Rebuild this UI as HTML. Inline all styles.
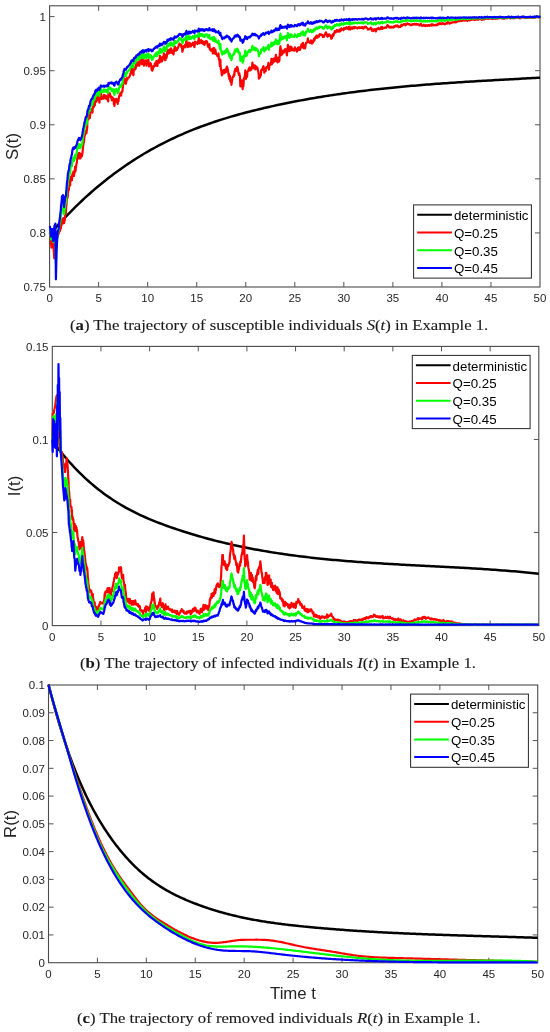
<!DOCTYPE html>
<html><head><meta charset="utf-8"><title>Figure</title>
<style>
html,body{margin:0;padding:0;background:#fff;}
body{width:550px;height:1032px;overflow:hidden;position:relative;}
svg{position:absolute;left:0;top:0;}
.cap{position:absolute;left:0;transform:scaleX(1.078);transform-origin:0 0;-webkit-text-stroke:0.12px #1a1a1a;white-space:nowrap;font-family:"Liberation Serif", "Times New Roman", serif;color:#1a1a1a;font-size:15.5px;line-height:1;}
</style></head><body>
<svg width="550" height="1032" viewBox="0 0 550 1032" font-family='"Liberation Sans", Arial, sans-serif' font-size="11.5" fill="#262626">
<path d="M98.64 287 v-5 M98.64 5.8 v5 M147.68 287 v-5 M147.68 5.8 v5 M196.72 287 v-5 M196.72 5.8 v5 M245.76 287 v-5 M245.76 5.8 v5 M294.8 287 v-5 M294.8 5.8 v5 M343.84 287 v-5 M343.84 5.8 v5 M392.88 287 v-5 M392.88 5.8 v5 M441.92 287 v-5 M441.92 5.8 v5 M490.96 287 v-5 M490.96 5.8 v5 M49.6 232.92 h5 M540 232.92 h-5 M49.6 178.85 h5 M540 178.85 h-5 M49.6 124.77 h5 M540 124.77 h-5 M49.6 70.69 h5 M540 70.69 h-5 M49.6 16.62 h5 M540 16.62 h-5" stroke="#555" stroke-width="1" fill="none"/>
<rect x="49.6" y="5.8" width="490.4" height="281.2" fill="none" stroke="#4a4a4a" stroke-width="1.1"/>
<path d="M49.6 234.4 L52.06 231.58 L54.53 228.8 L56.99 226.06 L59.46 223.37 L61.92 220.72 L64.39 218.11 L66.85 215.55 L69.31 213.02 L71.78 210.53 L74.24 208.09 L76.71 205.68 L79.17 203.32 L81.64 200.99 L84.1 198.7 L86.56 196.45 L89.03 194.23 L91.49 192.06 L93.96 189.92 L96.42 187.82 L98.89 185.75 L101.35 183.72 L103.82 181.72 L106.28 179.76 L108.74 177.83 L111.21 175.94 L113.67 174.08 L116.14 172.26 L118.6 170.47 L121.07 168.7 L123.53 166.98 L125.99 165.28 L128.46 163.61 L130.92 161.98 L133.39 160.37 L135.85 158.8 L138.32 157.25 L140.78 155.74 L143.24 154.25 L145.71 152.79 L148.17 151.36 L150.64 149.96 L153.1 148.58 L155.57 147.23 L158.03 145.91 L160.49 144.61 L162.96 143.34 L165.42 142.09 L167.89 140.87 L170.35 139.67 L172.82 138.5 L175.28 137.35 L177.74 136.22 L180.21 135.11 L182.67 134.03 L185.14 132.97 L187.6 131.93 L190.07 130.91 L192.53 129.91 L194.99 128.93 L197.46 127.97 L199.92 127.04 L202.39 126.12 L204.85 125.21 L207.32 124.33 L209.78 123.46 L212.25 122.62 L214.71 121.78 L217.17 120.97 L219.64 120.17 L222.1 119.39 L224.57 118.62 L227.03 117.87 L229.5 117.13 L231.96 116.4 L234.42 115.69 L236.89 115 L239.35 114.31 L241.82 113.64 L244.28 112.98 L246.75 112.33 L249.21 111.69 L251.67 111.07 L254.14 110.45 L256.6 109.84 L259.07 109.25 L261.53 108.66 L264 108.08 L266.46 107.51 L268.92 106.95 L271.39 106.39 L273.85 105.85 L276.32 105.31 L278.78 104.78 L281.25 104.26 L283.71 103.74 L286.17 103.24 L288.64 102.74 L291.1 102.25 L293.57 101.77 L296.03 101.29 L298.5 100.82 L300.96 100.36 L303.43 99.91 L305.89 99.46 L308.35 99.02 L310.82 98.59 L313.28 98.16 L315.75 97.74 L318.21 97.33 L320.68 96.92 L323.14 96.53 L325.6 96.13 L328.07 95.75 L330.53 95.37 L333 94.99 L335.46 94.62 L337.93 94.26 L340.39 93.91 L342.85 93.56 L345.32 93.21 L347.78 92.88 L350.25 92.54 L352.71 92.22 L355.18 91.9 L357.64 91.58 L360.1 91.27 L362.57 90.96 L365.03 90.66 L367.5 90.37 L369.96 90.08 L372.43 89.8 L374.89 89.52 L377.35 89.24 L379.82 88.97 L382.28 88.7 L384.75 88.44 L387.21 88.19 L389.68 87.93 L392.14 87.69 L394.61 87.44 L397.07 87.2 L399.53 86.97 L402 86.73 L404.46 86.51 L406.93 86.28 L409.39 86.06 L411.86 85.85 L414.32 85.63 L416.78 85.42 L419.25 85.22 L421.71 85.02 L424.18 84.82 L426.64 84.62 L429.11 84.43 L431.57 84.24 L434.03 84.05 L436.5 83.87 L438.96 83.69 L441.43 83.51 L443.89 83.33 L446.36 83.16 L448.82 82.99 L451.28 82.82 L453.75 82.65 L456.21 82.49 L458.68 82.33 L461.14 82.17 L463.61 82.01 L466.07 81.85 L468.53 81.7 L471 81.55 L473.46 81.4 L475.93 81.25 L478.39 81.1 L480.86 80.95 L483.32 80.81 L485.78 80.67 L488.25 80.52 L490.71 80.38 L493.18 80.24 L495.64 80.1 L498.11 79.96 L500.57 79.83 L503.04 79.69 L505.5 79.55 L507.96 79.42 L510.43 79.28 L512.89 79.15 L515.36 79.01 L517.82 78.88 L520.29 78.75 L522.75 78.61 L525.21 78.48 L527.68 78.34 L530.14 78.21 L532.61 78.07 L535.07 77.94 L537.54 77.8 L540 77.67" fill="none" stroke="#000" stroke-width="2.5" stroke-linejoin="round" stroke-linecap="butt" />
<path d="M49.9 232 L50.4 236.88 L50.9 241.75 L51 242.72 L51.4 246.62 L51.5 247.6 L51.9 245.57 L52.1 244.56 L52.4 243.04 L52.9 240.51 L53 240 L53.2 242.85 L53.4 245.69 L53.9 252.81 L54.3 258.5 L54.4 257.38 L54.9 251.75 L55.4 246.12 L55.5 245 L55.9 243.13 L56.4 240.8 L56.6 239.87 L56.9 238.47 L57 238 L57.4 236.8 L57.6 236.2 L57.9 235.3 L58.4 233.97 L58.6 233.1 L58.9 233.36 L59 231.27 L59.4 229.99 L59.8 231.23 L59.9 231.16 L60.4 228.61 L60.9 228.18 L61 219.65 L61.4 225.53 L61.9 221.43 L62 218.6 L62.4 221.52 L62.5 223.49 L62.9 220.8 L63 218.48 L63.4 219.97 L63.9 219.69 L64 223.24 L64.3 222.33 L64.4 220.36 L64.9 219.87 L65 216.72 L65.4 212.32 L65.5 214.79 L65.9 212.06 L66 209.47 L66.4 203.98 L66.5 204.98 L66.9 195.88 L67.4 198.08 L67.8 196.37 L67.9 190.79 L68 192.75 L68.4 188.92 L68.9 189.94 L69.4 181.55 L69.9 179.9 L70 183.65 L70.2 185.31 L70.4 177.22 L70.9 177.29 L71.4 178.1 L71.5 176.22 L71.9 180.4 L72.4 174.15 L72.9 175.4 L73.4 171.7 L73.9 175.94 L74.4 173.07 L74.9 170.7 L75 166.79 L75.4 171.29 L75.9 167.8 L76.4 164.4 L76.9 161.95 L77 159.63 L77.4 156.31 L77.9 154.55 L78.4 153.67 L78.9 158.36 L79 152.9 L79.4 153 L79.7 153.52 L79.9 155.68 L80.4 158.44 L80.9 155.81 L81.1 153.98 L81.4 155.53 L81.9 156.3 L82.4 153.13 L82.9 148.58 L83.1 145.58 L83.4 144.61 L83.8 140.99 L83.9 142.72 L84.4 136.67 L84.9 135.17 L85.4 132.16 L85.8 131.46 L85.9 130.59 L86.4 133.38 L86.9 129.7 L87.2 127.75 L87.4 118.46 L87.9 118.6 L88.4 117 L88.5 119.46 L88.9 112.28 L89.4 117.52 L89.9 117.84 L90.4 111.17 L90.6 109.82 L90.9 109.06 L91.4 109.6 L91.9 110.11 L92.4 112.59 L92.9 106.73 L93.4 106.22 L93.9 103.46 L94 106.72 L94.4 104.72 L94.9 105.1 L95.3 98.87 L95.4 99.19 L95.9 97.08 L96.4 101.61 L96.9 100.39 L97.3 97.31 L97.4 96.16 L97.9 97.92 L98.4 95.42 L98.7 94.05 L98.9 97.05 L99.4 102.63 L99.9 97.54 L100.4 95.13 L100.7 92.84 L100.9 91.95 L101.4 96.58 L101.9 99.04 L102.1 97.76 L102.4 98.36 L102.9 98.33 L103.4 98.66 L103.9 94.96 L104.1 96.51 L104.4 98.16 L104.8 96.31 L104.9 96.52 L105.4 95.5 L105.9 96.2 L106.4 99.14 L106.9 96.76 L107.4 96.48 L107.5 98.79 L107.9 98.88 L108.2 101.38 L108.4 92.52 L108.9 96.19 L109.4 93.32 L109.9 93.26 L110.2 94.67 L110.4 96.26 L110.9 97.5 L111.4 96.4 L111.9 100.32 L112.4 97.55 L112.9 97.76 L113.4 100.81 L113.6 98.52 L113.9 104.4 L114.3 103.43 L114.4 105.96 L114.9 101.41 L115.4 99.24 L115.9 99.99 L116.3 101.65 L116.4 98.91 L116.9 100.53 L117.4 100.11 L117.7 104 L117.9 99.33 L118.4 101.55 L118.9 97.64 L119.4 95.26 L119.9 94.71 L120.4 92.93 L120.9 93.47 L121.1 95.55 L121.4 92.91 L121.9 91.29 L122.4 91.59 L122.9 86.68 L123.1 84.78 L123.4 83.06 L123.9 78.88 L124.4 83.07 L124.5 78.23 L124.9 82.3 L125.4 81.52 L125.9 83.74 L126.4 81.14 L126.9 78.17 L127.4 79.82 L127.9 77.73 L128.4 77.49 L128.9 77.49 L129.4 76.58 L129.9 75.7 L130.4 73.38 L130.9 73.78 L131.4 68.66 L131.9 71.49 L132.4 69.32 L132.9 73.86 L133.4 75.11 L133.9 67.13 L134.4 69.38 L134.5 69.47 L134.9 66.76 L135.4 69.31 L135.9 67.19 L136.4 62.91 L136.9 64.84 L137.4 65.25 L137.9 65.54 L138.4 61.9 L138.9 64.87 L139.4 65.6 L139.9 60.76 L140.4 60.05 L140.9 60.79 L141.4 59.37 L141.8 64.27 L141.9 62.13 L142.4 58.47 L142.9 57.88 L143.4 59.46 L143.9 65.65 L144.4 61.43 L144.9 60.88 L145.4 61.63 L145.9 60.47 L146.4 65.76 L146.9 60.44 L147.3 61.94 L147.4 61.15 L147.9 62.84 L148.4 59.55 L148.9 66.36 L149.4 64.38 L149.9 64.77 L150.4 63.11 L150.9 63.72 L151.4 67.66 L151.8 70.31 L151.9 70.17 L152.4 70.52 L152.9 68.88 L153.4 66.17 L153.9 66.79 L154.4 65.84 L154.9 63.32 L155.4 64.05 L155.5 65.71 L155.9 63.45 L156.4 61.1 L156.9 62.81 L157.4 66 L157.9 61.59 L158.4 60.34 L158.9 59.65 L159.4 62.56 L159.9 55.74 L160.4 58.87 L160.9 61.62 L161.4 57.33 L161.9 61.46 L162.4 60.16 L162.9 56.91 L163.4 57.56 L163.9 53.3 L164.4 54.19 L164.9 60.04 L165.4 55.01 L165.5 60.11 L165.9 56.77 L166.4 58.07 L166.9 55.98 L167.4 49.82 L167.9 51.65 L168.4 53.71 L168.9 51.06 L169.4 49.62 L169.9 52.8 L170.4 51.27 L170.9 48.32 L171.4 49.43 L171.9 52.85 L172.4 50.79 L172.9 52.92 L173.4 54.54 L173.9 51.68 L174.4 48.22 L174.9 46.64 L175.4 48.52 L175.9 50.65 L176.4 49.83 L176.9 49.9 L177.4 47.77 L177.9 48.33 L178.2 46.94 L178.4 46.8 L178.9 44.82 L179.4 43.62 L179.9 45.2 L180.4 44.42 L180.9 44.37 L181.4 47.25 L181.9 46.59 L182.4 51.77 L182.9 49.61 L183.4 46.05 L183.9 47.41 L184.4 46.96 L184.9 44.88 L185.4 47.32 L185.9 44.64 L186.4 39.76 L186.9 44.92 L187.4 43.92 L187.9 47.14 L188.4 44.33 L188.9 42.5 L189.4 46.48 L189.9 43.14 L190.4 44.19 L190.9 46.48 L191.4 44.84 L191.9 43.92 L192.4 43.85 L192.7 44.99 L192.9 42.61 L193.4 44.08 L193.9 44.36 L194.4 47.16 L194.9 43.61 L195 41.64 L195.4 43.56 L195.9 42.2 L196.4 42.76 L196.9 42.56 L197.4 43.98 L197.9 41.46 L198.4 41.46 L198.8 37.65 L198.9 39.1 L199.4 43.39 L199.9 41.41 L200.4 40.89 L200.9 40.04 L201.4 42.71 L201.9 43.01 L202.4 41.05 L202.6 43.43 L202.9 43.39 L203.4 44.03 L203.9 41.92 L204.4 44.92 L204.9 43.63 L205.4 42.33 L205.9 41.22 L206.4 41.21 L206.9 42.79 L207.1 41.53 L207.4 44.03 L207.7 44.59 L207.9 46.3 L208.4 47.16 L208.9 46.8 L209.4 44.09 L209.6 47.53 L209.9 49.68 L210.4 49.54 L210.9 50.63 L211.4 49.25 L211.9 49.35 L212.4 48.55 L212.8 53.38 L212.9 52.17 L213.4 50.33 L213.9 47.96 L214.1 49.7 L214.4 53.49 L214.9 52.49 L215.4 49.66 L215.9 53.18 L216 54.24 L216.4 54.32 L216.9 54.58 L217.4 56.04 L217.9 55.71 L218.4 56.71 L218.5 53.35 L218.9 59.46 L219.4 59.97 L219.9 66.05 L220.4 59.49 L220.5 64.01 L220.9 69.31 L221.4 70.9 L221.7 74.59 L221.9 75.34 L222.4 74.44 L222.9 70.89 L223.4 70.23 L223.9 72.32 L224.4 73.02 L224.9 69.79 L225.4 69.49 L225.5 69.65 L225.9 72.1 L226.4 68.09 L226.9 66.55 L227.4 69.97 L227.5 67.95 L227.9 70.05 L228.4 73.73 L228.7 76.36 L228.9 73.75 L229.4 79.17 L229.9 75.78 L230.4 81.73 L230.9 79.61 L231.3 80.64 L231.4 84.78 L231.9 81.55 L232.4 78.19 L232.9 76.62 L233.4 76.94 L233.8 74.75 L233.9 74.37 L234.4 75.59 L234.5 71.77 L234.9 70.19 L235.4 68.54 L235.9 71.2 L236.4 70.6 L236.9 70.16 L237 66.94 L237.4 67.18 L237.6 70.01 L237.9 68.66 L238.4 72.71 L238.9 74.91 L239.4 73.34 L239.5 74.2 L239.9 76.09 L240.2 82.02 L240.4 86.39 L240.9 83.15 L241.4 84.07 L241.9 80.34 L242.4 86.92 L242.7 89.05 L242.9 85.45 L243.4 86.22 L243.9 78.56 L244.4 77.43 L244.9 75.81 L245.3 70.41 L245.4 75.08 L245.9 78.93 L246.4 75.57 L246.5 74.3 L246.9 77.13 L247.2 75.71 L247.4 71.96 L247.9 71.33 L248.4 70.21 L248.9 68.4 L249.4 68.84 L249.7 67.29 L249.9 70.5 L250.4 70.33 L250.9 68.45 L251 68.88 L251.4 69.47 L251.9 68 L252.4 62.7 L252.9 66.08 L253.4 65.04 L253.9 68.38 L254.4 65.52 L254.8 65.63 L254.9 65.4 L255.4 69.45 L255.9 67.59 L256.4 66.55 L256.9 68.25 L257.4 67.54 L257.9 70.32 L258.4 71.98 L258.6 73.34 L258.9 78.64 L259.4 76 L259.9 77.53 L260.4 75.17 L260.9 75.4 L261.2 70.42 L261.4 69.74 L261.9 69.63 L262.4 69.83 L262.5 68.61 L262.9 67.39 L263.4 66.26 L263.9 69.42 L264.4 72.77 L264.9 71.17 L265.4 70.48 L265.8 70.99 L265.9 67.56 L266.4 67.38 L266.9 66.92 L267.4 67.63 L267.9 66.53 L268.4 62.78 L268.7 67.16 L268.9 69.73 L269.4 65.14 L269.9 64.92 L270.4 64.07 L270.9 64.62 L271.4 58.79 L271.9 64.14 L272.4 60.2 L272.9 62.79 L273.1 60.6 L273.4 58.88 L273.9 58.97 L274.4 61.54 L274.5 58 L274.9 58.13 L275.4 57.91 L275.9 54.83 L276.4 61.28 L276.9 61.45 L277.4 60.03 L277.5 62.51 L277.9 57.52 L278.4 57.67 L278.9 61.64 L279.4 60.53 L279.9 51.95 L280.4 46.41 L280.9 49.78 L281.4 55.14 L281.8 52.89 L281.9 52.82 L282.4 53.99 L282.9 50.61 L283.4 51.5 L283.9 52.48 L284 52.16 L284.4 51.78 L284.9 49.45 L285.4 50.89 L285.9 49.25 L286.4 52.1 L286.9 55.3 L287.4 49.51 L287.9 44.82 L288.4 46.72 L288.9 48.7 L289.1 50.57 L289.4 51.21 L289.9 47.79 L290.4 46.75 L290.9 50.43 L291.4 46.96 L291.9 50.15 L292.4 48.56 L292.9 50 L293.4 50.32 L293.9 50.55 L294.4 50.71 L294.9 47.24 L295.4 48.81 L295.9 48.81 L296.4 49.46 L296.9 51.56 L297.4 49.31 L297.9 47.83 L298.4 47.43 L298.5 48.13 L298.9 50.09 L299.4 47.28 L299.9 49.94 L300.4 48.76 L300.9 47.13 L301.4 44.33 L301.9 46.08 L302.4 47.08 L302.9 42.74 L303.4 46.32 L303.6 48.1 L303.9 46.23 L304.4 45.66 L304.9 48.44 L305.4 47.04 L305.9 42.91 L306.4 42.89 L306.9 42.43 L307.4 42.07 L307.9 38.32 L308 42.04 L308.4 40.97 L308.9 41.82 L309.4 41.56 L309.9 42.96 L310.4 41.55 L310.9 40.31 L311.4 41.9 L311.9 43.62 L312.4 41.49 L312.9 42.72 L313.4 41 L313.9 38.93 L314.4 40.66 L314.9 37.6 L315.3 38.74 L315.4 37.27 L315.9 37.86 L316.4 35.81 L316.9 35.57 L317.4 37.71 L317.9 37.15 L318.2 36.74 L318.4 36.01 L318.9 36.69 L319.4 34.58 L319.9 34.17 L320.4 35.05 L320.9 34.4 L321.1 34.35 L321.4 35.03 L321.9 35.11 L322.4 34.98 L322.9 37.03 L323.4 36.85 L323.9 36.99 L324.4 35.57 L324.9 34.57 L325.4 33.18 L325.5 33.99 L325.9 32.27 L326.4 33.36 L326.9 35.12 L327.4 36.7 L327.9 36.52 L328.4 34.51 L328.9 35.47 L329.4 34.39 L329.9 35.94 L330.4 35.42 L330.9 36.43 L331.3 38.74 L331.4 37.43 L331.9 38.17 L332.4 35.68 L332.7 34.28 L332.9 35.53 L333.4 35.89 L333.9 33.35 L334.4 32.93 L334.9 31.06 L335.4 31.4 L335.6 32.44 L335.9 31.81 L336.4 31.05 L336.9 29.96 L337.4 31.1 L337.9 31.68 L338.4 31.55 L338.9 31.1 L339.4 29.56 L339.9 31.51 L340 30.6 L340.4 30.13 L340.9 30.57 L341.4 28.27 L341.9 29.14 L342.4 29.22 L342.9 29.52 L343.4 30.22 L343.9 29.64 L344.1 27.74 L344.4 28.27 L344.9 28.79 L345.4 28.87 L345.9 27.82 L346.4 27.19 L346.9 28.58 L347.4 28.81 L347.9 28.58 L348.4 27.26 L348.9 29.32 L349.4 26.59 L349.9 27.54 L350.4 29.51 L350.9 28.49 L351.4 28.42 L351.9 27.38 L352.4 28.79 L352.9 27.36 L353.2 27.97 L353.4 28.08 L353.9 27.28 L354.4 28.34 L354.9 27.08 L355.4 27.19 L355.9 27.65 L356.4 27.51 L356.9 28.05 L357.4 28.5 L357.9 27.8 L358.4 27.41 L358.9 27.3 L359.4 27.35 L359.9 28.13 L360.4 27.67 L360.9 27.93 L361.4 27.66 L361.9 27.06 L362.3 28 L362.4 27.05 L362.9 27.5 L363.4 28.67 L363.9 27.33 L364.4 27.66 L364.9 26.76 L365.4 27.26 L365.9 26.77 L366.4 27.5 L366.9 27.68 L367.4 28.28 L367.9 29.59 L368.4 29.14 L368.9 29.37 L369.4 29 L369.9 28.83 L370.4 28.42 L370.9 27.64 L371.4 28.91 L371.9 30.58 L372.4 30.29 L372.9 29.49 L373.4 31.06 L373.9 29.97 L374.4 29.56 L374.9 29.04 L375 29.07 L375.4 29.54 L375.9 31.37 L376.4 30.04 L376.9 28.9 L377.4 28.79 L377.9 28.95 L378.4 27.77 L378.9 28.7 L379.4 29.3 L379.9 29.08 L380.4 29.11 L380.9 27.67 L381.4 26.86 L381.9 28.59 L382.3 28.89 L382.4 27.2 L382.9 27.83 L383.4 27.85 L383.9 28.16 L384.4 27.99 L384.9 27.42 L385.4 27.66 L385.9 27.67 L386.4 27.49 L386.9 26.22 L387.4 25.07 L387.9 26.11 L388.4 25.84 L388.9 26.92 L389.4 27.49 L389.5 27.38 L389.9 26.9 L390.4 26.99 L390.9 27.65 L391.4 26.63 L391.9 27.3 L392.4 27.32 L392.9 27.01 L393.4 27.59 L393.9 26.42 L394.4 27.01 L394.9 26.04 L395.4 25.81 L395.9 25.53 L396.4 26.27 L396.8 25.67 L396.9 26.05 L397.4 25.42 L397.9 26.42 L398.4 27.08 L398.9 26.32 L399.4 26.81 L399.9 26.3 L400.4 26.96 L400.9 25.98 L401.4 24.75 L401.9 25.93 L402.4 25.38 L402.9 24.69 L403.4 24.63 L403.9 24.07 L404.4 24.58 L404.9 24.22 L405.4 25.31 L405.9 25.18 L406.4 23.96 L406.9 23.63 L407.4 23.92 L407.7 23.35 L407.9 24.03 L408.4 24.27 L408.9 24 L409.4 24.03 L409.9 24.52 L410.4 25.1 L410.9 25.3 L411.4 24.69 L411.9 24.88 L412.4 24.2 L412.9 24.53 L413.4 23.99 L413.9 24.62 L414.4 23.89 L414.9 23.8 L415.4 24.22 L415.9 24.6 L416.4 23.79 L416.8 23.97 L416.9 24.35 L417.4 24.58 L417.9 24.2 L418.4 24.58 L418.9 24.57 L419.4 25.44 L419.9 25.35 L420.4 24.44 L420.9 23.77 L421.4 24.78 L421.9 25.69 L422.4 25.5 L422.9 25.87 L423.4 25.32 L423.9 24.74 L424.4 25.74 L424.9 25.75 L425.4 26.13 L425.9 25.16 L426.4 25.65 L426.9 25.31 L427.4 25.94 L427.9 25.34 L428.4 25.11 L428.9 25.01 L429.4 25.91 L429.9 25.49 L430.4 24.92 L430.9 24.57 L431.4 24.42 L431.9 25.6 L432.4 24.26 L432.9 24.31 L433.4 25.02 L433.9 25.45 L434.4 24.88 L434.9 25.13 L435 25.19 L435.4 25.25 L435.9 24.74 L436.4 25.28 L436.9 24.7 L437.4 25.07 L437.9 23.92 L438.4 24.44 L438.9 23.55 L439.4 23.13 L439.9 23.81 L440.4 23.38 L440.5 23.8 L440.9 23.27 L441.4 24.21 L441.9 23.81 L442.4 23.19 L442.9 23.53 L443.4 23.9 L443.9 23.32 L444.4 23.65 L444.9 24.35 L445.4 24.06 L445.9 23.6 L446.4 23.21 L446.9 23.54 L447.4 22.78 L447.9 21.94 L448.4 22.6 L448.9 22.62 L449.4 23.71 L449.9 23.39 L450.4 22.84 L450.9 22.59 L451.4 22.99 L451.9 22.49 L452.4 22.32 L452.9 22.34 L453.4 22.3 L453.9 22.17 L454.4 22.02 L454.9 22.32 L455.4 22.44 L455.9 21.08 L456.4 22.17 L456.9 21.45 L457.2 21.61 L457.4 20.91 L457.9 21.06 L458.4 21.03 L458.9 20.94 L459.4 21.16 L459.9 21.11 L460.4 20.43 L460.9 20.53 L461.4 20.85 L461.9 20.89 L462.4 20.48 L462.9 20.34 L463.4 20.31 L463.9 19.9 L464.4 19.67 L464.9 20.66 L465.4 20.17 L465.9 20.18 L466.4 19.82 L466.9 20.46 L467.4 20.79 L467.9 20.1 L468.4 20.13 L468.9 19.62 L469.4 20.4 L469.9 20.27 L470.4 19.53 L470.9 20.06 L471.4 19.85 L471.8 19.78 L471.9 19.74 L472.4 19.32 L472.9 19.22 L473.4 19.62 L473.9 19.47 L474.4 19.06 L474.9 20.06 L475.4 19.49 L475.9 19.17 L476.4 19 L476.9 19.46 L477.4 19.69 L477.9 19.47 L478.4 19.62 L478.9 18.74 L479.4 18.9 L479.9 18.89 L480.4 19.05 L480.9 19.26 L481.4 18.35 L481.9 20.03 L482.4 18.99 L482.9 19.12 L483.4 19.33 L483.9 19.39 L484.4 19.15 L484.9 17.86 L485.4 18.15 L485.9 18.93 L486.4 18.5 L486.9 18.3 L487.4 17.73 L487.9 18.91 L488.4 18.97 L488.9 18.44 L489.4 18.55 L489.9 18.58 L490.4 18.18 L490.9 18.37 L491.4 18.61 L491.9 18.77 L492.4 19.08 L492.7 18.69 L492.9 18.38 L493.4 18.61 L493.9 18.27 L494.4 17.92 L494.9 18.71 L495.4 18.36 L495.9 18.43 L496.4 18.64 L496.9 18.02 L497.4 18.49 L497.9 18.55 L498.4 18.35 L498.9 18.46 L499.4 18.04 L499.9 17.35 L500.4 17.87 L500.9 17.77 L501.4 18.41 L501.9 18.36 L502.4 18.03 L502.9 18.14 L503.4 18.66 L503.9 18.72 L504.4 18.43 L504.9 18.36 L505.4 18.06 L505.9 18.01 L506.4 18.26 L506.9 18.05 L507.4 18.14 L507.9 17.61 L508.4 17.23 L508.9 17.09 L509.4 17.52 L509.9 18.31 L510.4 18.48 L510.9 17.69 L511.4 17.22 L511.9 17.97 L512.4 18.06 L512.9 17.37 L513.4 18.08 L513.6 17.96 L513.9 18.35 L514.4 18.09 L514.9 18.21 L515.4 18.02 L515.9 17.47 L516.4 17.57 L516.9 17.42 L517.4 17.95 L517.9 17.4 L518.4 17.02 L518.9 17.74 L519.4 18.13 L519.9 18.35 L520.4 18.28 L520.9 17.25 L521.4 17.25 L521.9 17.29 L522.4 17.5 L522.9 16.74 L523.4 17.32 L523.9 17.6 L524.4 17.21 L524.9 17.49 L525.4 17.97 L525.9 17.68 L526.4 17.96 L526.9 18.03 L527.4 17.81 L527.9 17.72 L528.4 17.4 L528.9 17.91 L529.4 17.4 L529.9 17.16 L530.4 17.61 L530.9 17.19 L531.4 17.5 L531.9 17.82 L532.4 17.54 L532.9 17.46 L533.4 17.73 L533.9 17.75 L534.4 16.87 L534.9 16.68 L535.4 17.63 L535.9 17.54 L536.4 16.57 L536.9 16.55 L537.4 17.06 L537.9 16.82 L538.4 17.29 L538.9 17.28 L539.4 17.42 L539.9 16.83 L540 17.33" fill="none" stroke="#f00" stroke-width="2.2" stroke-linejoin="round" stroke-linecap="butt" />
<path d="M49.9 228.47 L50.4 233.39 L50.9 238.31 L51 239.29 L51.4 239.37 L51.5 239.39 L51.9 236.92 L52.1 235.69 L52.4 236.9 L52.9 238.92 L53 239.33 L53.2 241.79 L53.4 241.59 L53.9 241.09 L54.3 240.69 L54.4 239.49 L54.9 236.39 L55.4 233.29 L55.5 239.15 L55.9 263.75 L56.4 250.82 L56.6 245.64 L56.9 241.96 L57 240.74 L57.4 236.12 L57.6 233.81 L57.9 232.91 L58.4 231.52 L58.6 230.74 L58.9 229.58 L59 227.7 L59.4 225.04 L59.8 224.11 L59.9 223.67 L60.4 219.92 L60.9 217.64 L61 211.37 L61.4 213.29 L61.9 207.83 L62 205.36 L62.4 207.3 L62.5 208.63 L62.9 206.59 L63 204.94 L63.4 208.38 L63.9 211.22 L64 214.27 L64.3 212.38 L64.4 210.69 L64.9 208.66 L65 206.16 L65.4 202.93 L65.5 204.57 L65.9 202.93 L66 201.22 L66.4 195.83 L66.5 196.12 L66.9 188.11 L67.4 187.42 L67.8 184.49 L67.9 180.56 L68 181.82 L68.4 178.59 L68.9 178.56 L69.4 172.06 L69.9 170.19 L70 172.61 L70.2 173.37 L70.4 167.36 L70.9 166.31 L71.4 165.75 L71.5 164.24 L71.9 166.06 L72.4 160.44 L72.9 159.98 L73.4 157.67 L73.9 160.82 L74.4 159.09 L74.9 157.7 L75 155.06 L75.4 158.23 L75.9 155.93 L76.4 153.69 L76.9 152.11 L77 150.53 L77.4 147.89 L77.9 146.22 L78.4 145.16 L78.9 147.93 L79 144.08 L79.4 144.4 L79.7 144.94 L79.9 146.35 L80.4 148.05 L80.9 146.05 L81.1 144.72 L81.4 145.36 L81.9 145.19 L82.4 142.32 L82.9 138.48 L83.1 136.14 L83.4 135.21 L83.8 132.36 L83.9 133.43 L84.4 128.71 L84.9 127.11 L85.4 124.47 L85.8 123.54 L85.9 122.91 L86.4 124.68 L86.9 122 L87.2 120.57 L87.4 113.99 L87.9 113.58 L88.4 111.98 L88.5 113.56 L88.9 108.19 L89.4 111.24 L89.9 110.92 L90.4 105.79 L90.6 104.64 L90.9 103.83 L91.4 103.7 L91.9 103.55 L92.4 105.1 L92.9 100.91 L93.4 100.4 L93.9 98.34 L94 100.54 L94.4 98.86 L94.9 98.74 L95.3 94.15 L95.4 94.37 L95.9 92.88 L96.4 95.95 L96.9 95.07 L97.3 92.92 L97.4 92.1 L97.9 93.13 L98.4 91.24 L98.7 90.19 L98.9 92.18 L99.4 95.84 L99.9 92.16 L100.4 90.33 L100.7 88.65 L100.9 87.9 L101.4 90.76 L101.9 92.12 L102.1 91.11 L102.4 91.54 L102.9 91.56 L103.4 91.82 L103.9 89.31 L104.1 90.39 L104.4 91.65 L104.8 90.54 L104.9 90.65 L105.4 89.81 L105.9 90.14 L106.4 92.02 L106.9 90.23 L107.4 89.9 L107.5 91.46 L107.9 91.34 L108.2 92.93 L108.4 86.83 L108.9 89.33 L109.4 87.32 L109.9 87.26 L110.2 88.21 L110.4 89.09 L110.9 89.4 L111.4 88.56 L111.9 91.17 L112.4 89.18 L112.9 89.24 L113.4 91.25 L113.6 89.64 L113.9 93.77 L114.3 93.21 L114.4 94.89 L114.9 91.46 L115.4 89.66 L115.9 89.87 L116.3 90.76 L116.4 88.93 L116.9 90.29 L117.4 90.25 L117.7 93.08 L117.9 90.04 L118.4 92 L118.9 88.98 L119.4 87.01 L119.9 86.3 L120.4 84.74 L120.9 85.23 L121.1 86.71 L121.4 84.82 L121.9 83.58 L122.4 83.67 L122.9 80.17 L123.1 78.82 L123.4 77.26 L123.9 73.78 L124.4 76.05 L124.5 72.6 L124.9 75.27 L125.4 74.57 L125.9 75.94 L126.4 73.99 L126.9 71.79 L127.4 72.77 L127.9 71.17 L128.4 70.83 L128.9 70.65 L129.4 69.85 L129.9 69.06 L130.4 67.29 L130.9 67.39 L131.4 63.69 L131.9 65.46 L132.4 63.78 L132.9 66.73 L133.4 67.41 L133.9 61.74 L134.4 63.11 L134.5 63.13 L134.9 61.18 L135.4 62.83 L135.9 61.26 L136.4 58.2 L136.9 59.41 L137.4 59.58 L137.9 59.67 L138.4 57.05 L138.9 58.98 L139.4 59.37 L139.9 55.93 L140.4 55.32 L140.9 55.72 L141.4 54.63 L141.8 57.9 L141.9 56.42 L142.4 53.81 L142.9 53.32 L143.4 54.32 L143.9 58.49 L144.4 55.5 L144.9 55.04 L145.4 55.46 L145.9 54.58 L146.4 58.13 L146.9 54.39 L147.3 55.35 L147.4 54.77 L147.9 55.78 L148.4 53.36 L148.9 57.89 L149.4 56.37 L149.9 56.48 L150.4 55.18 L150.9 55.44 L151.4 58 L151.8 59.69 L151.9 59.58 L152.4 59.73 L152.9 58.51 L153.4 56.56 L153.9 56.91 L154.4 56.17 L154.9 54.35 L155.4 54.76 L155.5 55.89 L155.9 54.29 L156.4 52.62 L156.9 53.75 L157.4 55.89 L157.9 52.81 L158.4 51.9 L158.9 51.37 L159.4 53.32 L159.9 48.58 L160.4 50.68 L160.9 52.52 L161.4 49.52 L161.9 52.31 L162.4 51.37 L162.9 49.08 L163.4 49.48 L163.9 46.5 L164.4 47.06 L164.9 51.03 L165.4 47.52 L165.5 51.01 L165.9 48.67 L166.4 49.5 L166.9 48.01 L167.4 43.72 L167.9 44.91 L168.4 46.27 L168.9 44.39 L169.4 43.34 L169.9 45.47 L170.4 44.36 L170.9 42.27 L171.4 42.97 L171.9 45.27 L172.4 43.79 L172.9 45.19 L173.4 46.25 L173.9 44.22 L174.4 41.79 L174.9 40.64 L175.4 41.87 L175.9 43.28 L176.4 42.65 L176.9 42.64 L177.4 41.12 L177.9 41.44 L178.2 40.45 L178.4 40.34 L178.9 38.92 L179.4 38.05 L179.9 39.08 L180.4 38.49 L180.9 38.41 L181.4 40.34 L181.9 39.83 L182.4 43.34 L182.9 41.8 L183.4 39.3 L183.9 40.19 L184.4 39.83 L184.9 38.34 L185.4 39.97 L185.9 38.07 L186.4 34.67 L186.9 38.17 L187.4 37.42 L187.9 39.59 L188.4 37.61 L188.9 36.29 L189.4 38.98 L189.9 36.63 L190.4 37.3 L190.9 38.82 L191.4 37.64 L191.9 36.96 L192.4 36.86 L192.7 37.61 L192.9 35.98 L193.4 36.99 L193.9 37.18 L194.4 39.1 L194.9 36.65 L195 35.3 L195.4 36.62 L195.9 35.69 L196.4 36.08 L196.9 35.95 L197.4 36.93 L197.9 35.21 L198.4 35.21 L198.8 32.59 L198.9 33.57 L199.4 36.44 L199.9 34.99 L200.4 34.55 L200.9 33.88 L201.4 35.64 L201.9 35.75 L202.4 34.31 L202.6 35.92 L202.9 35.88 L203.4 36.32 L203.9 34.86 L204.4 36.91 L204.9 36.02 L205.4 35.11 L205.9 34.34 L206.4 34.33 L206.9 35.41 L207.1 34.54 L207.4 36.03 L207.7 36.19 L207.9 37.26 L208.4 37.57 L208.9 37.05 L209.4 34.91 L209.6 37.17 L209.9 38.6 L210.4 38.42 L210.9 39.1 L211.4 38.08 L211.9 38.07 L212.4 37.45 L212.8 40.71 L212.9 39.89 L213.4 38.71 L213.9 37.16 L214.1 38.38 L214.4 41.05 L214.9 40.46 L215.4 38.61 L215.9 41.13 L216 41.88 L216.4 41.84 L216.9 41.88 L217.4 42.76 L217.9 42.4 L218.4 42.96 L218.5 40.62 L218.9 44.65 L219.4 44.79 L219.9 48.75 L220.4 44.02 L220.5 47.09 L220.9 50.4 L221.4 51.07 L221.7 53.35 L221.9 54.22 L222.4 54.49 L222.9 52.06 L223.4 51.63 L223.9 53.09 L224.4 53.59 L224.9 51.39 L225.4 50.88 L225.5 50.93 L225.9 52.56 L226.4 49.74 L226.9 48.62 L227.4 50.92 L227.5 49.51 L227.9 50.63 L228.4 52.75 L228.7 54.3 L228.9 52.51 L229.4 56.25 L229.9 53.93 L230.4 58.03 L230.9 56.58 L231.3 57.29 L231.4 60.15 L231.9 58 L232.4 55.77 L232.9 54.75 L233.4 55.05 L233.8 53.6 L233.9 53.31 L234.4 54.06 L234.5 51.41 L234.9 50.47 L235.4 49.52 L235.9 51.54 L236.4 51.3 L236.9 51.19 L237 49.01 L237.4 48.67 L237.6 50.36 L237.9 49.37 L238.4 52.05 L238.9 53.45 L239.4 52.26 L239.5 52.83 L239.9 53.94 L240.2 57.87 L240.4 60.87 L240.9 58.64 L241.4 59.26 L241.9 56.68 L242.4 61.2 L242.7 62.66 L242.9 60.24 L243.4 60.94 L243.9 55.83 L244.4 55.22 L244.9 54.27 L245.3 50.68 L245.4 53.85 L245.9 56.24 L246.4 53.68 L246.5 52.76 L246.9 55.34 L247.2 54.84 L247.4 52.33 L247.9 52.07 L248.4 51.48 L248.9 50.4 L249.4 50.88 L249.7 49.92 L249.9 52.01 L250.4 51.6 L250.9 50.02 L251 50.26 L251.4 50.63 L251.9 49.58 L252.4 45.89 L252.9 48.17 L253.4 47.42 L253.9 49.67 L254.4 47.66 L254.8 47.7 L254.9 47.56 L255.4 50.4 L255.9 49.19 L256.4 48.53 L256.9 49.77 L257.4 49.34 L257.9 51.08 L258.4 52.05 L258.6 52.91 L258.9 56.16 L259.4 53.67 L259.9 54.06 L260.4 52.67 L260.9 53.06 L261.2 49.77 L261.4 49.4 L261.9 49.54 L262.4 49.91 L262.5 49.11 L262.9 48.06 L263.4 47.16 L263.9 49.21 L264.4 51.4 L264.9 50.17 L265.4 49.58 L265.8 49.84 L265.9 47.5 L266.4 47.5 L266.9 47.29 L267.4 47.9 L267.9 47.26 L268.4 44.8 L268.7 47.88 L268.9 49.68 L269.4 46.59 L269.9 46.5 L270.4 45.99 L270.9 46.43 L271.4 42.49 L271.9 46.23 L272.4 43.59 L272.9 45.44 L273.1 43.96 L273.4 42.71 L273.9 42.67 L274.4 44.33 L274.5 41.88 L274.9 41.88 L275.4 41.62 L275.9 39.38 L276.4 43.71 L276.9 43.71 L277.4 42.62 L277.5 44.3 L277.9 40.92 L278.4 41.09 L278.9 43.88 L279.4 43.18 L279.9 37.34 L280.4 33.59 L280.9 35.96 L281.4 39.71 L281.8 38.21 L281.9 38.19 L282.4 39.11 L282.9 36.9 L283.4 37.63 L283.9 38.42 L284 38.22 L284.4 37.96 L284.9 36.35 L285.4 37.34 L285.9 36.21 L286.4 38.17 L286.9 40.37 L287.4 36.38 L287.9 33.15 L288.4 34.45 L288.9 35.81 L289.1 37.1 L289.4 37.52 L289.9 35.15 L290.4 34.4 L290.9 36.9 L291.4 34.49 L291.9 36.66 L292.4 35.53 L292.9 36.5 L293.4 36.69 L293.9 36.82 L294.4 36.9 L294.9 34.49 L295.4 35.52 L295.9 35.46 L296.4 35.85 L296.9 37.2 L297.4 35.57 L297.9 34.47 L298.4 34.1 L298.5 34.56 L298.9 35.95 L299.4 34.07 L299.9 35.96 L300.4 35.19 L300.9 34.13 L301.4 32.25 L301.9 33.51 L302.4 34.25 L302.9 31.32 L303.4 33.83 L303.6 35.07 L303.9 33.82 L304.4 33.47 L304.9 35.43 L305.4 34.51 L305.9 31.72 L306.4 31.75 L306.9 31.48 L307.4 31.28 L307.9 28.74 L308 31.31 L308.4 30.56 L308.9 31.12 L309.4 30.93 L309.9 31.87 L310.4 30.88 L310.9 30.02 L311.4 31.08 L311.9 32.24 L312.4 30.75 L312.9 31.71 L313.4 30.64 L313.9 29.34 L314.4 30.65 L314.9 28.66 L315.3 29.54 L315.4 28.53 L315.9 28.93 L316.4 27.52 L316.9 27.36 L317.4 28.83 L317.9 28.44 L318.2 28.16 L318.4 27.67 L318.9 28.17 L319.4 26.76 L319.9 26.51 L320.4 27.15 L320.9 26.74 L321.1 26.72 L321.4 27.19 L321.9 27.25 L322.4 27.17 L322.9 28.58 L323.4 28.47 L323.9 28.57 L324.4 27.6 L324.9 26.92 L325.4 25.96 L325.5 26.52 L325.9 25.34 L326.4 26.09 L326.9 27.3 L327.4 28.35 L327.9 28.19 L328.4 26.77 L328.9 27.39 L329.4 26.61 L329.9 27.64 L330.4 27.24 L330.9 27.89 L331.3 29.45 L331.4 28.57 L331.9 29.17 L332.4 27.55 L332.7 26.65 L332.9 27.54 L333.4 27.87 L333.9 26.21 L334.4 26.01 L334.9 24.8 L335.4 25.12 L335.6 25.87 L335.9 25.45 L336.4 24.94 L336.9 24.21 L337.4 25 L337.9 25.42 L338.4 25.35 L338.9 25.06 L339.4 24.02 L339.9 25.37 L340 24.75 L340.4 24.45 L340.9 24.78 L341.4 23.23 L341.9 23.86 L342.4 23.94 L342.9 24.17 L343.4 24.68 L343.9 24.31 L344.1 23.02 L344.4 23.39 L344.9 23.74 L345.4 23.79 L345.9 23.06 L346.4 22.63 L346.9 23.58 L347.4 23.74 L347.9 23.58 L348.4 22.67 L348.9 24.09 L349.4 22.2 L349.9 22.85 L350.4 24.21 L350.9 23.5 L351.4 23.45 L351.9 22.74 L352.4 23.7 L352.9 22.71 L353.2 23.14 L353.4 23.21 L353.9 22.65 L354.4 23.38 L354.9 22.51 L355.4 22.58 L355.9 22.89 L356.4 22.79 L356.9 23.16 L357.4 23.47 L357.9 22.98 L358.4 22.71 L358.9 22.63 L359.4 22.66 L359.9 23.2 L360.4 22.87 L360.9 23.05 L361.4 22.86 L361.9 22.45 L362.3 23.09 L362.4 22.43 L362.9 22.72 L363.4 23.49 L363.9 22.55 L364.4 22.75 L364.9 22.11 L365.4 22.43 L365.9 22.07 L366.4 22.53 L366.9 22.61 L367.4 22.99 L367.9 23.85 L368.4 23.5 L368.9 23.61 L369.4 23.32 L369.9 23.16 L370.4 22.84 L370.9 22.26 L371.4 23.09 L371.9 24.21 L372.4 23.96 L372.9 23.38 L373.4 24.42 L373.9 23.63 L374.4 23.31 L374.9 22.91 L375 22.92 L375.4 23.28 L375.9 24.57 L376.4 23.68 L376.9 22.92 L377.4 22.88 L377.9 23.02 L378.4 22.24 L378.9 22.91 L379.4 23.35 L379.9 23.24 L380.4 23.29 L380.9 22.32 L381.4 21.8 L381.9 23.02 L382.3 23.25 L382.4 22.09 L382.9 22.53 L383.4 22.56 L383.9 22.78 L384.4 22.67 L384.9 22.28 L385.4 22.46 L385.9 22.47 L386.4 22.36 L386.9 21.5 L387.4 20.71 L387.9 21.43 L388.4 21.26 L388.9 22.01 L389.4 22.41 L389.5 22.33 L389.9 22.01 L390.4 22.08 L390.9 22.55 L391.4 21.86 L391.9 22.32 L392.4 22.35 L392.9 22.15 L393.4 22.55 L393.9 21.76 L394.4 22.18 L394.9 21.52 L395.4 21.37 L395.9 21.18 L396.4 21.7 L396.8 21.3 L396.9 21.57 L397.4 21.14 L397.9 21.84 L398.4 22.32 L398.9 21.81 L399.4 22.16 L399.9 21.83 L400.4 22.29 L400.9 21.63 L401.4 20.8 L401.9 21.63 L402.4 21.27 L402.9 20.81 L403.4 20.78 L403.9 20.41 L404.4 20.77 L404.9 20.55 L405.4 21.31 L405.9 21.23 L406.4 20.41 L406.9 20.2 L407.4 20.41 L407.7 20.03 L407.9 20.5 L408.4 20.66 L408.9 20.48 L409.4 20.5 L409.9 20.83 L410.4 21.23 L410.9 21.37 L411.4 20.95 L411.9 21.08 L412.4 20.62 L412.9 20.84 L413.4 20.47 L413.9 20.9 L414.4 20.4 L414.9 20.34 L415.4 20.63 L415.9 20.89 L416.4 20.33 L416.8 20.46 L416.9 20.71 L417.4 20.85 L417.9 20.57 L418.4 20.81 L418.9 20.79 L419.4 21.36 L419.9 21.28 L420.4 20.63 L420.9 20.15 L421.4 20.83 L421.9 21.44 L422.4 21.29 L422.9 21.52 L423.4 21.12 L423.9 20.7 L424.4 21.37 L424.9 21.36 L425.4 21.6 L425.9 20.92 L426.4 21.27 L426.9 21.05 L427.4 21.5 L427.9 21.1 L428.4 20.96 L428.9 20.91 L429.4 21.54 L429.9 21.27 L430.4 20.89 L430.9 20.66 L431.4 20.57 L431.9 21.4 L432.4 20.5 L432.9 20.54 L433.4 21.05 L433.9 21.36 L434.4 20.99 L434.9 21.17 L435 21.22 L435.4 21.27 L435.9 20.94 L436.4 21.33 L436.9 20.95 L437.4 21.23 L437.9 20.46 L438.4 20.83 L438.9 20.24 L439.4 19.97 L439.9 20.45 L440.4 20.18 L440.5 20.47 L440.9 20.11 L441.4 20.76 L441.9 20.48 L442.4 20.06 L442.9 20.3 L443.4 20.56 L443.9 20.16 L444.4 20.39 L444.9 20.87 L445.4 20.67 L445.9 20.36 L446.4 20.1 L446.9 20.32 L447.4 19.81 L447.9 19.23 L448.4 19.69 L448.9 19.7 L449.4 20.46 L449.9 20.24 L450.4 19.86 L450.9 19.69 L451.4 20.01 L451.9 19.7 L452.4 19.62 L452.9 19.67 L453.4 19.68 L453.9 19.64 L454.4 19.57 L454.9 19.81 L455.4 19.94 L455.9 19.04 L456.4 19.83 L456.9 19.37 L457.2 19.5 L457.4 19.02 L457.9 19.14 L458.4 19.12 L458.9 19.07 L459.4 19.23 L459.9 19.2 L460.4 18.75 L460.9 18.82 L461.4 19.05 L461.9 19.09 L462.4 18.81 L462.9 18.73 L463.4 18.72 L463.9 18.44 L464.4 18.3 L464.9 18.98 L465.4 18.65 L465.9 18.67 L466.4 18.43 L466.9 18.88 L467.4 19.11 L467.9 18.65 L468.4 18.68 L468.9 18.34 L469.4 18.88 L469.9 18.8 L470.4 18.3 L470.9 18.67 L471.4 18.54 L471.8 18.49 L471.9 18.47 L472.4 18.18 L472.9 18.12 L473.4 18.4 L473.9 18.3 L474.4 18.02 L474.9 18.71 L475.4 18.32 L475.9 18.1 L476.4 17.99 L476.9 18.31 L477.4 18.48 L477.9 18.32 L478.4 18.43 L478.9 17.84 L479.4 17.94 L479.9 17.94 L480.4 18.06 L480.9 18.21 L481.4 17.58 L481.9 18.74 L482.4 18.03 L482.9 18.13 L483.4 18.27 L483.9 18.31 L484.4 18.16 L484.9 17.27 L485.4 17.48 L485.9 18.01 L486.4 17.72 L486.9 17.59 L487.4 17.2 L487.9 18.01 L488.4 18.06 L488.9 17.7 L489.4 17.78 L489.9 17.8 L490.4 17.53 L490.9 17.66 L491.4 17.83 L491.9 17.95 L492.4 18.16 L492.7 17.9 L492.9 17.69 L493.4 17.84 L493.9 17.61 L494.4 17.37 L494.9 17.92 L495.4 17.68 L495.9 17.73 L496.4 17.88 L496.9 17.46 L497.4 17.78 L497.9 17.82 L498.4 17.68 L498.9 17.76 L499.4 17.48 L499.9 17.01 L500.4 17.36 L500.9 17.3 L501.4 17.74 L501.9 17.71 L502.4 17.48 L502.9 17.56 L503.4 17.92 L503.9 17.96 L504.4 17.77 L504.9 17.72 L505.4 17.51 L505.9 17.48 L506.4 17.65 L506.9 17.51 L507.4 17.57 L507.9 17.21 L508.4 16.95 L508.9 16.86 L509.4 17.15 L509.9 17.7 L510.4 17.82 L510.9 17.28 L511.4 16.96 L511.9 17.47 L512.4 17.54 L512.9 17.07 L513.4 17.56 L513.6 17.47 L513.9 17.74 L514.4 17.56 L514.9 17.64 L515.4 17.51 L515.9 17.14 L516.4 17.21 L516.9 17.1 L517.4 17.47 L517.9 17.09 L518.4 16.83 L518.9 17.33 L519.4 17.59 L519.9 17.75 L520.4 17.7 L520.9 16.99 L521.4 16.99 L521.9 17.02 L522.4 17.16 L522.9 16.64 L523.4 17.04 L523.9 17.23 L524.4 16.96 L524.9 17.16 L525.4 17.49 L525.9 17.29 L526.4 17.49 L526.9 17.53 L527.4 17.38 L527.9 17.32 L528.4 17.1 L528.9 17.45 L529.4 17.1 L529.9 16.93 L530.4 17.25 L530.9 16.96 L531.4 17.17 L531.9 17.39 L532.4 17.2 L532.9 17.14 L533.4 17.33 L533.9 17.34 L534.4 16.74 L534.9 16.61 L535.4 17.26 L535.9 17.21 L536.4 16.53 L536.9 16.52 L537.4 16.87 L537.9 16.71 L538.4 17.03 L538.9 17.02 L539.4 17.13 L539.9 16.71 L540 17.06" fill="none" stroke="#0f0" stroke-width="2.2" stroke-linejoin="round" stroke-linecap="butt" />
<path d="M49.9 225.8 L50.4 230.75 L50.9 235.71 L51 236.7 L51.4 233.9 L51.5 233.2 L51.9 230.4 L52.1 229 L52.4 232.27 L52.9 237.73 L53 238.82 L53.2 241 L53.4 238.5 L53.9 232.25 L54.3 227.25 L54.4 226 L54.9 224.8 L55.4 223.6 L55.5 234.74 L55.9 279.3 L56.4 258.37 L56.6 250 L56.9 244.6 L57 242.8 L57.4 235.6 L57.6 232 L57.9 231.1 L58.4 229.65 L58.6 228.97 L58.9 226.58 L59 225.1 L59.4 221.41 L59.8 218.51 L59.9 217.75 L60.4 213.25 L60.9 209.42 L61 206.02 L61.4 203.99 L61.9 197.87 L62 196.02 L62.4 196.67 L62.5 197.22 L62.9 195.95 L63 195.12 L63.4 199.76 L63.9 204.89 L64 207.04 L64.3 204.48 L64.4 203.21 L64.9 199.77 L65 198.13 L65.4 196.13 L65.5 196.75 L65.9 195.82 L66 194.99 L66.4 189.95 L66.5 189.44 L66.9 183.09 L67.4 179.4 L67.8 175.36 L67.9 173.36 L68 173.7 L68.4 171.17 L68.9 169.83 L69.4 165.54 L69.9 163.36 L70 164.2 L70.2 163.94 L70.4 160.54 L70.9 158.37 L71.4 156.44 L71.5 155.41 L71.9 154.76 L72.4 150.35 L72.9 148.29 L73.4 147.43 L73.9 149.04 L74.4 148.44 L74.9 147.99 L75 146.82 L75.4 147.99 L75.9 146.61 L76.4 145.25 L76.9 144.19 L77 143.4 L77.4 141.67 L77.9 140.25 L78.4 139.11 L78.9 139.71 L79 137.82 L79.4 138.23 L79.7 138.67 L79.9 139.29 L80.4 140.02 L80.9 139.06 L81.1 138.43 L81.4 137.91 L81.9 136.47 L82.4 133.79 L82.9 130.69 L83.1 129.08 L83.4 128.03 L83.8 125.91 L83.9 126.17 L84.4 122.89 L84.9 121.04 L85.4 118.71 L85.8 117.39 L85.9 116.98 L86.4 117.21 L86.9 115.42 L87.2 114.42 L87.4 111.08 L87.9 110.04 L88.4 108.47 L88.5 109.02 L88.9 105.85 L89.4 106.34 L89.9 105.29 L90.4 102.05 L90.6 101.17 L90.9 100.28 L91.4 99.35 L91.9 98.42 L92.4 98.69 L92.9 96.36 L93.4 95.69 L93.9 94.33 L94 95.24 L94.4 94 L94.9 93.35 L95.3 90.78 L95.4 90.85 L95.9 90.02 L96.4 91.27 L96.9 90.71 L97.3 89.61 L97.4 89.19 L97.9 89.4 L98.4 88.28 L98.7 87.65 L98.9 88.45 L99.4 89.86 L99.9 87.93 L100.4 86.84 L100.7 85.92 L100.9 85.44 L101.4 86.36 L101.9 86.61 L102.1 86 L102.4 86.26 L102.9 86.37 L103.4 86.59 L103.9 85.55 L104.1 86.08 L104.4 86.79 L104.8 86.47 L104.9 86.47 L105.4 85.86 L105.9 85.79 L106.4 86.42 L106.9 85.38 L107.4 85.01 L107.5 85.67 L107.9 85.36 L108.2 85.89 L108.4 83.05 L108.9 84.01 L109.4 82.92 L109.9 82.72 L110.2 83.05 L110.4 83.22 L110.9 82.8 L111.4 82.44 L111.9 83.65 L112.4 82.78 L112.9 82.83 L113.4 83.77 L113.6 83.05 L113.9 85.04 L114.3 84.95 L114.4 85.64 L114.9 83.69 L115.4 82.48 L115.9 82.19 L116.3 82.29 L116.4 81.52 L116.9 82.48 L117.4 82.8 L117.7 84.28 L117.9 83.09 L118.4 84.46 L118.9 82.57 L119.4 81.15 L119.9 80.3 L120.4 79.07 L120.9 79.12 L121.1 79.72 L121.4 78.56 L121.9 77.51 L122.4 77.06 L122.9 74.97 L123.1 74.16 L123.4 72.94 L123.9 70.49 L124.4 70.66 L124.5 68.92 L124.9 69.91 L125.4 69.32 L125.9 69.67 L126.4 68.51 L126.9 67.23 L127.4 67.4 L127.9 66.4 L128.4 65.92 L128.9 65.51 L129.4 64.82 L129.9 64.14 L130.4 63 L130.9 62.72 L131.4 60.71 L131.9 61.19 L132.4 60.1 L132.9 61.11 L133.4 61.09 L133.9 58.19 L134.4 58.49 L134.5 58.43 L134.9 57.36 L135.4 57.86 L135.9 56.91 L136.4 55.28 L136.9 55.6 L137.4 55.44 L137.9 55.24 L138.4 53.81 L138.9 54.45 L139.4 54.39 L139.9 52.58 L140.4 52.07 L140.9 52.01 L141.4 51.28 L141.8 52.58 L141.9 51.88 L142.4 50.57 L142.9 50.23 L143.4 50.57 L143.9 52.34 L144.4 50.87 L144.9 50.54 L145.4 50.61 L145.9 50.09 L146.4 51.59 L146.9 49.76 L147.3 50.11 L147.4 49.83 L147.9 50.2 L148.4 49.02 L148.9 50.99 L149.4 50.21 L149.9 50.18 L150.4 49.5 L150.9 49.54 L151.4 50.61 L151.8 51.31 L151.9 51.22 L152.4 51.07 L152.9 50.3 L153.4 49.19 L153.9 49.13 L154.4 48.57 L154.9 47.52 L155.4 47.49 L155.5 47.96 L155.9 47.15 L156.4 46.28 L156.9 46.69 L157.4 47.55 L157.9 46.04 L158.4 45.52 L158.9 45.17 L159.4 45.95 L159.9 43.69 L160.4 44.53 L160.9 45.26 L161.4 43.79 L161.9 44.95 L162.4 44.41 L162.9 43.27 L163.4 43.34 L163.9 41.88 L164.4 42.02 L164.9 43.73 L165.4 42.01 L165.5 43.61 L165.9 42.43 L166.4 42.71 L166.9 41.89 L167.4 39.72 L167.9 40.17 L168.4 40.71 L168.9 39.67 L169.4 39.03 L169.9 39.97 L170.4 39.3 L170.9 38.12 L171.4 38.37 L171.9 39.44 L172.4 38.57 L172.9 39.21 L173.4 39.68 L173.9 38.5 L174.4 37.08 L174.9 36.35 L175.4 36.93 L175.9 37.62 L176.4 37.18 L176.9 37.09 L177.4 36.12 L177.9 36.23 L178.2 35.59 L178.4 35.5 L178.9 34.59 L179.4 34 L179.9 34.55 L180.4 34.12 L180.9 34 L181.4 35.1 L181.9 34.73 L182.4 36.82 L182.9 35.82 L183.4 34.21 L183.9 34.7 L184.4 34.42 L184.9 33.43 L185.4 34.39 L185.9 33.14 L186.4 30.91 L186.9 33.07 L187.4 32.53 L187.9 33.87 L188.4 32.53 L188.9 31.62 L189.4 33.32 L189.9 31.72 L190.4 32.1 L190.9 33.06 L191.4 32.22 L191.9 31.71 L192.4 31.59 L192.7 32.07 L192.9 30.96 L193.4 31.65 L193.9 31.78 L194.4 33.11 L194.9 31.42 L195 30.48 L195.4 31.41 L195.9 30.77 L196.4 31.05 L196.9 30.97 L197.4 31.69 L197.9 30.46 L198.4 30.48 L198.8 28.58 L198.9 29.28 L199.4 31.27 L199.9 30.12 L200.4 29.72 L200.9 29.15 L201.4 30.31 L201.9 30.29 L202.4 29.18 L202.6 30.26 L202.9 30.24 L203.4 30.54 L203.9 29.51 L204.4 30.96 L204.9 30.33 L205.4 29.68 L205.9 29.12 L206.4 29.11 L206.9 29.89 L207.1 29.26 L207.4 30.06 L207.7 29.89 L207.9 30.47 L208.4 30.32 L208.9 29.67 L209.4 28.13 L209.6 29.37 L209.9 30.16 L210.4 29.99 L210.9 30.31 L211.4 29.69 L211.9 29.63 L212.4 29.26 L212.8 30.95 L212.9 30.53 L213.4 30 L213.9 29.26 L214.1 29.95 L214.4 31.44 L214.9 31.24 L215.4 30.36 L215.9 31.83 L216 32.26 L216.4 32.14 L216.9 32.05 L217.4 32.39 L217.9 32.12 L218.4 32.3 L218.5 31.15 L218.9 33.04 L219.4 33.11 L219.9 34.94 L220.4 32.82 L220.5 34.22 L220.9 35.76 L221.4 36.11 L221.7 37.18 L221.9 37.99 L222.4 39.14 L222.9 37.96 L223.4 37.68 L223.9 38.26 L224.4 38.4 L224.9 37.32 L225.4 36.75 L225.5 36.71 L225.9 37.44 L226.4 36.15 L226.9 35.63 L227.4 36.66 L227.5 36.01 L227.9 36.3 L228.4 36.98 L228.7 37.52 L228.9 36.82 L229.4 38.78 L229.9 37.99 L230.4 40.12 L230.9 39.73 L231.3 40.27 L231.4 41.53 L231.9 40.36 L232.4 39.15 L232.9 38.5 L233.4 38.44 L233.8 37.63 L233.9 37.44 L234.4 37.46 L234.5 36.19 L234.9 35.8 L235.4 35.41 L235.9 36.37 L236.4 36.31 L236.9 36.31 L237 35.33 L237.4 34.71 L237.6 35.25 L237.9 34.86 L238.4 36.19 L238.9 36.93 L239.4 36.5 L239.5 36.78 L239.9 37.29 L240.2 39.08 L240.4 40.57 L240.9 39.86 L241.4 40.45 L241.9 39.58 L242.4 41.94 L242.7 42.79 L242.9 41.61 L243.4 41.71 L243.9 39.18 L244.4 38.68 L244.9 38.04 L245.3 36.23 L245.4 37.66 L245.9 38.72 L246.4 37.52 L246.5 37.09 L246.9 38.87 L247.2 39.1 L247.4 37.94 L247.9 37.77 L248.4 37.45 L248.9 36.91 L249.4 37.07 L249.7 36.61 L249.9 37.4 L250.4 36.81 L250.9 35.69 L251 35.71 L251.4 35.82 L251.9 35.26 L252.4 33.5 L252.9 34.46 L253.4 34.04 L253.9 34.98 L254.4 33.99 L254.8 33.94 L254.9 33.91 L255.4 35.41 L255.9 35.06 L256.4 34.96 L256.9 35.72 L257.4 35.73 L257.9 36.54 L258.4 37.01 L258.6 37.41 L258.9 38.51 L259.4 36.77 L259.9 36.32 L260.4 35.75 L260.9 35.99 L261.2 34.54 L261.4 34.39 L261.9 34.51 L262.4 34.72 L262.5 34.37 L262.9 33.64 L263.4 33.1 L263.9 33.9 L264.4 34.76 L264.9 34.07 L265.4 33.67 L265.8 33.69 L265.9 32.63 L266.4 32.68 L266.9 32.64 L267.4 32.96 L267.9 32.72 L268.4 31.65 L268.7 33.08 L268.9 33.9 L269.4 32.49 L269.9 32.44 L270.4 32.2 L270.9 32.4 L271.4 30.6 L271.9 32.3 L272.4 31.09 L272.9 31.92 L273.1 31.25 L273.4 30.6 L273.9 30.45 L274.4 31.07 L274.5 29.93 L274.9 29.81 L275.4 29.55 L275.9 28.38 L276.4 30.2 L276.9 30.06 L277.4 29.41 L277.5 30.15 L277.9 28.6 L278.4 28.66 L278.9 29.91 L279.4 29.58 L279.9 26.89 L280.4 25.1 L280.9 26.18 L281.4 27.97 L281.8 27.23 L281.9 27.23 L282.4 27.77 L282.9 26.71 L283.4 27.17 L283.9 27.67 L284 27.59 L284.4 27.43 L284.9 26.54 L285.4 27.06 L285.9 26.42 L286.4 27.48 L286.9 28.69 L287.4 26.46 L287.9 24.62 L288.4 25.33 L288.9 26.08 L289.1 26.82 L289.4 27.04 L289.9 25.64 L290.4 25.19 L290.9 26.59 L291.4 25.17 L291.9 26.38 L292.4 25.71 L292.9 26.23 L293.4 26.31 L293.9 26.35 L294.4 26.36 L294.9 24.95 L295.4 25.47 L295.9 25.38 L296.4 25.55 L296.9 26.21 L297.4 25.19 L297.9 24.47 L298.4 24.17 L298.5 24.41 L298.9 25.22 L299.4 24.18 L299.9 25.31 L300.4 24.91 L300.9 24.32 L301.4 23.23 L301.9 24.03 L302.4 24.54 L302.9 22.74 L303.4 24.39 L303.6 25.22 L303.9 24.44 L304.4 24.27 L304.9 25.64 L305.4 25.1 L305.9 23.26 L306.4 23.34 L306.9 23.2 L307.4 23.12 L307.9 21.36 L308 23.22 L308.4 22.66 L308.9 23.06 L309.4 22.9 L309.9 23.57 L310.4 22.83 L310.9 22.19 L311.4 22.94 L311.9 23.76 L312.4 22.65 L312.9 23.5 L313.4 22.88 L313.9 22.08 L314.4 23.18 L314.9 21.89 L315.3 22.65 L315.4 21.91 L315.9 22.22 L316.4 21.2 L316.9 21.09 L317.4 22.17 L317.9 21.89 L318.2 21.7 L318.4 21.36 L318.9 21.77 L319.4 20.78 L319.9 20.65 L320.4 21.16 L320.9 20.91 L321.1 20.91 L321.4 21.26 L321.9 21.31 L322.4 21.26 L322.9 22.3 L323.4 22.22 L323.9 22.3 L324.4 21.61 L324.9 21.12 L325.4 20.44 L325.5 20.85 L325.9 19.99 L326.4 20.55 L326.9 21.43 L327.4 22.15 L327.9 21.99 L328.4 20.91 L328.9 21.32 L329.4 20.7 L329.9 21.4 L330.4 21.07 L330.9 21.5 L331.3 22.6 L331.4 21.98 L331.9 22.54 L332.4 21.48 L332.7 20.89 L332.9 21.58 L333.4 21.93 L333.9 20.83 L334.4 20.79 L334.9 20.02 L335.4 20.35 L335.6 20.94 L335.9 20.65 L336.4 20.31 L336.9 19.8 L337.4 20.4 L337.9 20.73 L338.4 20.71 L338.9 20.52 L339.4 19.79 L339.9 20.8 L340 20.35 L340.4 20.17 L340.9 20.44 L341.4 19.35 L341.9 19.84 L342.4 19.94 L342.9 20.15 L343.4 20.56 L343.9 20.33 L344.1 19.4 L344.4 19.67 L344.9 19.93 L345.4 19.96 L345.9 19.44 L346.4 19.12 L346.9 19.81 L347.4 19.92 L347.9 19.81 L348.4 19.15 L348.9 20.18 L349.4 18.81 L349.9 19.28 L350.4 20.26 L350.9 19.75 L351.4 19.71 L351.9 19.2 L352.4 19.9 L352.9 19.18 L353.2 19.49 L353.4 19.54 L353.9 19.13 L354.4 19.66 L354.9 19.02 L355.4 19.07 L355.9 19.29 L356.4 19.22 L356.9 19.48 L357.4 19.7 L357.9 19.35 L358.4 19.15 L358.9 19.09 L359.4 19.11 L359.9 19.49 L360.4 19.25 L360.9 19.38 L361.4 19.24 L361.9 18.94 L362.3 19.4 L362.4 18.91 L362.9 19.1 L363.4 19.64 L363.9 18.92 L364.4 19.04 L364.9 18.55 L365.4 18.75 L365.9 18.47 L366.4 18.75 L366.9 18.77 L367.4 18.99 L367.9 19.57 L368.4 19.27 L368.9 19.3 L369.4 19.04 L369.9 18.88 L370.4 18.6 L370.9 18.13 L371.4 18.69 L371.9 19.45 L372.4 19.23 L372.9 18.76 L373.4 19.47 L373.9 18.85 L374.4 18.57 L374.9 18.23 L375 18.24 L375.4 18.52 L375.9 19.5 L376.4 18.89 L376.9 18.38 L377.4 18.39 L377.9 18.53 L378.4 18 L378.9 18.53 L379.4 18.89 L379.9 18.84 L380.4 18.92 L380.9 18.26 L381.4 17.92 L381.9 18.85 L382.3 19.04 L382.4 18.2 L382.9 18.54 L383.4 18.56 L383.9 18.74 L384.4 18.66 L384.9 18.4 L385.4 18.54 L385.9 18.56 L386.4 18.49 L386.9 17.87 L387.4 17.31 L387.9 17.85 L388.4 17.73 L388.9 18.29 L389.4 18.59 L389.5 18.54 L389.9 18.32 L390.4 18.38 L390.9 18.73 L391.4 18.24 L391.9 18.59 L392.4 18.63 L392.9 18.49 L393.4 18.8 L393.9 18.23 L394.4 18.55 L394.9 18.08 L395.4 17.99 L395.9 17.87 L396.4 18.26 L396.8 17.97 L396.9 18.17 L397.4 17.88 L397.9 18.41 L398.4 18.78 L398.9 18.43 L399.4 18.7 L399.9 18.48 L400.4 18.84 L400.9 18.38 L401.4 17.79 L401.9 18.41 L402.4 18.17 L402.9 17.86 L403.4 17.85 L403.9 17.6 L404.4 17.89 L404.9 17.74 L405.4 18.32 L405.9 18.28 L406.4 17.7 L406.9 17.56 L407.4 17.74 L407.7 17.47 L407.9 17.82 L408.4 17.93 L408.9 17.8 L409.4 17.81 L409.9 18.06 L410.4 18.35 L410.9 18.45 L411.4 18.14 L411.9 18.24 L412.4 17.9 L412.9 18.07 L413.4 17.8 L413.9 18.11 L414.4 17.74 L414.9 17.7 L415.4 17.91 L415.9 18.1 L416.4 17.7 L416.8 17.78 L416.9 17.97 L417.4 18.04 L417.9 17.81 L418.4 17.97 L418.9 17.93 L419.4 18.32 L419.9 18.23 L420.4 17.74 L420.9 17.37 L421.4 17.83 L421.9 18.25 L422.4 18.12 L422.9 18.27 L423.4 17.95 L423.9 17.62 L424.4 18.09 L424.9 18.05 L425.4 18.2 L425.9 17.68 L426.4 17.95 L426.9 17.82 L427.4 18.16 L427.9 17.89 L428.4 17.81 L428.9 17.79 L429.4 18.27 L429.9 18.09 L430.4 17.83 L430.9 17.69 L431.4 17.64 L431.9 18.26 L432.4 17.62 L432.9 17.68 L433.4 18.06 L433.9 18.31 L434.4 18.06 L434.9 18.21 L435 18.25 L435.4 18.3 L435.9 18.09 L436.4 18.39 L436.9 18.14 L437.4 18.37 L437.9 17.83 L438.4 18.12 L438.9 17.72 L439.4 17.54 L439.9 17.92 L440.4 17.74 L440.5 17.96 L440.9 17.7 L441.4 18.18 L441.9 17.98 L442.4 17.68 L442.9 17.86 L443.4 18.05 L443.9 17.76 L444.4 17.93 L444.9 18.29 L445.4 18.15 L445.9 17.93 L446.4 17.74 L446.9 17.91 L447.4 17.54 L447.9 17.12 L448.4 17.46 L448.9 17.48 L449.4 18.03 L449.9 17.87 L450.4 17.6 L450.9 17.48 L451.4 17.76 L451.9 17.59 L452.4 17.58 L452.9 17.66 L453.4 17.71 L453.9 17.73 L454.4 17.73 L454.9 17.95 L455.4 18.09 L455.9 17.48 L456.4 18.1 L456.9 17.82 L457.2 17.94 L457.4 17.6 L457.9 17.69 L458.4 17.69 L458.9 17.67 L459.4 17.8 L459.9 17.79 L460.4 17.47 L460.9 17.53 L461.4 17.71 L461.9 17.75 L462.4 17.56 L462.9 17.51 L463.4 17.51 L463.9 17.32 L464.4 17.23 L464.9 17.74 L465.4 17.51 L465.9 17.53 L466.4 17.37 L466.9 17.71 L467.4 17.89 L467.9 17.56 L468.4 17.6 L468.9 17.36 L469.4 17.76 L469.9 17.72 L470.4 17.36 L470.9 17.65 L471.4 17.56 L471.8 17.54 L471.9 17.52 L472.4 17.32 L472.9 17.28 L473.4 17.49 L473.9 17.42 L474.4 17.22 L474.9 17.73 L475.4 17.45 L475.9 17.29 L476.4 17.22 L476.9 17.46 L477.4 17.58 L477.9 17.48 L478.4 17.56 L478.9 17.13 L479.4 17.21 L479.9 17.22 L480.4 17.3 L480.9 17.42 L481.4 16.97 L481.9 17.82 L482.4 17.31 L482.9 17.38 L483.4 17.49 L483.9 17.53 L484.4 17.42 L484.9 16.78 L485.4 16.93 L485.9 17.33 L486.4 17.12 L486.9 17.03 L487.4 16.75 L487.9 17.35 L488.4 17.39 L488.9 17.13 L489.4 17.19 L489.9 17.21 L490.4 17.02 L490.9 17.12 L491.4 17.25 L491.9 17.34 L492.4 17.5 L492.7 17.31 L492.9 17.16 L493.4 17.28 L493.9 17.11 L494.4 16.94 L494.9 17.34 L495.4 17.17 L495.9 17.21 L496.4 17.32 L496.9 17.01 L497.4 17.25 L497.9 17.28 L498.4 17.18 L498.9 17.25 L499.4 17.04 L499.9 16.7 L500.4 16.96 L500.9 16.92 L501.4 17.24 L501.9 17.22 L502.4 17.06 L502.9 17.12 L503.4 17.38 L503.9 17.42 L504.4 17.28 L504.9 17.24 L505.4 17.1 L505.9 17.08 L506.4 17.2 L506.9 17.1 L507.4 17.15 L507.9 16.89 L508.4 16.71 L508.9 16.64 L509.4 16.86 L509.9 17.26 L510.4 17.35 L510.9 16.95 L511.4 16.73 L511.9 17.1 L512.4 17.15 L512.9 16.81 L513.4 17.17 L513.6 17.11 L513.9 17.31 L514.4 17.18 L514.9 17.24 L515.4 17.15 L515.9 16.87 L516.4 16.92 L516.9 16.85 L517.4 17.11 L517.9 16.84 L518.4 16.65 L518.9 17.02 L519.4 17.21 L519.9 17.33 L520.4 17.29 L520.9 16.78 L521.4 16.78 L521.9 16.8 L522.4 16.91 L522.9 16.53 L523.4 16.82 L523.9 16.96 L524.4 16.76 L524.9 16.91 L525.4 17.15 L525.9 17 L526.4 17.15 L526.9 17.18 L527.4 17.07 L527.9 17.03 L528.4 16.87 L528.9 17.13 L529.4 16.87 L529.9 16.75 L530.4 16.98 L530.9 16.77 L531.4 16.93 L531.9 17.09 L532.4 16.95 L532.9 16.91 L533.4 17.05 L533.9 17.06 L534.4 16.62 L534.9 16.53 L535.4 17 L535.9 16.96 L536.4 16.47 L536.9 16.47 L537.4 16.72 L537.9 16.6 L538.4 16.84 L538.9 16.84 L539.4 16.91 L539.9 16.61 L540 16.87" fill="none" stroke="#00f" stroke-width="2.2" stroke-linejoin="round" stroke-linecap="butt" />
<text x="49.6" y="302.2" text-anchor="middle">0</text>
<text x="98.64" y="302.2" text-anchor="middle">5</text>
<text x="147.68" y="302.2" text-anchor="middle">10</text>
<text x="196.72" y="302.2" text-anchor="middle">15</text>
<text x="245.76" y="302.2" text-anchor="middle">20</text>
<text x="294.8" y="302.2" text-anchor="middle">25</text>
<text x="343.84" y="302.2" text-anchor="middle">30</text>
<text x="392.88" y="302.2" text-anchor="middle">35</text>
<text x="441.92" y="302.2" text-anchor="middle">40</text>
<text x="490.96" y="302.2" text-anchor="middle">45</text>
<text x="540" y="302.2" text-anchor="middle">50</text>
<text x="45.8" y="291.2" text-anchor="end">0.75</text>
<text x="45.8" y="237.12" text-anchor="end">0.8</text>
<text x="45.8" y="183.05" text-anchor="end">0.85</text>
<text x="45.8" y="128.97" text-anchor="end">0.9</text>
<text x="45.8" y="74.89" text-anchor="end">0.95</text>
<text x="45.8" y="20.82" text-anchor="end">1</text>
<text transform="translate(17.6 146.4) rotate(-90)" text-anchor="middle" font-size="16.8">S(t)</text>
<rect x="413.6" y="204.9" width="117.8" height="73.2" fill="#fff" stroke="#262626" stroke-width="1"/>
<path d="M417.2 214.8 h34.7" stroke="#000" stroke-width="2"/>
<text x="453.9" y="220.1" font-size="13.3" fill="#000">deterministic</text>
<path d="M417.2 232.5 h34.7" stroke="#f00" stroke-width="2"/>
<text x="453.9" y="237.8" font-size="13.3" fill="#000">Q=0.25</text>
<path d="M417.2 250.2 h34.7" stroke="#0f0" stroke-width="2"/>
<text x="453.9" y="255.5" font-size="13.3" fill="#000">Q=0.35</text>
<path d="M417.2 267.9 h34.7" stroke="#00f" stroke-width="2"/>
<text x="453.9" y="273.2" font-size="13.3" fill="#000">Q=0.45</text>
<path d="M100.95 625.6 v-5 M100.95 346.4 v5 M149.6 625.6 v-5 M149.6 346.4 v5 M198.25 625.6 v-5 M198.25 346.4 v5 M246.9 625.6 v-5 M246.9 346.4 v5 M295.55 625.6 v-5 M295.55 346.4 v5 M344.2 625.6 v-5 M344.2 346.4 v5 M392.85 625.6 v-5 M392.85 346.4 v5 M441.5 625.6 v-5 M441.5 346.4 v5 M490.15 625.6 v-5 M490.15 346.4 v5 M52.3 532.53 h5 M538.8 532.53 h-5 M52.3 439.47 h5 M538.8 439.47 h-5" stroke="#555" stroke-width="1" fill="none"/>
<rect x="52.3" y="346.4" width="486.5" height="279.2" fill="none" stroke="#4a4a4a" stroke-width="1.1"/>
<path d="M97.42 962.7 v-5 M97.42 685 v5 M146.34 962.7 v-5 M146.34 685 v5 M195.26 962.7 v-5 M195.26 685 v5 M244.18 962.7 v-5 M244.18 685 v5 M293.1 962.7 v-5 M293.1 685 v5 M342.02 962.7 v-5 M342.02 685 v5 M390.94 962.7 v-5 M390.94 685 v5 M439.86 962.7 v-5 M439.86 685 v5 M488.78 962.7 v-5 M488.78 685 v5 M48.5 934.93 h5 M537.7 934.93 h-5 M48.5 907.16 h5 M537.7 907.16 h-5 M48.5 879.39 h5 M537.7 879.39 h-5 M48.5 851.62 h5 M537.7 851.62 h-5 M48.5 823.85 h5 M537.7 823.85 h-5 M48.5 796.08 h5 M537.7 796.08 h-5 M48.5 768.31 h5 M537.7 768.31 h-5 M48.5 740.54 h5 M537.7 740.54 h-5 M48.5 712.77 h5 M537.7 712.77 h-5" stroke="#555" stroke-width="1" fill="none"/>
<rect x="48.5" y="685" width="489.2" height="277.7" fill="none" stroke="#4a4a4a" stroke-width="1.1"/>
<path d="M52.3 440.88 L54.74 444.15 L57.19 447.33 L59.63 450.43 L62.08 453.44 L64.52 456.37 L66.97 459.22 L69.41 461.99 L71.86 464.68 L74.3 467.3 L76.75 469.85 L79.19 472.32 L81.64 474.72 L84.08 477.05 L86.53 479.32 L88.97 481.51 L91.42 483.64 L93.86 485.71 L96.31 487.72 L98.75 489.67 L101.19 491.56 L103.64 493.39 L106.08 495.16 L108.53 496.89 L110.97 498.55 L113.42 500.17 L115.86 501.74 L118.31 503.26 L120.75 504.74 L123.2 506.17 L125.64 507.55 L128.09 508.9 L130.53 510.2 L132.98 511.46 L135.42 512.69 L137.87 513.89 L140.31 515.04 L142.75 516.17 L145.2 517.26 L147.64 518.33 L150.09 519.37 L152.53 520.38 L154.98 521.36 L157.42 522.33 L159.87 523.27 L162.31 524.19 L164.76 525.09 L167.2 525.97 L169.65 526.84 L172.09 527.7 L174.54 528.54 L176.98 529.36 L179.43 530.18 L181.87 530.98 L184.32 531.76 L186.76 532.54 L189.2 533.3 L191.65 534.05 L194.09 534.78 L196.54 535.5 L198.98 536.21 L201.43 536.91 L203.87 537.6 L206.32 538.27 L208.76 538.93 L211.21 539.58 L213.65 540.22 L216.1 540.84 L218.54 541.46 L220.99 542.06 L223.43 542.65 L225.88 543.24 L228.32 543.81 L230.76 544.37 L233.21 544.91 L235.65 545.45 L238.1 545.98 L240.54 546.5 L242.99 547.01 L245.43 547.5 L247.88 547.99 L250.32 548.47 L252.77 548.94 L255.21 549.4 L257.66 549.85 L260.1 550.29 L262.55 550.72 L264.99 551.14 L267.44 551.56 L269.88 551.96 L272.33 552.36 L274.77 552.75 L277.21 553.13 L279.66 553.5 L282.1 553.86 L284.55 554.22 L286.99 554.57 L289.44 554.91 L291.88 555.24 L294.33 555.57 L296.77 555.88 L299.22 556.2 L301.66 556.5 L304.11 556.8 L306.55 557.09 L309 557.37 L311.44 557.65 L313.89 557.92 L316.33 558.19 L318.77 558.45 L321.22 558.7 L323.66 558.95 L326.11 559.19 L328.55 559.43 L331 559.66 L333.44 559.89 L335.89 560.11 L338.33 560.32 L340.78 560.53 L343.22 560.74 L345.67 560.94 L348.11 561.14 L350.56 561.33 L353 561.52 L355.45 561.71 L357.89 561.89 L360.34 562.07 L362.78 562.24 L365.22 562.41 L367.67 562.58 L370.11 562.74 L372.56 562.9 L375 563.06 L377.45 563.21 L379.89 563.36 L382.34 563.51 L384.78 563.66 L387.23 563.8 L389.67 563.95 L392.12 564.09 L394.56 564.22 L397.01 564.36 L399.45 564.49 L401.9 564.63 L404.34 564.76 L406.78 564.89 L409.23 565.02 L411.67 565.15 L414.12 565.27 L416.56 565.4 L419.01 565.53 L421.45 565.65 L423.9 565.78 L426.34 565.9 L428.79 566.03 L431.23 566.15 L433.68 566.28 L436.12 566.4 L438.57 566.53 L441.01 566.65 L443.46 566.78 L445.9 566.91 L448.35 567.04 L450.79 567.17 L453.23 567.3 L455.68 567.43 L458.12 567.57 L460.57 567.7 L463.01 567.84 L465.46 567.98 L467.9 568.12 L470.35 568.26 L472.79 568.41 L475.24 568.56 L477.68 568.71 L480.13 568.86 L482.57 569.02 L485.02 569.17 L487.46 569.34 L489.91 569.5 L492.35 569.67 L494.79 569.84 L497.24 570.02 L499.68 570.2 L502.13 570.38 L504.57 570.57 L507.02 570.76 L509.46 570.96 L511.91 571.16 L514.35 571.36 L516.8 571.57 L519.24 571.78 L521.69 572 L524.13 572.23 L526.58 572.45 L529.02 572.69 L531.47 572.93 L533.91 573.17 L536.36 573.43 L538.8 573.68" fill="none" stroke="#000" stroke-width="2.5" stroke-linejoin="round" stroke-linecap="butt" />
<path d="M52.3 439.5 L52.5 426.55 L52.7 413.6 L53.1 413.4 L53.2 413.35 L53.5 413.2 L53.7 413.1 L53.9 412.1 L54.3 410.1 L54.7 408.1 L54.8 407.6 L55.1 406.1 L55.2 405.6 L55.3 405.1 L55.5 403.55 L55.9 400.46 L56.3 397.37 L56.4 396.6 L56.6 396.16 L56.7 395.94 L56.9 395.5 L57.1 398.21 L57.2 399.57 L57.5 403.64 L57.6 405 L57.8 411.25 L57.9 414.37 L58.1 420.63 L58.3 426.87 L58.4 430 L58.5 431.5 L58.7 434.5 L58.8 436 L59.1 440.5 L59.4 445 L59.5 446.5 L59.6 448 L59.7 448.33 L59.9 449 L60 449.33 L60.3 450.33 L60.7 451.73 L60.8 452.38 L61.1 452.13 L61.5 452.97 L61.8 453.31 L61.9 452.05 L62.3 455.61 L62.4 457.39 L62.7 456.56 L62.9 461.77 L63.1 462.41 L63.5 463.99 L63.9 465.48 L64.3 468.67 L64.5 464.92 L64.7 469.27 L65.1 471.99 L65.5 464.07 L65.6 466.98 L65.9 464.26 L66.3 463.55 L66.7 458.46 L67.1 462.31 L67.3 464.89 L67.5 464.09 L67.8 469.36 L67.9 470.24 L68.3 478.88 L68.4 478.76 L68.7 487.53 L68.9 490.86 L69.1 491.24 L69.5 497.02 L69.9 503.04 L70 505.63 L70.2 499.65 L70.3 504.16 L70.7 506.21 L71.1 507.14 L71.5 507.06 L71.6 512.12 L71.9 510.28 L72.1 515.22 L72.3 519.3 L72.7 517.1 L73.1 520.08 L73.4 519.21 L73.5 522.57 L73.9 527.28 L74.3 530.4 L74.7 523.76 L74.9 525.46 L75.1 528.51 L75.3 531.07 L75.5 529.07 L75.9 526.18 L76.3 527.95 L76.5 527.64 L76.7 528.73 L77.1 530.61 L77.2 533.6 L77.5 536.22 L77.9 538.54 L78.3 541.23 L78.7 541.95 L79.1 546.35 L79.5 549.38 L79.9 546.17 L80.3 542.04 L80.4 547.25 L80.7 545.87 L81.1 548.26 L81.5 543.5 L81.9 540.66 L82.3 537.18 L82.7 541.8 L82.9 545.18 L83.1 540.47 L83.5 543.43 L83.9 549.87 L84.2 550.18 L84.3 551.55 L84.7 554.19 L85.1 558.05 L85.5 562.93 L85.9 563.7 L86.1 566.62 L86.3 565.52 L86.7 569.66 L87.1 567.5 L87.5 571 L87.9 579.04 L88 577.76 L88.3 582.19 L88.7 585.56 L89.1 590.36 L89.3 591.11 L89.5 591.92 L89.9 590.53 L90.3 589.79 L90.7 590.39 L91.1 591.86 L91.2 590.8 L91.5 592.58 L91.8 594.55 L91.9 595.84 L92.3 595.97 L92.7 593.77 L93.1 598.09 L93.5 600.44 L93.9 603.36 L94.3 603.94 L94.4 602.1 L94.7 602.49 L95.1 607.78 L95.5 607.8 L95.6 609.37 L95.9 610.29 L96.3 606.78 L96.7 608.03 L97.1 608.67 L97.5 609.23 L97.9 609.63 L98.2 609.51 L98.3 609.09 L98.7 605.67 L99.1 605.72 L99.5 603.89 L99.9 603.87 L100.3 601.92 L100.7 602.42 L101.1 603.48 L101.5 603.11 L101.9 603.35 L102.3 603.33 L102.7 602.75 L103.1 603.41 L103.3 603.14 L103.5 603.39 L103.9 600.91 L104.3 599.8 L104.7 593.91 L105.1 595.75 L105.2 592.41 L105.5 591.56 L105.9 592.16 L106.3 591.1 L106.7 592.38 L107.1 590.36 L107.5 588.49 L107.9 588.22 L108.3 592.52 L108.4 590.58 L108.7 588.01 L109.1 590.59 L109.5 588.17 L109.9 595.5 L110.3 590.19 L110.7 594.01 L110.9 595.09 L111.1 589.94 L111.5 591.06 L111.9 591.32 L112.3 588.71 L112.7 586.23 L113.1 585.75 L113.5 582.42 L113.9 580.65 L114.3 577.78 L114.7 577.36 L115.1 573.87 L115.5 576.7 L115.9 574.16 L116 572.35 L116.3 574.94 L116.7 578.08 L117.1 576.84 L117.5 573.08 L117.9 574.72 L118.3 572.26 L118.5 572.39 L118.7 572.77 L119.1 567.31 L119.2 571.7 L119.5 569.69 L119.9 569.77 L120.3 567.85 L120.7 567.14 L121.1 568.02 L121.5 573.77 L121.9 578.06 L122.3 576.52 L122.4 578.74 L122.7 577.36 L123.1 574.86 L123.5 580.18 L123.6 581.97 L123.9 581.88 L124.3 585.21 L124.7 588.11 L124.9 586.17 L125 584.74 L125.1 587.78 L125.5 591 L125.9 593.51 L126.3 599.02 L126.5 602.27 L126.7 598.48 L127.1 600.01 L127.5 600.86 L127.9 600.65 L128.3 601.34 L128.7 598.75 L129.1 600.5 L129.4 603.38 L129.5 601.7 L129.9 599.12 L130.3 601.3 L130.7 603.29 L131.1 602.45 L131.5 601.05 L131.9 604.78 L132.3 601.2 L132.7 603.41 L133.1 603.07 L133.5 601.14 L133.7 604.75 L133.9 604.08 L134.3 601.56 L134.7 604.01 L135.1 602.9 L135.2 600.31 L135.5 601.84 L135.9 603.77 L136.3 604.83 L136.7 604.38 L137.1 604.19 L137.5 604.9 L137.9 604.07 L138.1 606.1 L138.3 605.28 L138.7 606.04 L139.1 607.17 L139.5 605.84 L139.9 606.74 L140.3 610.37 L140.7 610.21 L141 609.92 L141.1 610.58 L141.5 610.3 L141.9 611.49 L142.3 611.18 L142.5 612.23 L142.7 610.84 L143.1 613.82 L143.2 612.72 L143.5 610.82 L143.9 611.04 L144.3 610.28 L144.7 610.06 L145.1 607.84 L145.5 608.61 L145.9 612.41 L146.1 606.46 L146.3 607.77 L146.7 607.65 L147.1 608.69 L147.5 606.89 L147.9 607.81 L148.3 610.28 L148.7 609.29 L149 610.72 L149.1 608.03 L149.5 607.83 L149.9 610.91 L150.3 605.85 L150.5 604.33 L150.7 604.19 L151.1 602.03 L151.5 601.4 L151.9 598.11 L152.3 593.63 L152.6 593.56 L152.7 599.64 L153.1 599.49 L153.5 592.23 L153.9 597.74 L154.3 598.84 L154.7 603.09 L154.8 602.65 L155.1 606.51 L155.5 606.25 L155.9 606.74 L156.3 606.4 L156.7 606.66 L157 607.67 L157.1 608.9 L157.5 607.57 L157.9 605.56 L158.3 607.07 L158.7 605.29 L159.1 604.03 L159.2 602.61 L159.5 602.23 L159.9 601.5 L160.3 598.51 L160.7 604.5 L161.1 605.34 L161.5 604.71 L161.9 606.87 L162.3 606.79 L162.7 607.08 L162.8 603.19 L163.1 605.63 L163.5 607.29 L163.9 609.2 L164.3 609.99 L164.7 609.69 L165.1 606.28 L165.5 604.36 L165.9 607.75 L166.3 607.83 L166.7 609.17 L167.1 608.14 L167.5 608.5 L167.9 606.52 L168.3 608.69 L168.6 608.09 L168.7 608.98 L169.1 609.47 L169.5 609.02 L169.9 609.61 L170.3 609.49 L170.7 610.53 L171.1 610.58 L171.5 609.55 L171.9 609.47 L172.3 612.2 L172.7 610.86 L173.1 611.93 L173.5 611.65 L173.9 610.74 L174.3 610.53 L174.5 611.45 L174.7 611.86 L175.1 612.48 L175.5 610.89 L175.9 611.41 L176.3 612.17 L176.7 614.09 L177.1 610.92 L177.5 613.06 L177.9 612.76 L178.3 613.73 L178.7 613.28 L178.8 613.94 L179.1 614.78 L179.5 613.46 L179.9 612.89 L180.3 612.33 L180.7 610.66 L181.1 611.29 L181.5 610.21 L181.7 609.15 L181.9 610 L182.3 610.2 L182.7 611.52 L183.1 611.13 L183.5 610.75 L183.9 612.94 L184.3 613.08 L184.7 613.58 L185.1 613.22 L185.5 612.67 L185.9 612.49 L186.1 612.67 L186.3 613.78 L186.7 613.17 L187.1 611.51 L187.5 612.47 L187.9 611.32 L188.3 612.53 L188.7 611.42 L189.1 611.08 L189.5 612.28 L189.9 612.28 L190.3 610.7 L190.5 612.7 L190.7 614.37 L191.1 610.86 L191.5 613.27 L191.9 610.98 L192.3 610.48 L192.7 610.5 L193.1 608.89 L193.4 611.46 L193.5 611.05 L193.9 609.31 L194.3 609.27 L194.7 607.59 L194.8 608.61 L195.1 610.54 L195.5 608.07 L195.9 609.28 L196.3 610.39 L196.7 611.8 L197.1 612.59 L197.5 611.03 L197.9 610.65 L198.3 612.01 L198.7 611.67 L199.1 611.87 L199.2 613.28 L199.5 613.88 L199.9 612.26 L200 611.43 L200.3 611.79 L200.7 608.88 L201.1 609.99 L201.5 608.71 L201.9 612.13 L202.3 610.58 L202.7 609.26 L203.1 608.25 L203.5 604.74 L203.8 607.97 L203.9 609.84 L204.3 606.95 L204.7 608.09 L205.1 608.24 L205.5 605.03 L205.9 607.64 L206.3 608.62 L206.4 607.23 L206.7 606.95 L207.1 608.48 L207.5 606.17 L207.9 608.24 L208.3 610.23 L208.7 606.03 L209.1 606.96 L209.5 603.83 L209.9 599.07 L210.3 600.11 L210.7 597.42 L211.1 598.1 L211.5 593.84 L211.9 597.54 L212.3 593.95 L212.7 595.19 L213.1 592.91 L213.4 592.75 L213.5 595.99 L213.9 594 L214.3 591.84 L214.7 589.11 L215.1 593.43 L215.3 593.2 L215.5 590.37 L215.9 590.13 L216.3 586.48 L216.7 584.96 L217.1 584.25 L217.5 585.87 L217.8 585.51 L217.9 583.31 L218.3 586.12 L218.7 586.78 L219.1 585.58 L219.5 587.23 L219.9 584.66 L220.3 584.52 L220.4 585.78 L220.7 580.41 L221.1 576.03 L221.5 565.85 L221.9 564.87 L222.3 555.02 L222.7 556.93 L222.9 555.05 L223.1 559.54 L223.5 563.11 L223.9 564.44 L224.3 565.25 L224.7 561.24 L224.8 562.2 L225.1 563.6 L225.5 563.5 L225.9 568.61 L226.3 568.19 L226.7 568.26 L227.1 570.01 L227.4 567.63 L227.5 566.68 L227.9 564.82 L228.3 566.01 L228.7 564.44 L229.1 563.19 L229.5 562.58 L229.9 555.66 L230.3 552.76 L230.7 550.84 L231.1 544.28 L231.5 541.86 L231.8 542.77 L231.9 544.4 L232.3 547.34 L232.7 547.93 L233.1 549.74 L233.5 555.19 L233.7 553.94 L233.9 555.51 L234.3 558.95 L234.4 555.98 L234.7 555.61 L235.1 557.76 L235.5 560.38 L235.6 560.71 L235.9 561.91 L236.3 565.18 L236.7 563.14 L237.1 566.39 L237.5 571.31 L237.9 571.93 L238.2 572.55 L238.3 571.85 L238.7 569.54 L239.1 568.34 L239.5 563.9 L239.9 563.4 L240.1 565.62 L240.3 561.65 L240.7 562.76 L241.1 559.74 L241.5 554.97 L241.9 554.83 L242 553.15 L242.3 554.2 L242.7 547.36 L243.1 548.74 L243.5 544.7 L243.9 535.52 L244.3 548.16 L244.7 558.51 L245.1 561.57 L245.2 566.46 L245.5 560.48 L245.8 563.41 L245.9 559.74 L246.3 563.11 L246.7 558.31 L247.1 555 L247.5 560.47 L247.7 565.53 L247.9 561.89 L248.3 567.19 L248.7 569.25 L249.1 571.28 L249.5 576.33 L249.6 579.74 L249.9 573.96 L250.3 576.75 L250.7 576.83 L250.9 572.96 L251.1 578.85 L251.5 580.76 L251.9 574.78 L252.2 579.49 L252.3 577.1 L252.7 577.49 L253.1 582.36 L253.5 581.68 L253.9 582.89 L254.3 586.89 L254.7 588.33 L255.1 585.89 L255.5 579.13 L255.9 576.14 L256.3 580.2 L256.7 575.26 L257.1 575.37 L257.3 572.24 L257.5 573.01 L257.9 569.49 L258.3 574.01 L258.7 567.98 L259.1 567.59 L259.5 566.23 L259.9 567.87 L260.3 561.31 L260.5 562.61 L260.7 564.15 L261.1 568.83 L261.5 572.08 L261.9 573.13 L262.3 577.32 L262.7 579.26 L263 583.18 L263.1 581.99 L263.5 579.57 L263.9 579.65 L264.3 579.7 L264.7 583.06 L265 577.13 L265.1 577.59 L265.5 579.24 L265.9 572.8 L266.3 572.87 L266.7 574.73 L267.1 578.08 L267.5 584.98 L267.9 582.5 L268.1 584.02 L268.3 581.24 L268.7 575.98 L269.1 575.45 L269.4 582.77 L269.5 582.44 L269.9 579.34 L270.3 584.21 L270.7 579.55 L270.8 584.49 L271.1 586.96 L271.5 583.51 L271.9 582.93 L272.3 587.95 L272.7 585.56 L273 589.96 L273.1 586.24 L273.5 590.12 L273.7 589.41 L273.9 588.22 L274.3 587.19 L274.7 589.68 L275.1 585.71 L275.2 588.47 L275.5 588.75 L275.9 591.16 L276.3 587.4 L276.7 593.16 L277.1 589.87 L277.5 587.4 L277.9 592.44 L278.1 594.05 L278.3 590.82 L278.7 589.54 L279.1 592.08 L279.5 591.84 L279.9 593.43 L280.3 598.65 L280.7 597.9 L281 597.79 L281.1 598.19 L281.5 598.05 L281.9 600.32 L282.3 601.31 L282.7 599.64 L283.1 600.72 L283.5 605.55 L283.9 603.44 L284.3 602.51 L284.6 606.38 L284.7 603.77 L285.1 601.75 L285.5 604.46 L285.9 602.75 L286.3 603.31 L286.7 604.94 L286.8 604.59 L287.1 603.78 L287.5 604.22 L287.9 604.51 L288.3 607.37 L288.7 605.02 L289.1 604.65 L289.5 608.3 L289.9 605.12 L290.3 607.41 L290.7 607.52 L291.1 605.24 L291.5 602.76 L291.9 605 L292.3 605.68 L292.6 606.21 L292.7 604.98 L293.1 606.56 L293.5 607.22 L293.9 603.71 L294.1 606.81 L294.3 605.56 L294.7 604.29 L295.1 604.48 L295.5 607.87 L295.9 606.76 L296.3 601.84 L296.7 603.37 L297.1 602.93 L297.5 602.38 L297.9 601.29 L298.3 599.02 L298.5 602.46 L298.7 600.33 L299.1 601.41 L299.5 601.69 L299.9 602.01 L300.3 604.87 L300.7 605.28 L301.1 604.21 L301.5 604.07 L301.9 605.2 L302.3 607.86 L302.7 607.65 L302.8 607.79 L303.1 607.29 L303.5 607.57 L303.9 608.49 L304.3 606.38 L304.7 610.47 L305.1 608.64 L305.5 608.82 L305.7 611.16 L305.9 610.47 L306.3 610.41 L306.7 609.98 L307.1 609.12 L307.2 610.84 L307.5 612.18 L307.9 610.11 L308.3 612.07 L308.7 609.67 L309.1 609.54 L309.5 610.8 L309.9 610.42 L310.1 611.09 L310.3 609.87 L310.7 609.77 L311.1 609.29 L311.5 610.3 L311.9 611.03 L312.3 611.26 L312.7 613.28 L313.1 613.2 L313.5 612.48 L313.9 616.34 L314.3 614.85 L314.5 614.4 L314.7 616.19 L315.1 616.61 L315.5 615.13 L315.9 614.74 L316.3 615.12 L316.7 616.79 L317.1 616.25 L317.5 615.93 L317.9 616.5 L318.3 617.53 L318.7 616.19 L319.1 616.68 L319.5 616.29 L319.9 618.48 L320.3 618.8 L320.7 618.32 L321.1 617.59 L321.5 617.91 L321.9 616.34 L322.3 617.43 L322.7 616.7 L323.1 616.56 L323.5 616.89 L323.9 617.17 L324.3 617.77 L324.6 617.97 L324.7 617.71 L325.1 616.76 L325.5 617.42 L325.9 616.92 L326.3 617.51 L326.7 616.13 L327.1 614.45 L327.5 615.5 L327.9 617.4 L328.3 616.48 L328.7 615.68 L329.1 616.17 L329.5 615.86 L329.9 615.63 L330.3 614.69 L330.5 614.91 L330.7 614.98 L331.1 614.16 L331.2 613.6 L331.5 614.88 L331.9 616.16 L332.3 616.53 L332.7 616.88 L333.1 617.33 L333.5 619.03 L333.9 618.35 L334.3 619.02 L334.7 619.96 L334.8 619.24 L335.1 619.29 L335.5 619.78 L335.9 620.28 L336.3 619.88 L336.7 619.94 L337.1 619.95 L337.5 619.55 L337.9 620.53 L338.3 620.3 L338.7 619.83 L339.1 620.45 L339.5 620.14 L339.9 620.47 L340.3 621 L340.6 620.89 L340.7 621.5 L341.1 620.86 L341.5 621.33 L341.9 621.56 L342.3 621.92 L342.7 621.87 L343.1 621.7 L343.5 621.67 L343.9 621.67 L344.3 622.05 L344.7 621.67 L345 621.95 L345.1 621.84 L345.5 621.97 L345.9 621.9 L346.3 622.57 L346.7 622.01 L347.1 622.18 L347.5 622.27 L347.6 622.37 L347.9 622.28 L348.3 622.18 L348.7 622.24 L349.1 621.5 L349.5 621.69 L349.9 621.3 L350.3 621.57 L350.7 621.12 L351.1 621.02 L351.5 621.2 L351.9 621.63 L352.3 621.38 L352.7 621.17 L353.1 621.43 L353.5 620.6 L353.9 619.94 L354.3 620.32 L354.7 620.38 L355.1 620.88 L355.3 621.31 L355.5 620.06 L355.9 621.23 L356.3 621.09 L356.7 620.75 L357.1 620.46 L357.5 621.19 L357.9 620.37 L358.3 619.95 L358.7 620.08 L359.1 619.45 L359.5 620.05 L359.9 619.89 L360.3 620.01 L360.7 620.02 L361.1 619.38 L361.5 620.23 L361.9 619.37 L362.3 619.99 L362.7 619 L362.9 619.64 L363.1 619.19 L363.5 619.35 L363.9 618.96 L364.3 618.05 L364.7 618.25 L365.1 618.75 L365.5 619.03 L365.9 617.92 L366.3 617.23 L366.7 617.63 L367.1 617.95 L367.5 617.68 L367.9 617.41 L368 618.28 L368.3 618.42 L368.7 618.19 L369.1 617.02 L369.5 617.26 L369.9 617.01 L370.3 616.05 L370.7 617.19 L371.1 616.79 L371.5 616.2 L371.9 617.23 L372.3 616.88 L372.7 616.75 L373.1 616.85 L373.5 616.41 L373.9 614.73 L374.3 614.9 L374.4 615.98 L374.7 614.96 L375.1 615.45 L375.5 615.91 L375.9 616.84 L376.3 617 L376.7 616.83 L377.1 616.12 L377.5 616.83 L377.9 616.8 L378.3 616.41 L378.7 617.44 L379.1 617.15 L379.5 616.38 L379.9 617.61 L380.3 616.98 L380.7 617.48 L381.1 616.28 L381.5 617.01 L381.9 616.62 L382.3 616.56 L382.7 616.02 L383.1 618.39 L383.5 617.51 L383.9 617.61 L384.3 618.17 L384.7 617.59 L385.1 617.88 L385.5 616.87 L385.9 617.62 L386.3 617.44 L386.7 617.97 L387.1 617.92 L387.5 617.05 L387.9 616.66 L388.3 617.09 L388.4 618.16 L388.7 618.26 L389.1 618.34 L389.5 617.11 L389.9 616.59 L390.3 617.67 L390.7 618.11 L391.1 618.14 L391.5 618.71 L391.9 618.62 L392.3 618.17 L392.7 618.31 L393.1 618.91 L393.5 619.07 L393.9 619.1 L394.3 620.27 L394.7 619.4 L395.1 619.47 L395.5 619.06 L395.9 619.34 L396 619.78 L396.3 619.94 L396.7 619.71 L397.1 619.95 L397.5 619.91 L397.9 619.16 L398.3 618.5 L398.7 620.7 L399.1 620.59 L399.5 620.27 L399.9 619.6 L400 619.66 L400.3 620.73 L400.7 619.42 L401.1 620.16 L401.5 620.8 L401.9 620.71 L402.3 620.97 L402.7 620.76 L403.1 621.65 L403.5 620.69 L403.6 620.39 L403.9 620.97 L404.3 621.55 L404.7 621.25 L405.1 621.63 L405.5 621.29 L405.9 621.11 L406.3 621.93 L406.7 622.2 L407.1 622.32 L407.5 621.88 L407.9 621.69 L408.3 621.74 L408.7 622.07 L409.1 622.19 L409.5 622.09 L409.9 621.43 L410.3 621.64 L410.7 621.53 L411.1 621.42 L411.5 621.25 L411.9 621.05 L412.3 621.17 L412.7 620.93 L413.1 620.81 L413.5 620.35 L413.9 620.55 L414.3 620.28 L414.7 619.33 L415.1 620.06 L415.5 619.8 L415.9 620.14 L416.3 619.64 L416.4 619.56 L416.7 619.59 L417.1 619.38 L417.5 619.03 L417.9 618.21 L418.3 619.68 L418.7 618.21 L419.1 618.41 L419.5 618.85 L419.9 618.7 L420.3 618.67 L420.7 618.67 L421.1 618.85 L421.5 618.25 L421.9 619.52 L422.3 617.42 L422.7 617.61 L423.1 617.2 L423.5 616.89 L423.9 617.23 L424 618.03 L424.3 616.92 L424.7 616.78 L425.1 617.7 L425.5 617.85 L425.9 618.78 L426.3 618.48 L426.7 618.04 L427.1 617.71 L427.5 618.02 L427.9 617.95 L428.3 617.36 L428.7 618.07 L429.1 618.19 L429.5 618.26 L429.9 618.25 L430.3 619.41 L430.7 619.2 L431.1 619.35 L431.5 618.69 L431.6 618.36 L431.9 618.72 L432.3 619.11 L432.7 618.97 L433.1 619.08 L433.5 619.69 L433.9 619.57 L434.3 619.03 L434.7 619.24 L435.1 619.24 L435.5 619.68 L435.9 619.25 L436.3 619.65 L436.7 620.15 L437.1 620.04 L437.5 619.7 L437.9 619.82 L438.3 620.2 L438.7 620.48 L439.1 620.73 L439.5 620.46 L439.9 620.04 L440.3 621.03 L440.7 620.87 L441.1 620.94 L441.5 620.98 L441.8 620.57 L441.9 620.73 L442.3 620.99 L442.7 621.32 L443.1 621.08 L443.5 619.98 L443.9 620.75 L444.3 621.12 L444.7 621.53 L445.1 621.44 L445.5 622.02 L445.9 621.8 L446.3 621.76 L446.7 621.64 L447.1 620.89 L447.5 621.47 L447.9 621.53 L448.3 621.21 L448.7 621.51 L449.1 621.54 L449.4 621.29 L449.5 621.37 L449.9 621.45 L450.3 621.69 L450.7 621.64 L451.1 621.99 L451.5 621.49 L451.9 621.92 L452.3 621.74 L452.7 622.1 L453.1 622.49 L453.5 622.54 L453.9 622.61 L454.3 622.75 L454.7 623.16 L455.1 622.8 L455.5 623.2 L455.9 622.93 L456.3 623.16 L456.7 623.39 L457.1 623.37 L457.5 623.54 L457.9 623.69 L458.3 623.47 L458.7 623.62 L459.1 623.64 L459.5 623.46 L459.9 623.7 L460.3 623.69 L460.7 624 L461.1 623.81 L461.5 624.12 L461.9 623.94 L462.3 624.23 L462.7 624.15 L463.1 624.16 L463.5 624.23 L463.9 624.28 L464.3 624.37 L464.7 624.45 L465.1 624.29 L465.5 624.21 L465.9 624.1 L466.3 624.32 L466.7 624.49 L467.1 624.52 L467.3 624.52 L467.5 624.48 L467.9 624.45 L468.3 624.48 L468.7 624.55 L469.1 624.39 L469.5 624.56 L469.9 624.43 L470.3 624.51 L470.7 624.5 L471.1 624.52 L471.5 624.48 L471.9 624.47 L472.3 624.54 L472.7 624.5 L473.1 624.75 L473.5 624.6 L473.9 624.56 L474.3 624.56 L474.7 624.53 L475.1 624.43 L475.5 624.57 L475.9 624.65 L476.3 624.53 L476.7 624.63 L477.1 624.56 L477.5 624.64 L477.9 624.69 L478.3 624.71 L478.7 624.72 L479.1 624.64 L479.5 624.75 L479.9 624.68 L480 624.72 L480.3 624.76 L480.7 624.69 L481.1 624.61 L481.5 624.73 L481.9 624.63 L482.3 624.62 L482.7 624.61 L483.1 624.75 L483.5 624.7 L483.9 624.54 L484.3 624.73 L484.7 624.8 L485.1 624.8 L485.5 624.7 L485.9 624.71 L486.3 624.75 L486.7 624.78 L487.1 624.73 L487.5 624.64 L487.9 624.75 L488.3 624.77 L488.7 624.63 L489.1 624.67 L489.5 624.73 L489.9 624.72 L490.3 624.76 L490.7 624.78 L491.1 624.77 L491.5 624.72 L491.9 624.62 L492.3 624.75 L492.7 624.8 L493.1 624.8 L493.5 624.75 L493.9 624.73 L494.3 624.8 L494.7 624.8 L495.1 624.77 L495.5 624.79 L495.9 624.68 L496.3 624.76 L496.7 624.67 L497.1 624.71 L497.5 624.72 L497.9 624.69 L498.3 624.57 L498.7 624.64 L499.1 624.74 L499.5 624.73 L499.9 624.7 L500.3 624.76 L500.7 624.79 L501.1 624.8 L501.5 624.69 L501.9 624.73 L502.3 624.71 L502.7 624.67 L503.1 624.61 L503.5 624.71 L503.9 624.67 L504.3 624.8 L504.7 624.76 L505.1 624.73 L505.5 624.71 L505.9 624.8 L506.3 624.7 L506.7 624.72 L507.1 624.68 L507.5 624.72 L507.9 624.74 L508.3 624.8 L508.7 624.66 L509.1 624.73 L509.5 624.8 L509.9 624.73 L510.3 624.73 L510.7 624.68 L511.1 624.55 L511.5 624.7 L511.9 624.8 L512.3 624.73 L512.7 624.62 L513.1 624.75 L513.5 624.76 L513.9 624.8 L514.3 624.8 L514.7 624.75 L515.1 624.79 L515.5 624.63 L515.9 624.8 L516.3 624.79 L516.7 624.8 L517.1 624.8 L517.5 624.76 L517.9 624.75 L518.3 624.7 L518.7 624.6 L519.1 624.72 L519.5 624.77 L519.9 624.69 L520.3 624.8 L520.7 624.78 L521.1 624.8 L521.5 624.72 L521.9 624.63 L522.3 624.8 L522.7 624.8 L523.1 624.77 L523.5 624.74 L523.9 624.75 L524.3 624.76 L524.7 624.73 L525.1 624.62 L525.5 624.8 L525.9 624.67 L526.3 624.73 L526.7 624.75 L527.1 624.79 L527.5 624.66 L527.9 624.8 L528.3 624.8 L528.7 624.8 L529.1 624.8 L529.5 624.75 L529.9 624.55 L530.3 624.76 L530.7 624.8 L531.1 624.8 L531.5 624.77 L531.9 624.78 L532.3 624.8 L532.7 624.66 L533.1 624.72 L533.5 624.73 L533.9 624.8 L534.3 624.76 L534.7 624.8 L535.1 624.8 L535.5 624.68 L535.9 624.8 L536.3 624.75 L536.7 624.8 L537.1 624.8 L537.5 624.79 L537.9 624.71 L538.3 624.8 L538.7 624.8 L538.8 624.71" fill="none" stroke="#f00" stroke-width="2.2" stroke-linejoin="round" stroke-linecap="butt" />
<path d="M52.3 439.5 L52.5 438.41 L52.7 435.87 L53.1 420.48 L53.2 416.63 L53.5 426.2 L53.7 432.59 L53.9 427.2 L54.3 416.42 L54.7 427 L54.8 429.64 L55.1 423.09 L55.2 420.91 L55.3 423.8 L55.5 429.33 L55.9 414.29 L56.3 422.1 L56.4 419.45 L56.6 414.63 L56.7 420.01 L56.9 430.76 L57.1 412.07 L57.2 402.72 L57.5 418.93 L57.6 410.8 L57.8 396.02 L57.9 403.14 L58.1 417.36 L58.3 405.2 L58.4 399.12 L58.5 392.35 L58.7 406.76 L58.8 413.96 L59.1 404.25 L59.4 430.5 L59.5 425.72 L59.6 420.93 L59.7 415.66 L59.9 433.73 L60 442.76 L60.3 431.58 L60.7 451.33 L60.8 452.58 L61.1 454.65 L61.5 458.34 L61.8 460.88 L61.9 460.63 L62.3 466.49 L62.4 468.67 L62.7 469.99 L62.9 475.48 L63.1 476.86 L63.5 479.87 L63.9 482.81 L64.3 487.1 L64.5 484.97 L64.7 486.79 L65.1 485.65 L65.5 477.86 L65.6 479.83 L65.9 479.58 L66.3 481.58 L66.7 480.08 L67.1 483.36 L67.3 485.53 L67.5 485.39 L67.8 490.37 L67.9 490.94 L68.3 497.28 L68.4 497.05 L68.7 506.41 L68.9 510.64 L69.1 510.8 L69.5 515.14 L69.9 519.67 L70 521.67 L70.2 517.16 L70.3 521.14 L70.7 524.27 L71.1 526.51 L71.5 527.94 L71.6 532.36 L71.9 531.57 L72.1 535.98 L72.3 537.86 L72.7 533.33 L73.1 533.86 L73.4 531.76 L73.5 535.1 L73.9 541.49 L74.3 546.59 L74.7 543.89 L74.9 546.56 L75.1 550.54 L75.3 554.13 L75.5 551.97 L75.9 548.54 L76.3 548.84 L76.5 548.04 L76.7 547.77 L77.1 546.99 L77.2 548.82 L77.5 550.78 L77.9 552.45 L78.3 554.43 L78.7 554.83 L79.1 558.17 L79.5 561.96 L79.9 560.77 L80.3 558.84 L80.4 563.35 L80.7 561.11 L81.1 561.51 L81.5 556.19 L81.9 552.4 L82.3 548.1 L82.7 554.03 L82.9 557.84 L83.1 554.27 L83.5 557.02 L83.9 562.55 L84.2 563.09 L84.3 564.33 L84.7 567.02 L85.1 570.67 L85.5 575.15 L85.9 576.28 L86.1 578.88 L86.3 578.18 L86.7 581.88 L87.1 580.53 L87.5 583.71 L87.9 590.53 L88 589.6 L88.3 592.56 L88.7 594.48 L89.1 597.54 L89.3 597.74 L89.5 598.34 L89.9 597.24 L90.3 596.73 L90.7 597.25 L91.1 598.41 L91.2 597.7 L91.5 599.25 L91.8 600.87 L91.9 601.8 L92.3 602.27 L92.7 601.29 L93.1 604.4 L93.5 606.26 L93.9 608.45 L94.3 609.22 L94.4 608.22 L94.7 608.47 L95.1 611.67 L95.5 611.7 L95.6 612.67 L95.9 613.34 L96.3 611.35 L96.7 612.26 L97.1 612.81 L97.5 613.3 L97.9 613.7 L98.2 613.75 L98.3 613.44 L98.7 611.15 L99.1 610.91 L99.5 609.56 L99.9 609.29 L100.3 607.86 L100.7 607.92 L101.1 608.71 L101.5 608.65 L101.9 608.95 L102.3 609.1 L102.7 608.93 L103.1 609.49 L103.3 609.42 L103.5 609.27 L103.9 607.23 L104.3 606.02 L104.7 601.9 L105.1 602.53 L105.2 600.26 L105.5 599.42 L105.9 599.47 L106.3 598.38 L106.7 598.96 L107.1 597.18 L107.5 595.45 L107.9 594.91 L108.3 597.97 L108.4 596.37 L108.7 594.56 L109.1 596.83 L109.5 595.33 L109.9 600.96 L110.3 597.49 L110.7 600.45 L110.9 601.34 L111.1 597.91 L111.5 598.83 L111.9 599.29 L112.3 597.66 L112.7 596.09 L113.1 596.08 L113.5 593.79 L113.9 592.37 L114.3 590.07 L114.7 589.74 L115.1 586.36 L115.5 588.04 L115.9 585.41 L116 583.82 L116.3 585.75 L116.7 588.07 L117.1 586.89 L117.5 583.69 L117.9 584.81 L118.3 582.65 L118.5 582.65 L118.7 582.86 L119.1 578.28 L119.2 581.74 L119.5 580.6 L119.9 581.28 L120.3 580.37 L120.7 580.42 L121.1 581.74 L121.5 586.22 L121.9 589.54 L122.3 588.2 L122.4 589.95 L122.7 589.17 L123.1 587.61 L123.5 592.3 L123.6 593.85 L123.9 593.98 L124.3 596.91 L124.7 599.42 L124.9 598.26 L125 597.19 L125.1 599.17 L125.5 600.87 L125.9 602.1 L126.3 605.13 L126.5 606.99 L126.7 604.73 L127.1 605.84 L127.5 606.52 L127.9 606.56 L128.3 607.13 L128.7 605.77 L129.1 606.97 L129.4 608.77 L129.5 607.81 L129.9 606.39 L130.3 607.74 L130.7 608.98 L131.1 608.57 L131.5 607.84 L131.9 610.09 L132.3 608.09 L132.7 609.52 L133.1 609.47 L133.5 608.52 L133.7 610.64 L133.9 610.31 L134.3 608.99 L134.7 610.46 L135.1 609.94 L135.2 608.53 L135.5 609.45 L135.9 610.61 L136.3 611.29 L136.7 611.14 L137.1 611.13 L137.5 611.61 L137.9 611.26 L138.1 612.39 L138.3 612.01 L138.7 612.52 L139.1 613.22 L139.5 612.62 L139.9 613.21 L140.3 615.24 L140.7 615.26 L141 615.19 L141.1 615.57 L141.5 615.56 L141.9 616.33 L142.3 616.31 L142.5 616.92 L142.7 616.12 L143.1 617.54 L143.2 616.91 L143.5 615.89 L143.9 616.01 L144.3 615.6 L144.7 615.48 L145.1 614.31 L145.5 614.69 L145.9 616.59 L146.1 613.55 L146.3 614.22 L146.7 614.17 L147.1 614.71 L147.5 613.78 L147.9 614.26 L148.3 615.55 L148.7 615.17 L149 615.98 L149.1 614.54 L149.5 614.09 L149.9 615.38 L150.3 612.37 L150.5 611.39 L150.7 611.25 L151.1 609.95 L151.5 609.45 L151.9 607.54 L152.3 605.01 L152.6 604.86 L152.7 608.21 L153.1 608.09 L153.5 604.4 L153.9 607.39 L154.3 608.07 L154.7 610.43 L154.8 610.22 L155.1 612.43 L155.5 612.48 L155.9 612.62 L156.3 612.31 L156.7 612.3 L157 612.75 L157.1 613.46 L157.5 612.75 L157.9 611.66 L158.3 612.53 L158.7 611.59 L159.1 610.93 L159.2 610.16 L159.5 610.1 L159.9 609.89 L160.3 608.35 L160.7 611.56 L161.1 612.05 L161.5 611.76 L161.9 612.95 L162.3 612.95 L162.7 613.15 L162.8 611.08 L163.1 612.45 L163.5 613.42 L163.9 614.51 L164.3 615 L164.7 614.87 L165.1 613.12 L165.5 612.15 L165.9 613.95 L166.3 614.02 L166.7 614.75 L167.1 614.24 L167.5 614.46 L167.9 613.46 L168.3 614.62 L168.6 614.33 L168.7 614.8 L169.1 615.08 L169.5 614.87 L169.9 615.2 L170.3 615.17 L170.7 615.73 L171.1 615.78 L171.5 615.28 L171.9 615.26 L172.3 616.7 L172.7 616.04 L173.1 616.62 L173.5 616.5 L173.9 616.06 L174.3 615.98 L174.5 616.47 L174.7 616.69 L175.1 617.04 L175.5 616.25 L175.9 616.55 L176.3 616.97 L176.7 617.99 L177.1 616.38 L177.5 617.51 L177.9 617.38 L178.3 617.92 L178.7 617.71 L178.8 618.06 L179.1 618.52 L179.5 617.89 L179.9 617.63 L180.3 617.39 L180.7 616.61 L181.1 616.95 L181.5 616.46 L181.7 615.97 L181.9 616.37 L182.3 616.45 L182.7 617.06 L183.1 616.86 L183.5 616.66 L183.9 617.71 L184.3 617.76 L184.7 617.99 L185.1 617.8 L185.5 617.51 L185.9 617.4 L186.1 617.47 L186.3 618.03 L186.7 617.73 L187.1 616.9 L187.5 617.39 L187.9 616.82 L188.3 617.43 L188.7 616.88 L189.1 616.72 L189.5 617.33 L189.9 617.33 L190.3 616.55 L190.5 617.54 L190.7 618.38 L191.1 616.67 L191.5 617.87 L191.9 616.76 L192.3 616.55 L192.7 616.57 L193.1 615.82 L193.4 617.05 L193.5 616.87 L193.9 616.08 L194.3 616.11 L194.7 615.36 L194.8 615.85 L195.1 616.75 L195.5 615.62 L195.9 616.19 L196.3 616.72 L196.7 617.39 L197.1 617.78 L197.5 617.06 L197.9 616.89 L198.3 617.54 L198.7 617.39 L199.1 617.5 L199.2 618.17 L199.5 618.48 L199.9 617.76 L200 617.39 L200.3 617.53 L200.7 616.16 L201.1 616.64 L201.5 616.03 L201.9 617.57 L202.3 616.83 L202.7 616.2 L203.1 615.71 L203.5 614.08 L203.8 615.53 L203.9 616.37 L204.3 615.02 L204.7 615.5 L205.1 615.54 L205.5 614.03 L205.9 615.19 L206.3 615.6 L206.4 614.96 L206.7 614.7 L207.1 615.26 L207.5 613.96 L207.9 614.8 L208.3 615.62 L208.7 613.48 L209.1 613.93 L209.5 612.36 L209.9 610.02 L210.3 610.48 L210.7 609.15 L211.1 609.41 L211.5 607.35 L211.9 608.97 L212.3 607.16 L212.7 607.64 L213.1 606.51 L213.4 606.41 L213.5 608.03 L213.9 607.03 L214.3 605.92 L214.7 604.49 L215.1 606.76 L215.3 606.64 L215.5 605.16 L215.9 605.11 L216.3 603.14 L216.7 602.34 L217.1 602.01 L217.5 603.1 L217.8 602.98 L217.9 601.45 L218.3 602.53 L218.7 602.3 L219.1 600.84 L219.5 601.31 L219.9 598.84 L220.3 598.05 L220.4 598.8 L220.7 595.84 L221.1 594.04 L221.5 587.61 L221.9 588.52 L222.3 582.35 L222.7 582.79 L222.9 580.74 L223.1 584.24 L223.5 586.9 L223.9 587.77 L224.3 588.22 L224.7 584.82 L224.8 585.54 L225.1 586.68 L225.5 586.62 L225.9 590.72 L226.3 590.4 L226.7 590.48 L227.1 591.4 L227.4 589.14 L227.5 588.5 L227.9 587.51 L228.3 588.97 L228.7 588.22 L229.1 587.73 L229.5 587.74 L229.9 582.71 L230.3 580.84 L230.7 579.75 L231.1 574.95 L231.5 573.46 L231.8 574.53 L231.9 575.79 L232.3 577.98 L232.7 578.29 L233.1 579.58 L233.5 583.78 L233.7 582.7 L233.9 584.2 L234.3 587.46 L234.4 585.21 L234.7 584.83 L235.1 586.45 L235.5 588.45 L235.6 588.68 L235.9 589.14 L236.3 591.11 L236.7 588.82 L237.1 590.75 L237.5 594.03 L237.9 593.87 L238.2 593.95 L238.3 593.45 L238.7 591.98 L239.1 591.43 L239.5 588.29 L239.9 588.31 L240.1 590.3 L240.3 587.02 L240.7 587.71 L241.1 585.12 L241.5 581.13 L241.9 580.84 L242 579.45 L242.3 580.73 L242.7 575.84 L243.1 577.53 L243.5 574.88 L243.9 568.12 L244.3 576.95 L244.7 583.93 L245.1 585.1 L245.2 588.68 L245.5 585.3 L245.8 589.04 L245.9 585.93 L246.3 587.93 L246.7 583.4 L247.1 580.06 L247.5 583.75 L247.7 587.45 L247.9 584.25 L248.3 587.91 L248.7 588.98 L249.1 590.03 L249.5 593.49 L249.6 596.08 L249.9 591.93 L250.3 594.81 L250.7 595.52 L250.9 592.75 L251.1 597.57 L251.5 599.34 L251.9 594.79 L252.2 598.7 L252.3 596.72 L252.7 596.74 L253.1 600.14 L253.5 599.38 L253.9 600.04 L254.3 602.59 L254.7 603.35 L255.1 601.86 L255.5 597.25 L255.9 595.14 L256.3 598.32 L256.7 594.71 L257.1 595.04 L257.3 592.67 L257.5 593.35 L257.9 590.65 L258.3 594.4 L258.7 589.7 L259.1 589.52 L259.5 588.56 L259.9 590 L260.3 584.88 L260.5 585.98 L260.7 587.02 L261.1 590.36 L261.5 592.56 L261.9 593 L262.3 595.95 L262.7 597.15 L263 599.85 L263.1 599.06 L263.5 597.48 L263.9 597.7 L264.3 597.93 L264.7 600.74 L265 596.35 L265.1 596.84 L265.5 598.67 L265.9 593.51 L266.3 593.5 L266.7 594.85 L267.1 597.27 L267.5 602.19 L267.9 600.28 L268.1 601.31 L268.3 599.39 L268.7 595.83 L269.1 595.58 L269.4 600.68 L269.5 600.48 L269.9 598.48 L270.3 601.85 L270.7 598.86 L270.8 602.14 L271.1 603.65 L271.5 601.35 L271.9 600.95 L272.3 603.96 L272.7 602.54 L273 605.07 L273.1 602.98 L273.5 605.3 L273.7 604.96 L273.9 604.33 L274.3 603.86 L274.7 605.3 L275.1 603.26 L275.2 604.77 L275.5 605 L275.9 606.4 L276.3 604.54 L276.7 607.67 L277.1 606.07 L277.5 604.9 L277.9 607.62 L278.1 608.5 L278.3 606.85 L278.7 606.26 L279.1 607.56 L279.5 607.53 L279.9 608.3 L280.3 610.65 L280.7 610.37 L281 610.36 L281.1 610.55 L281.5 610.55 L281.9 611.6 L282.3 612.09 L282.7 611.42 L283.1 611.95 L283.5 614.13 L283.9 613.27 L284.3 612.91 L284.6 614.66 L284.7 613.53 L285.1 612.7 L285.5 613.96 L285.9 613.27 L286.3 613.58 L286.7 614.36 L286.8 614.22 L287.1 613.87 L287.5 614.05 L287.9 614.17 L288.3 615.42 L288.7 614.39 L289.1 614.23 L289.5 615.83 L289.9 614.44 L290.3 615.44 L290.7 615.49 L291.1 614.5 L291.5 613.42 L291.9 614.4 L292.3 614.7 L292.6 614.93 L292.7 614.39 L293.1 615.08 L293.5 615.36 L293.9 613.84 L294.1 615.18 L294.3 614.62 L294.7 614.03 L295.1 614.07 L295.5 615.53 L295.9 615.01 L296.3 612.82 L296.7 613.46 L297.1 613.24 L297.5 612.98 L297.9 612.47 L298.3 611.46 L298.5 612.94 L298.7 612.05 L299.1 612.6 L299.5 612.8 L299.9 613.01 L300.3 614.32 L300.7 614.58 L301.1 614.19 L301.5 614.21 L301.9 614.78 L302.3 616 L302.7 615.99 L302.8 616.06 L303.1 615.91 L303.5 616.12 L303.9 616.59 L304.3 615.79 L304.7 617.58 L305.1 616.91 L305.5 617.07 L305.7 618.07 L305.9 617.8 L306.3 617.8 L306.7 617.65 L307.1 617.33 L307.2 618.04 L307.5 618.6 L307.9 617.78 L308.3 618.6 L308.7 617.65 L309.1 617.62 L309.5 618.14 L309.9 618.01 L310.1 618.29 L310.3 617.82 L310.7 617.81 L311.1 617.65 L311.5 618.08 L311.9 618.41 L312.3 618.53 L312.7 619.38 L313.1 619.37 L313.5 619.11 L313.9 620.71 L314.3 620.13 L314.5 619.96 L314.7 620.7 L315.1 620.9 L315.5 620.32 L315.9 620.18 L316.3 620.34 L316.7 621.02 L317.1 620.8 L317.5 620.67 L317.9 620.91 L318.3 621.34 L318.7 620.78 L319.1 620.99 L319.5 620.82 L319.9 621.74 L320.3 621.88 L320.7 621.67 L321.1 621.36 L321.5 621.5 L321.9 620.84 L322.3 621.3 L322.7 620.99 L323.1 620.93 L323.5 621.07 L323.9 621.19 L324.3 621.44 L324.6 621.53 L324.7 621.42 L325.1 621.02 L325.5 621.29 L325.9 621.08 L326.3 621.33 L326.7 620.75 L327.1 620.06 L327.5 620.5 L327.9 621.27 L328.3 620.89 L328.7 620.56 L329.1 620.76 L329.5 620.63 L329.9 620.53 L330.3 620.15 L330.5 620.24 L330.7 620.27 L331.1 619.94 L331.2 619.72 L331.5 620.24 L331.9 620.77 L332.3 620.94 L332.7 621.09 L333.1 621.28 L333.5 622 L333.9 621.73 L334.3 622.02 L334.7 622.42 L334.8 622.11 L335.1 622.14 L335.5 622.36 L335.9 622.58 L336.3 622.4 L336.7 622.43 L337.1 622.44 L337.5 622.26 L337.9 622.7 L338.3 622.6 L338.7 622.38 L339.1 622.66 L339.5 622.52 L339.9 622.67 L340.3 622.91 L340.6 622.86 L340.7 623.14 L341.1 622.85 L341.5 623.07 L341.9 623.18 L342.3 623.35 L342.7 623.33 L343.1 623.25 L343.5 623.24 L343.9 623.24 L344.3 623.43 L344.7 623.24 L345 623.38 L345.1 623.33 L345.5 623.38 L345.9 623.35 L346.3 623.67 L346.7 623.4 L347.1 623.48 L347.5 623.51 L347.6 623.56 L347.9 623.52 L348.3 623.48 L348.7 623.52 L349.1 623.16 L349.5 623.26 L349.9 623.08 L350.3 623.22 L350.7 623.01 L351.1 622.97 L351.5 623.06 L351.9 623.26 L352.3 623.15 L352.7 623.06 L353.1 623.18 L353.5 622.81 L353.9 622.51 L354.3 622.69 L354.7 622.72 L355.1 622.94 L355.3 623.13 L355.5 622.58 L355.9 623.1 L356.3 623.04 L356.7 622.89 L357.1 622.76 L357.5 623.08 L357.9 622.72 L358.3 622.54 L358.7 622.6 L359.1 622.33 L359.5 622.59 L359.9 622.52 L360.3 622.58 L360.7 622.58 L361.1 622.31 L361.5 622.67 L361.9 622.3 L362.3 622.57 L362.7 622.15 L362.9 622.42 L363.1 622.23 L363.5 622.3 L363.9 622.14 L364.3 621.75 L364.7 621.84 L365.1 622.05 L365.5 622.17 L365.9 621.7 L366.3 621.42 L366.7 621.58 L367.1 621.72 L367.5 621.6 L367.9 621.5 L368 621.85 L368.3 621.9 L368.7 621.81 L369.1 621.33 L369.5 621.43 L369.9 621.33 L370.3 620.94 L370.7 621.39 L371.1 621.23 L371.5 620.99 L371.9 621.39 L372.3 621.25 L372.7 621.19 L373.1 621.23 L373.5 621.05 L373.9 620.39 L374.3 620.46 L374.4 620.87 L374.7 620.48 L375.1 620.68 L375.5 620.86 L375.9 621.22 L376.3 621.29 L376.7 621.23 L377.1 620.96 L377.5 621.24 L377.9 621.23 L378.3 621.08 L378.7 621.49 L379.1 621.38 L379.5 621.08 L379.9 621.57 L380.3 621.32 L380.7 621.52 L381.1 621.05 L381.5 621.34 L381.9 621.18 L382.3 621.16 L382.7 620.95 L383.1 621.9 L383.5 621.55 L383.9 621.58 L384.3 621.81 L384.7 621.58 L385.1 621.7 L385.5 621.3 L385.9 621.59 L386.3 621.53 L386.7 621.74 L387.1 621.72 L387.5 621.37 L387.9 621.21 L388.3 621.39 L388.4 621.82 L388.7 621.86 L389.1 621.9 L389.5 621.4 L389.9 621.19 L390.3 621.63 L390.7 621.81 L391.1 621.82 L391.5 622.06 L391.9 622.02 L392.3 621.84 L392.7 621.9 L393.1 622.15 L393.5 622.21 L393.9 622.23 L394.3 622.72 L394.7 622.35 L395.1 622.38 L395.5 622.21 L395.9 622.33 L396 622.51 L396.3 622.58 L396.7 622.48 L397.1 622.59 L397.5 622.57 L397.9 622.25 L398.3 621.97 L398.7 622.91 L399.1 622.86 L399.5 622.72 L399.9 622.44 L400 622.46 L400.3 622.92 L400.7 622.35 L401.1 622.67 L401.5 622.95 L401.9 622.91 L402.3 623.02 L402.7 622.93 L403.1 623.32 L403.5 622.9 L403.6 622.76 L403.9 623.02 L404.3 623.28 L404.7 623.14 L405.1 623.31 L405.5 623.15 L405.9 623.06 L406.3 623.44 L406.7 623.56 L407.1 623.61 L407.5 623.4 L407.9 623.31 L408.3 623.32 L408.7 623.48 L409.1 623.54 L409.5 623.5 L409.9 623.2 L410.3 623.3 L410.7 623.26 L411.1 623.21 L411.5 623.14 L411.9 623.06 L412.3 623.11 L412.7 623.01 L413.1 622.96 L413.5 622.76 L413.9 622.85 L414.3 622.73 L414.7 622.33 L415.1 622.64 L415.5 622.53 L415.9 622.68 L416.3 622.47 L416.4 622.43 L416.7 622.44 L417.1 622.36 L417.5 622.21 L417.9 621.87 L418.3 622.48 L418.7 621.87 L419.1 621.95 L419.5 622.13 L419.9 622.07 L420.3 622.05 L420.7 622.05 L421.1 622.12 L421.5 621.88 L421.9 622.38 L422.3 621.54 L422.7 621.62 L423.1 621.45 L423.5 621.32 L423.9 621.46 L424 621.77 L424.3 621.33 L424.7 621.28 L425.1 621.65 L425.5 621.71 L425.9 622.08 L426.3 621.97 L426.7 621.79 L427.1 621.66 L427.5 621.79 L427.9 621.76 L428.3 621.52 L428.7 621.81 L429.1 621.86 L429.5 621.89 L429.9 621.89 L430.3 622.36 L430.7 622.28 L431.1 622.34 L431.5 622.07 L431.6 621.94 L431.9 622.09 L432.3 622.25 L432.7 622.19 L433.1 622.24 L433.5 622.49 L433.9 622.44 L434.3 622.22 L434.7 622.31 L435.1 622.31 L435.5 622.49 L435.9 622.31 L436.3 622.48 L436.7 622.69 L437.1 622.64 L437.5 622.5 L437.9 622.55 L438.3 622.71 L438.7 622.83 L439.1 622.94 L439.5 622.82 L439.9 622.64 L440.3 623.07 L440.7 623 L441.1 623.03 L441.5 623.04 L441.8 622.86 L441.9 622.93 L442.3 623.04 L442.7 623.19 L443.1 623.08 L443.5 622.6 L443.9 622.94 L444.3 623.1 L444.7 623.28 L445.1 623.24 L445.5 623.5 L445.9 623.4 L446.3 623.38 L446.7 623.33 L447.1 622.99 L447.5 623.25 L447.9 623.28 L448.3 623.13 L448.7 623.27 L449.1 623.28 L449.4 623.17 L449.5 623.2 L449.9 623.24 L450.3 623.34 L450.7 623.32 L451.1 623.47 L451.5 623.23 L451.9 623.43 L452.3 623.33 L452.7 623.5 L453.1 623.68 L453.5 623.7 L453.9 623.73 L454.3 623.79 L454.7 623.99 L455.1 623.79 L455.5 623.99 L455.9 623.84 L456.3 623.94 L456.7 624.06 L457.1 624.03 L457.5 624.12 L457.9 624.2 L458.3 624.07 L458.7 624.15 L459.1 624.15 L459.5 624.04 L459.9 624.17 L460.3 624.16 L460.7 624.34 L461.1 624.22 L461.5 624.41 L461.9 624.29 L462.3 624.46 L462.7 624.4 L463.1 624.4 L463.5 624.44 L463.9 624.46 L464.3 624.52 L464.7 624.56 L465.1 624.44 L465.5 624.37 L465.9 624.28 L466.3 624.42 L466.7 624.54 L467.1 624.55 L467.3 624.54 L467.5 624.51 L467.9 624.49 L468.3 624.51 L468.7 624.56 L469.1 624.44 L469.5 624.57 L469.9 624.46 L470.3 624.52 L470.7 624.51 L471.1 624.52 L471.5 624.49 L471.9 624.48 L472.3 624.53 L472.7 624.49 L473.1 624.7 L473.5 624.57 L473.9 624.54 L474.3 624.54 L474.7 624.51 L475.1 624.42 L475.5 624.54 L475.9 624.6 L476.3 624.5 L476.7 624.58 L477.1 624.52 L477.5 624.58 L477.9 624.62 L478.3 624.64 L478.7 624.64 L479.1 624.58 L479.5 624.66 L479.9 624.6 L480 624.63 L480.3 624.66 L480.7 624.61 L481.1 624.54 L481.5 624.64 L481.9 624.56 L482.3 624.56 L482.7 624.54 L483.1 624.65 L483.5 624.62 L483.9 624.49 L484.3 624.64 L484.7 624.7 L485.1 624.7 L485.5 624.62 L485.9 624.63 L486.3 624.65 L486.7 624.68 L487.1 624.64 L487.5 624.56 L487.9 624.66 L488.3 624.67 L488.7 624.56 L489.1 624.59 L489.5 624.64 L489.9 624.63 L490.3 624.66 L490.7 624.68 L491.1 624.67 L491.5 624.63 L491.9 624.55 L492.3 624.65 L492.7 624.7 L493.1 624.7 L493.5 624.66 L493.9 624.64 L494.3 624.7 L494.7 624.7 L495.1 624.67 L495.5 624.68 L495.9 624.6 L496.3 624.66 L496.7 624.59 L497.1 624.62 L497.5 624.63 L497.9 624.61 L498.3 624.51 L498.7 624.56 L499.1 624.64 L499.5 624.64 L499.9 624.62 L500.3 624.66 L500.7 624.68 L501.1 624.7 L501.5 624.61 L501.9 624.64 L502.3 624.62 L502.7 624.59 L503.1 624.54 L503.5 624.62 L503.9 624.59 L504.3 624.7 L504.7 624.66 L505.1 624.63 L505.5 624.62 L505.9 624.7 L506.3 624.61 L506.7 624.63 L507.1 624.6 L507.5 624.63 L507.9 624.64 L508.3 624.7 L508.7 624.58 L509.1 624.63 L509.5 624.7 L509.9 624.64 L510.3 624.64 L510.7 624.6 L511.1 624.49 L511.5 624.61 L511.9 624.7 L512.3 624.64 L512.7 624.54 L513.1 624.65 L513.5 624.66 L513.9 624.7 L514.3 624.7 L514.7 624.65 L515.1 624.68 L515.5 624.56 L515.9 624.7 L516.3 624.68 L516.7 624.7 L517.1 624.7 L517.5 624.66 L517.9 624.65 L518.3 624.61 L518.7 624.53 L519.1 624.63 L519.5 624.66 L519.9 624.6 L520.3 624.69 L520.7 624.67 L521.1 624.69 L521.5 624.62 L521.9 624.55 L522.3 624.69 L522.7 624.7 L523.1 624.67 L523.5 624.64 L523.9 624.64 L524.3 624.65 L524.7 624.63 L525.1 624.54 L525.5 624.69 L525.9 624.59 L526.3 624.63 L526.7 624.64 L527.1 624.68 L527.5 624.58 L527.9 624.7 L528.3 624.7 L528.7 624.7 L529.1 624.7 L529.5 624.64 L529.9 624.48 L530.3 624.66 L530.7 624.7 L531.1 624.7 L531.5 624.66 L531.9 624.67 L532.3 624.69 L532.7 624.57 L533.1 624.62 L533.5 624.63 L533.9 624.7 L534.3 624.66 L534.7 624.7 L535.1 624.7 L535.5 624.59 L535.9 624.7 L536.3 624.65 L536.7 624.7 L537.1 624.7 L537.5 624.67 L537.9 624.61 L538.3 624.7 L538.7 624.7 L538.8 624.61" fill="none" stroke="#0f0" stroke-width="2.2" stroke-linejoin="round" stroke-linecap="butt" />
<path d="M52.3 439.5 L52.5 447 L52.7 452 L53.1 425.6 L53.2 419 L53.5 435.62 L53.7 446.7 L53.9 438.13 L54.3 421 L54.7 440.68 L54.8 445.6 L55.1 435.4 L55.2 432 L55.3 437.33 L55.5 448 L55.9 424.3 L56.3 440 L56.4 436 L56.6 428 L56.7 437.43 L56.9 456.3 L57.1 422.1 L57.2 405 L57.5 430 L57.6 415 L57.8 385 L57.9 395 L58.1 415 L58.3 389.5 L58.4 376.75 L58.5 364 L58.7 386.67 L58.8 398 L59.1 378 L59.4 420 L59.5 410.67 L59.6 401.33 L59.7 392 L59.9 422.67 L60 438 L60.3 418 L60.7 451.04 L60.8 452.71 L61.1 456.51 L61.5 462.28 L61.8 466.43 L61.9 467 L62.3 474.4 L62.4 476.78 L62.7 479.79 L62.9 485.25 L63.1 487.2 L63.5 491.27 L63.9 495.29 L64.3 500.32 L64.5 499.63 L64.7 499.43 L65.1 495.45 L65.5 488.05 L65.6 489.13 L65.9 490.7 L66.3 494.55 L66.7 495.77 L67.1 498.62 L67.3 500.43 L67.5 500.92 L67.8 505.53 L67.9 505.92 L68.3 510.55 L68.4 510.34 L68.7 519.96 L68.9 524.86 L69.1 524.96 L69.5 528.18 L69.9 531.54 L70 533.03 L70.2 529.98 L70.3 533.36 L70.7 537.28 L71.1 540.53 L71.5 543.18 L71.6 546.89 L71.9 547.12 L72.1 550.97 L72.3 551.14 L72.7 545.25 L73.1 543.91 L73.4 541.03 L73.5 544.19 L73.9 551.59 L74.3 558.04 L74.7 558.62 L74.9 561.93 L75.1 566.42 L75.3 570.62 L75.5 568.46 L75.9 564.81 L76.3 563.95 L76.5 562.8 L76.7 561.58 L77.1 558.95 L77.2 559.81 L77.5 561.28 L77.9 562.53 L78.3 564.02 L78.7 564.31 L79.1 566.82 L79.5 570.95 L79.9 571.34 L80.3 571.18 L80.4 574.88 L80.7 572.06 L81.1 570.83 L81.5 565.32 L81.9 560.95 L82.3 556.2 L82.7 562.76 L82.9 566.68 L83.1 564.29 L83.5 566.94 L83.9 571.68 L84.2 572.53 L84.3 573.63 L84.7 576.35 L85.1 579.8 L85.5 583.87 L85.9 585.36 L86.1 587.63 L86.3 587.38 L86.7 590.69 L87.1 590.22 L87.5 593.15 L87.9 598.75 L88 598.31 L88.3 599.93 L88.7 600.73 L89.1 602.24 L89.3 602.16 L89.5 602.61 L89.9 602.07 L90.3 601.89 L90.7 602.35 L91.1 603.21 L91.2 602.81 L91.5 604.11 L91.8 605.45 L91.9 606.12 L92.3 606.82 L92.7 606.66 L93.1 608.95 L93.5 610.48 L93.9 612.2 L94.3 613.08 L94.4 612.63 L94.7 612.75 L95.1 614.57 L95.5 614.57 L95.6 615.14 L95.9 615.65 L96.3 614.65 L96.7 615.35 L97.1 615.83 L97.5 616.28 L97.9 616.67 L98.2 616.83 L98.3 616.59 L98.7 615.05 L99.1 614.65 L99.5 613.62 L99.9 613.21 L100.3 612.14 L100.7 611.92 L101.1 612.55 L101.5 612.69 L101.9 613.03 L102.3 613.3 L102.7 613.38 L103.1 613.87 L103.3 613.93 L103.5 613.54 L103.9 611.81 L104.3 610.55 L104.7 607.62 L105.1 607.43 L105.2 605.97 L105.5 605.17 L105.9 604.79 L106.3 603.74 L106.7 603.71 L107.1 602.22 L107.5 600.75 L107.9 600.03 L108.3 601.61 L108.4 600.49 L108.7 599.6 L109.1 601.4 L109.5 600.82 L109.9 604.7 L110.3 602.92 L110.7 605.1 L110.9 605.83 L111.1 603.81 L111.5 604.45 L111.9 604.8 L112.3 603.91 L112.7 603.07 L113.1 603.14 L113.5 601.89 L113.9 600.72 L114.3 598.98 L114.7 598.56 L115.1 595.53 L115.5 596.17 L115.9 593.61 L116 592.27 L116.3 593.56 L116.7 595.1 L117.1 594 L117.5 591.4 L117.9 592.04 L118.3 590.21 L118.5 590.11 L118.7 590.16 L119.1 586.5 L119.2 589.05 L119.5 588.63 L119.9 589.73 L120.3 589.63 L120.7 590.25 L121.1 591.83 L121.5 595.17 L121.9 597.64 L122.3 596.61 L122.4 597.88 L122.7 597.73 L123.1 597.41 L123.5 601.17 L123.6 602.29 L123.9 602.9 L124.3 605.27 L124.7 607.4 L124.9 607.22 L125 606.62 L125.1 607.54 L125.5 608.05 L125.9 608.31 L126.3 609.61 L126.5 610.49 L126.7 609.25 L127.1 610.09 L127.5 610.68 L127.9 610.89 L128.3 611.41 L128.7 610.83 L129.1 611.7 L129.4 612.84 L129.5 612.33 L129.9 611.62 L130.3 612.44 L130.7 613.2 L131.1 613.05 L131.5 612.72 L131.9 614.03 L132.3 613.02 L132.7 613.96 L133.1 614.1 L133.5 613.78 L133.7 614.98 L133.9 614.86 L134.3 614.29 L134.7 615.16 L135.1 615.01 L135.2 614.32 L135.5 614.87 L135.9 615.57 L136.3 616.02 L136.7 616.06 L137.1 616.17 L137.5 616.51 L137.9 616.46 L138.1 617.06 L138.3 616.92 L138.7 617.24 L139.1 617.66 L139.5 617.46 L139.9 617.82 L140.3 618.87 L140.7 618.97 L141 618.99 L141.1 619.21 L141.5 619.35 L141.9 619.84 L142.3 619.98 L142.5 620.33 L142.7 619.85 L143.1 620.3 L143.2 619.93 L143.5 619.47 L143.9 619.57 L144.3 619.42 L144.7 619.4 L145.1 618.9 L145.5 619.1 L145.9 619.96 L146.1 618.64 L146.3 618.92 L146.7 618.87 L147.1 619.08 L147.5 618.63 L147.9 618.81 L148.3 619.37 L148.7 619.43 L149 619.94 L149.1 619.22 L149.5 618.63 L149.9 618.87 L150.3 617.09 L150.5 616.43 L150.7 616.34 L151.1 615.67 L151.5 615.37 L151.9 614.41 L152.3 613.17 L152.6 613.04 L152.7 614.57 L153.1 614.57 L153.5 612.9 L153.9 614.31 L154.3 614.65 L154.7 615.79 L154.8 615.69 L155.1 616.9 L155.5 617.12 L155.9 616.98 L156.3 616.62 L156.7 616.39 L157 616.46 L157.1 616.85 L157.5 616.55 L157.9 616.07 L158.3 616.59 L158.7 616.18 L159.1 615.92 L159.2 615.56 L159.5 615.73 L159.9 615.88 L160.3 615.18 L160.7 616.72 L161.1 616.97 L161.5 616.86 L161.9 617.45 L162.3 617.47 L162.7 617.59 L162.8 616.61 L163.1 617.33 L163.5 617.89 L163.9 618.49 L164.3 618.82 L164.7 618.78 L165.1 618 L165.5 617.58 L165.9 618.44 L166.3 618.5 L166.7 618.87 L167.1 618.67 L167.5 618.79 L167.9 618.37 L168.3 618.92 L168.6 618.82 L168.7 619.03 L169.1 619.18 L169.5 619.11 L169.9 619.28 L170.3 619.28 L170.7 619.56 L171.1 619.6 L171.5 619.39 L171.9 619.41 L172.3 620.08 L172.7 619.8 L173.1 620.09 L173.5 620.06 L173.9 619.88 L174.3 619.87 L174.5 620.11 L174.7 620.22 L175.1 620.4 L175.5 620.06 L175.9 620.22 L176.3 620.43 L176.7 620.91 L177.1 620.21 L177.5 620.74 L177.9 620.7 L178.3 620.96 L178.7 620.89 L178.8 621.06 L179.1 621.33 L179.5 621.14 L179.9 621.11 L180.3 621.1 L180.7 620.87 L181.1 621.08 L181.5 620.97 L181.7 620.83 L181.9 620.96 L182.3 620.95 L182.7 621.14 L183.1 621.02 L183.5 620.9 L183.9 621.27 L184.3 621.25 L184.7 621.31 L185.1 621.18 L185.5 621.01 L185.9 620.92 L186.1 620.93 L186.3 621.18 L186.7 621.06 L187.1 620.71 L187.5 620.93 L187.9 620.7 L188.3 620.97 L188.7 620.75 L189.1 620.7 L189.5 620.96 L189.9 620.98 L190.3 620.66 L190.5 621.08 L190.7 621.45 L191.1 620.79 L191.5 621.33 L191.9 620.93 L192.3 620.89 L192.7 620.94 L193.1 620.7 L193.4 621.2 L193.5 621.15 L193.9 620.93 L194.3 621.02 L194.7 620.83 L194.8 621.02 L195.1 621.34 L195.5 620.92 L195.9 621.12 L196.3 621.31 L196.7 621.55 L197.1 621.68 L197.5 621.41 L197.9 621.34 L198.3 621.57 L198.7 621.51 L199.1 621.54 L199.2 621.79 L199.5 621.97 L199.9 621.8 L200 621.69 L200.3 621.74 L200.7 621.26 L201.1 621.43 L201.5 621.21 L201.9 621.75 L202.3 621.49 L202.7 621.27 L203.1 621.1 L203.5 620.54 L203.8 621.03 L203.9 621.31 L204.3 620.81 L204.7 620.95 L205.1 620.92 L205.5 620.37 L205.9 620.74 L206.3 620.85 L206.4 620.62 L206.7 620.32 L207.1 620.26 L207.5 619.47 L207.9 619.52 L208.3 619.6 L208.7 618.78 L209.1 619.06 L209.5 618.5 L209.9 617.65 L210.3 617.91 L210.7 617.47 L211.1 617.63 L211.5 616.93 L211.9 617.4 L212.3 616.63 L212.7 616.7 L213.1 616.29 L213.4 616.26 L213.5 616.86 L213.9 616.5 L214.3 616.1 L214.7 615.58 L215.1 616.41 L215.3 616.37 L215.5 615.88 L215.9 615.94 L216.3 615.33 L216.7 615.13 L217.1 615.09 L217.5 615.53 L217.8 615.54 L217.9 614.79 L218.3 614.23 L218.7 613.24 L219.1 611.77 L219.5 611.11 L219.9 609.13 L220.3 607.9 L220.4 608.05 L220.7 606.99 L221.1 606.63 L221.5 603.94 L221.9 605.07 L222.3 602.38 L222.7 601.62 L222.9 599.88 L223.1 602 L223.5 603.58 L223.9 604.08 L224.3 604.36 L224.7 602.54 L224.8 602.95 L225.1 603.73 L225.5 603.92 L225.9 606.23 L226.3 606.28 L226.7 606.54 L227.1 606.6 L227.4 605.2 L227.5 604.92 L227.9 604.56 L228.3 605.45 L228.7 605.24 L229.1 605.16 L229.5 605.36 L229.9 602.84 L230.3 601.5 L230.7 600.69 L231.1 597.53 L231.5 596.51 L231.8 597.4 L231.9 598.31 L232.3 599.86 L232.7 600.18 L233.1 601.24 L233.5 604.01 L233.7 603.6 L233.9 604.82 L234.3 607.29 L234.4 606.42 L234.7 606.38 L235.1 607.31 L235.5 608.39 L235.6 608.54 L235.9 608.68 L236.3 609.44 L236.7 608.49 L237.1 609.27 L237.5 610.53 L237.9 610.51 L238.2 610.55 L238.3 610.24 L238.7 609.14 L239.1 608.45 L239.5 606.67 L239.9 606.34 L240.1 607.2 L240.3 605.29 L240.7 605.15 L241.1 603.27 L241.5 600.46 L241.9 599.83 L242 598.84 L242.3 599.79 L242.7 596.7 L243.1 598.18 L243.5 596.64 L243.9 591.95 L244.3 597.71 L244.7 601.83 L245.1 602.34 L245.2 604.36 L245.5 604.18 L245.8 607.64 L245.9 605.96 L246.3 605.83 L246.7 602.44 L247.1 599.48 L247.5 600.68 L247.7 602.61 L247.9 600.5 L248.3 602.61 L248.7 603.15 L249.1 603.74 L249.5 605.61 L249.6 606.94 L249.9 605.47 L250.3 607.64 L250.7 608.76 L250.9 608.03 L251.1 610.17 L251.5 611.16 L251.9 609.65 L252.2 611.4 L252.3 610.66 L252.7 610.74 L253.1 612.14 L253.5 611.92 L253.9 612.26 L254.3 613.33 L254.7 613.7 L255.1 612.93 L255.5 610.92 L255.9 609.9 L256.3 610.97 L256.7 609.34 L257.1 609.29 L257.3 608.22 L257.5 608.35 L257.9 606.88 L258.3 608.31 L258.7 605.88 L259.1 605.56 L259.5 604.86 L259.9 605.45 L260.3 602.51 L260.5 603.04 L260.7 603.71 L261.1 605.69 L261.5 607.05 L261.9 607.62 L262.3 609.33 L262.7 610.29 L263 611.75 L263.1 611.43 L263.5 610.78 L263.9 610.86 L264.3 610.94 L264.7 612.03 L265 610.28 L265.1 610.57 L265.5 611.63 L265.9 609.75 L266.3 609.83 L266.7 610.42 L267.1 611.42 L267.5 613.36 L267.9 612.72 L268.1 613.15 L268.3 612.51 L268.7 611.36 L269.1 611.45 L269.4 613.45 L269.5 613.42 L269.9 612.88 L270.3 614.26 L270.7 613.39 L270.8 614.58 L271.1 615.15 L271.5 614.4 L271.9 614.32 L272.3 615.43 L272.7 614.99 L273 615.92 L273.1 615.23 L273.5 616.22 L273.7 616.19 L273.9 616.04 L274.3 616.01 L274.7 616.62 L275.1 616.07 L275.2 616.6 L275.5 616.8 L275.9 617.41 L276.3 616.99 L276.7 618.12 L277.1 617.8 L277.5 617.62 L277.9 618.58 L278.1 618.91 L278.3 618.46 L278.7 618.34 L279.1 618.75 L279.5 618.79 L279.9 618.99 L280.3 619.65 L280.7 619.55 L281 619.53 L281.1 619.59 L281.5 619.61 L281.9 619.94 L282.3 620.11 L282.7 619.92 L283.1 620.1 L283.5 620.78 L283.9 620.54 L284.3 620.45 L284.6 620.99 L284.7 620.66 L285.1 620.47 L285.5 620.91 L285.9 620.76 L286.3 620.92 L286.7 621.21 L286.8 621.18 L287.1 621.05 L287.5 621.06 L287.9 621.06 L288.3 621.4 L288.7 621.1 L289.1 621.07 L289.5 621.57 L289.9 621.17 L290.3 621.48 L290.7 621.51 L291.1 621.23 L291.5 620.93 L291.9 621.23 L292.3 621.34 L292.6 621.41 L292.7 621.26 L293.1 621.44 L293.5 621.52 L293.9 621.06 L294.1 621.45 L294.3 621.25 L294.7 621.01 L295.1 620.96 L295.5 621.34 L295.9 621.19 L296.3 620.53 L296.7 620.74 L297.1 620.68 L297.5 620.61 L297.9 620.47 L298.3 620.18 L298.5 620.62 L298.7 620.39 L299.1 620.6 L299.5 620.71 L299.9 620.83 L300.3 621.26 L300.7 621.39 L301.1 621.33 L301.5 621.4 L301.9 621.61 L302.3 622.01 L302.7 622.06 L302.8 622.1 L303.1 622.12 L303.5 622.26 L303.9 622.47 L304.3 622.36 L304.7 622.9 L305.1 622.82 L305.5 622.95 L305.7 623.23 L305.9 623.17 L306.3 623.17 L306.7 623.14 L307.1 623.06 L307.2 623.23 L307.5 623.4 L307.9 623.25 L308.3 623.48 L308.7 623.31 L309.1 623.35 L309.5 623.5 L309.9 623.52 L310.1 623.6 L310.3 623.5 L310.7 623.49 L311.1 623.45 L311.5 623.53 L311.9 623.59 L312.3 623.61 L312.7 623.78 L313.1 623.77 L313.5 623.7 L313.9 624.06 L314.3 623.91 L314.5 623.87 L314.7 624.05 L315.1 624.12 L315.5 624 L315.9 623.99 L316.3 624.01 L316.7 624.16 L317.1 624.09 L317.5 624.05 L317.9 624.09 L318.3 624.18 L318.7 624.02 L319.1 624.06 L319.5 624 L319.9 624.22 L320.3 624.24 L320.7 624.19 L321.1 624.11 L321.5 624.15 L321.9 623.97 L322.3 624.09 L322.7 624.01 L323.1 624 L323.5 624.03 L323.9 624.06 L324.3 624.13 L324.6 624.15 L324.7 624.13 L325.1 624.04 L325.5 624.13 L325.9 624.1 L326.3 624.18 L326.7 624.06 L327.1 623.91 L327.5 624.03 L327.9 624.23 L328.3 624.16 L328.7 624.1 L329.1 624.16 L329.5 624.14 L329.9 624.14 L330.3 624.07 L330.5 624.1 L330.7 624.12 L331.1 624.07 L331.2 624.03 L331.5 624.11 L331.9 624.19 L332.3 624.19 L332.7 624.19 L333.1 624.19 L333.5 624.33 L333.9 624.22 L334.3 624.25 L334.7 624.32 L334.8 624.22 L335.1 624.22 L335.5 624.27 L335.9 624.33 L336.3 624.26 L336.7 624.26 L337.1 624.25 L337.5 624.18 L337.9 624.31 L338.3 624.26 L338.7 624.17 L339.1 624.25 L339.5 624.18 L339.9 624.22 L340.3 624.29 L340.6 624.25 L340.7 624.36 L341.1 624.25 L341.5 624.33 L341.9 624.37 L342.3 624.43 L342.7 624.42 L343.1 624.39 L343.5 624.38 L343.9 624.38 L344.3 624.45 L344.7 624.37 L345 624.42 L345.1 624.4 L345.5 624.41 L345.9 624.39 L346.3 624.51 L346.7 624.39 L347.1 624.42 L347.5 624.42 L347.6 624.44 L347.9 624.44 L348.3 624.44 L348.7 624.46 L349.1 624.34 L349.5 624.4 L349.9 624.34 L350.3 624.41 L350.7 624.35 L351.1 624.35 L351.5 624.4 L351.9 624.48 L352.3 624.46 L352.7 624.44 L353.1 624.49 L353.5 624.38 L353.9 624.3 L354.3 624.37 L354.7 624.4 L355.1 624.48 L355.3 624.54 L355.5 624.38 L355.9 624.54 L356.3 624.53 L356.7 624.49 L357.1 624.45 L357.5 624.56 L357.9 624.45 L358.3 624.41 L358.7 624.43 L359.1 624.36 L359.5 624.44 L359.9 624.42 L360.3 624.44 L360.7 624.45 L361.1 624.38 L361.5 624.49 L361.9 624.39 L362.3 624.47 L362.7 624.36 L362.9 624.44 L363.1 624.39 L363.5 624.43 L363.9 624.4 L364.3 624.32 L364.7 624.36 L365.1 624.42 L365.5 624.47 L365.9 624.37 L366.3 624.32 L366.7 624.37 L367.1 624.42 L367.5 624.4 L367.9 624.39 L368 624.48 L368.3 624.5 L368.7 624.49 L369.1 624.41 L369.5 624.44 L369.9 624.44 L370.3 624.37 L370.7 624.48 L371.1 624.46 L371.5 624.43 L371.9 624.52 L372.3 624.5 L372.7 624.5 L373.1 624.52 L373.5 624.5 L373.9 624.4 L374.3 624.42 L374.4 624.5 L374.7 624.43 L375.1 624.45 L375.5 624.48 L375.9 624.53 L376.3 624.54 L376.7 624.52 L377.1 624.46 L377.5 624.51 L377.9 624.5 L378.3 624.46 L378.7 624.53 L379.1 624.5 L379.5 624.43 L379.9 624.52 L380.3 624.46 L380.7 624.49 L381.1 624.4 L381.5 624.45 L381.9 624.42 L382.3 624.41 L382.7 624.36 L383.1 624.55 L383.5 624.48 L383.9 624.49 L384.3 624.53 L384.7 624.48 L385.1 624.5 L385.5 624.41 L385.9 624.47 L386.3 624.45 L386.7 624.5 L387.1 624.49 L387.5 624.41 L387.9 624.37 L388.3 624.41 L388.4 624.5 L388.7 624.51 L389.1 624.51 L389.5 624.39 L389.9 624.33 L390.3 624.42 L390.7 624.46 L391.1 624.45 L391.5 624.5 L391.9 624.48 L392.3 624.43 L392.7 624.43 L393.1 624.48 L393.5 624.49 L393.9 624.49 L394.3 624.6 L394.7 624.5 L395.1 624.5 L395.5 624.45 L395.9 624.47 L396 624.51 L396.3 624.52 L396.7 624.49 L397.1 624.51 L397.5 624.5 L397.9 624.41 L398.3 624.32 L398.7 624.57 L399.1 624.55 L399.5 624.51 L399.9 624.42 L400 624.42 L400.3 624.55 L400.7 624.38 L401.1 624.46 L401.5 624.53 L401.9 624.52 L402.3 624.54 L402.7 624.5 L403.1 624.6 L403.5 624.48 L403.6 624.43 L403.9 624.5 L404.3 624.57 L404.7 624.51 L405.1 624.56 L405.5 624.49 L405.9 624.44 L406.3 624.56 L406.7 624.59 L407.1 624.6 L407.5 624.5 L407.9 624.45 L408.3 624.44 L408.7 624.48 L409.1 624.53 L409.5 624.54 L409.9 624.44 L410.3 624.5 L410.7 624.51 L411.1 624.51 L411.5 624.51 L411.9 624.5 L412.3 624.54 L412.7 624.52 L413.1 624.52 L413.5 624.48 L413.9 624.52 L414.3 624.51 L414.7 624.41 L415.1 624.51 L415.5 624.5 L415.9 624.55 L416.3 624.51 L416.4 624.51 L416.7 624.52 L417.1 624.51 L417.5 624.49 L417.9 624.42 L418.3 624.58 L418.7 624.45 L419.1 624.49 L419.5 624.54 L419.9 624.54 L420.3 624.55 L420.7 624.56 L421.1 624.58 L421.5 624.54 L421.9 624.6 L422.3 624.5 L422.7 624.52 L423.1 624.5 L423.5 624.49 L423.9 624.53 L424 624.59 L424.3 624.5 L424.7 624.48 L425.1 624.54 L425.5 624.55 L425.9 624.6 L426.3 624.59 L426.7 624.54 L427.1 624.51 L427.5 624.53 L427.9 624.51 L428.3 624.45 L428.7 624.51 L429.1 624.51 L429.5 624.51 L429.9 624.5 L430.3 624.6 L430.7 624.57 L431.1 624.58 L431.5 624.5 L431.6 624.47 L431.9 624.5 L432.3 624.53 L432.7 624.51 L433.1 624.51 L433.5 624.57 L433.9 624.55 L434.3 624.48 L434.7 624.5 L435.1 624.49 L435.5 624.53 L435.9 624.47 L436.3 624.51 L436.7 624.56 L437.1 624.53 L437.5 624.49 L437.9 624.49 L438.3 624.53 L438.7 624.55 L439.1 624.57 L439.5 624.53 L439.9 624.47 L440.3 624.58 L440.7 624.55 L441.1 624.55 L441.5 624.55 L441.8 624.49 L441.9 624.51 L442.3 624.54 L442.7 624.58 L443.1 624.54 L443.5 624.39 L443.9 624.49 L444.3 624.54 L444.7 624.59 L445.1 624.58 L445.5 624.6 L445.9 624.6 L446.3 624.6 L446.7 624.59 L447.1 624.48 L447.5 624.56 L447.9 624.57 L448.3 624.52 L448.7 624.56 L449.1 624.56 L449.4 624.52 L449.5 624.53 L449.9 624.52 L450.3 624.54 L450.7 624.52 L451.1 624.56 L451.5 624.45 L451.9 624.51 L452.3 624.45 L452.7 624.5 L453.1 624.55 L453.5 624.54 L453.9 624.53 L454.3 624.54 L454.7 624.6 L455.1 624.5 L455.5 624.57 L455.9 624.48 L456.3 624.51 L456.7 624.54 L457.1 624.5 L457.5 624.54 L457.9 624.58 L458.3 624.49 L458.7 624.53 L459.1 624.52 L459.5 624.45 L459.9 624.52 L460.3 624.5 L460.7 624.6 L461.1 624.51 L461.5 624.6 L461.9 624.53 L462.3 624.6 L462.7 624.59 L463.1 624.57 L463.5 624.59 L463.9 624.6 L464.3 624.6 L464.7 624.6 L465.1 624.55 L465.5 624.49 L465.9 624.41 L466.3 624.5 L466.7 624.57 L467.1 624.57 L467.3 624.56 L467.5 624.53 L467.9 624.52 L468.3 624.53 L468.7 624.56 L469.1 624.47 L469.5 624.57 L469.9 624.49 L470.3 624.53 L470.7 624.52 L471.1 624.53 L471.5 624.5 L471.9 624.49 L472.3 624.53 L472.7 624.5 L473.1 624.6 L473.5 624.55 L473.9 624.52 L474.3 624.52 L474.7 624.5 L475.1 624.43 L475.5 624.52 L475.9 624.56 L476.3 624.49 L476.7 624.54 L477.1 624.5 L477.5 624.54 L477.9 624.57 L478.3 624.58 L478.7 624.58 L479.1 624.53 L479.5 624.59 L479.9 624.54 L480 624.57 L480.3 624.59 L480.7 624.55 L481.1 624.5 L481.5 624.57 L481.9 624.51 L482.3 624.51 L482.7 624.5 L483.1 624.59 L483.5 624.56 L483.9 624.46 L484.3 624.57 L484.7 624.6 L485.1 624.6 L485.5 624.56 L485.9 624.56 L486.3 624.59 L486.7 624.6 L487.1 624.57 L487.5 624.51 L487.9 624.59 L488.3 624.6 L488.7 624.51 L489.1 624.54 L489.5 624.57 L489.9 624.57 L490.3 624.59 L490.7 624.6 L491.1 624.6 L491.5 624.57 L491.9 624.5 L492.3 624.58 L492.7 624.6 L493.1 624.6 L493.5 624.59 L493.9 624.57 L494.3 624.6 L494.7 624.6 L495.1 624.6 L495.5 624.6 L495.9 624.54 L496.3 624.59 L496.7 624.54 L497.1 624.56 L497.5 624.56 L497.9 624.55 L498.3 624.47 L498.7 624.51 L499.1 624.57 L499.5 624.57 L499.9 624.55 L500.3 624.59 L500.7 624.6 L501.1 624.6 L501.5 624.54 L501.9 624.57 L502.3 624.56 L502.7 624.53 L503.1 624.5 L503.5 624.55 L503.9 624.53 L504.3 624.6 L504.7 624.59 L505.1 624.57 L505.5 624.56 L505.9 624.6 L506.3 624.55 L506.7 624.56 L507.1 624.54 L507.5 624.56 L507.9 624.57 L508.3 624.6 L508.7 624.52 L509.1 624.57 L509.5 624.6 L509.9 624.57 L510.3 624.57 L510.7 624.54 L511.1 624.45 L511.5 624.55 L511.9 624.6 L512.3 624.57 L512.7 624.5 L513.1 624.58 L513.5 624.58 L513.9 624.6 L514.3 624.6 L514.7 624.58 L515.1 624.6 L515.5 624.51 L515.9 624.6 L516.3 624.6 L516.7 624.6 L517.1 624.6 L517.5 624.58 L517.9 624.58 L518.3 624.54 L518.7 624.48 L519.1 624.56 L519.5 624.59 L519.9 624.54 L520.3 624.6 L520.7 624.59 L521.1 624.6 L521.5 624.56 L521.9 624.5 L522.3 624.6 L522.7 624.6 L523.1 624.59 L523.5 624.57 L523.9 624.57 L524.3 624.58 L524.7 624.56 L525.1 624.5 L525.5 624.6 L525.9 624.53 L526.3 624.56 L526.7 624.57 L527.1 624.6 L527.5 624.52 L527.9 624.6 L528.3 624.6 L528.7 624.6 L529.1 624.6 L529.5 624.57 L529.9 624.45 L530.3 624.58 L530.7 624.6 L531.1 624.6 L531.5 624.58 L531.9 624.59 L532.3 624.6 L532.7 624.52 L533.1 624.55 L533.5 624.56 L533.9 624.6 L534.3 624.58 L534.7 624.6 L535.1 624.6 L535.5 624.53 L535.9 624.6 L536.3 624.57 L536.7 624.6 L537.1 624.6 L537.5 624.59 L537.9 624.54 L538.3 624.6 L538.7 624.6 L538.8 624.55" fill="none" stroke="#00f" stroke-width="2.2" stroke-linejoin="round" stroke-linecap="butt" />
<path d="M48.5 684.44 L49.73 689.27 L50.95 694.01 L52.18 698.66 L53.4 703.22 L54.63 707.69 L55.86 712.07 L57.08 716.37 L58.31 720.58 L59.53 724.7 L60.76 728.75 L61.99 732.7 L63.21 736.58 L64.44 740.38 L65.66 744.1 L66.89 747.74 L68.12 751.31 L69.34 754.8 L70.57 758.22 L71.8 761.56 L73.02 764.83 L74.25 768.03 L75.47 771.17 L76.7 774.23 L77.93 777.23 L79.15 780.16 L80.38 783.03 L81.6 785.83 L82.83 788.57 L84.06 791.25 L85.28 793.88 L86.51 796.44 L87.73 798.95 L88.96 801.41 L90.19 803.82 L91.41 806.17 L92.64 808.48 L93.86 810.74 L95.09 812.95 L96.32 815.12 L97.54 817.25 L98.77 819.34 L99.99 821.38 L101.22 823.39 L102.45 825.37 L103.67 827.31 L104.9 829.21 L106.13 831.08 L107.35 832.92 L108.58 834.73 L109.8 836.5 L111.03 838.25 L112.26 839.96 L113.48 841.64 L114.71 843.29 L115.93 844.91 L117.16 846.5 L118.39 848.06 L119.61 849.59 L120.84 851.09 L122.06 852.57 L123.29 854.02 L124.52 855.43 L125.74 856.83 L126.97 858.19 L128.19 859.53 L129.42 860.85 L130.65 862.13 L131.87 863.4 L133.1 864.63 L134.32 865.85 L135.55 867.04 L136.78 868.2 L138 869.34 L139.23 870.46 L140.45 871.56 L141.68 872.63 L142.91 873.69 L144.13 874.72 L145.36 875.73 L146.59 876.72 L147.81 877.69 L149.04 878.64 L150.26 879.57 L151.49 880.48 L152.72 881.37 L153.94 882.24 L155.17 883.1 L156.39 883.94 L157.62 884.76 L158.85 885.57 L160.07 886.35 L161.3 887.13 L162.52 887.88 L163.75 888.62 L164.98 889.35 L166.2 890.06 L167.43 890.76 L168.65 891.44 L169.88 892.11 L171.11 892.77 L172.33 893.41 L173.56 894.05 L174.78 894.67 L176.01 895.28 L177.24 895.87 L178.46 896.46 L179.69 897.04 L180.92 897.61 L182.14 898.16 L183.37 898.71 L184.59 899.25 L185.82 899.78 L187.05 900.31 L188.27 900.82 L189.5 901.33 L190.72 901.83 L191.95 902.33 L193.18 902.81 L194.4 903.29 L195.63 903.77 L196.85 904.24 L198.08 904.7 L199.31 905.15 L200.53 905.6 L201.76 906.04 L202.98 906.48 L204.21 906.91 L205.44 907.33 L206.66 907.75 L207.89 908.16 L209.11 908.57 L210.34 908.96 L211.57 909.36 L212.79 909.75 L214.02 910.13 L215.24 910.5 L216.47 910.87 L217.7 911.24 L218.92 911.6 L220.15 911.95 L221.38 912.3 L222.6 912.64 L223.83 912.98 L225.05 913.31 L226.28 913.64 L227.51 913.96 L228.73 914.28 L229.96 914.59 L231.18 914.9 L232.41 915.2 L233.64 915.5 L234.86 915.79 L236.09 916.08 L237.31 916.37 L238.54 916.65 L239.77 916.92 L240.99 917.19 L242.22 917.46 L243.44 917.72 L244.67 917.98 L245.9 918.23 L247.12 918.48 L248.35 918.72 L249.57 918.96 L250.8 919.2 L252.03 919.43 L253.25 919.66 L254.48 919.89 L255.71 920.11 L256.93 920.33 L258.16 920.54 L259.38 920.75 L260.61 920.96 L261.84 921.17 L263.06 921.37 L264.29 921.56 L265.51 921.76 L266.74 921.95 L267.97 922.14 L269.19 922.32 L270.42 922.5 L271.64 922.68 L272.87 922.86 L274.1 923.03 L275.32 923.2 L276.55 923.37 L277.77 923.53 L279 923.7 L280.23 923.86 L281.45 924.01 L282.68 924.17 L283.9 924.32 L285.13 924.47 L286.36 924.62 L287.58 924.77 L288.81 924.91 L290.03 925.05 L291.26 925.19 L292.49 925.33 L293.71 925.47 L294.94 925.6 L296.17 925.73 L297.39 925.86 L298.62 925.99 L299.84 926.12 L301.07 926.25 L302.3 926.37 L303.52 926.49 L304.75 926.62 L305.97 926.74 L307.2 926.86 L308.43 926.97 L309.65 927.09 L310.88 927.21 L312.1 927.32 L313.33 927.44 L314.56 927.55 L315.78 927.66 L317.01 927.77 L318.23 927.88 L319.46 927.99 L320.69 928.1 L321.91 928.2 L323.14 928.31 L324.36 928.41 L325.59 928.52 L326.82 928.62 L328.04 928.72 L329.27 928.82 L330.49 928.92 L331.72 929.02 L332.95 929.12 L334.17 929.22 L335.4 929.31 L336.63 929.41 L337.85 929.5 L339.08 929.59 L340.3 929.69 L341.53 929.78 L342.76 929.87 L343.98 929.96 L345.21 930.04 L346.43 930.13 L347.66 930.22 L348.89 930.3 L350.11 930.39 L351.34 930.47 L352.56 930.56 L353.79 930.64 L355.02 930.72 L356.24 930.8 L357.47 930.88 L358.69 930.96 L359.92 931.04 L361.15 931.12 L362.37 931.19 L363.6 931.27 L364.82 931.35 L366.05 931.42 L367.28 931.49 L368.5 931.57 L369.73 931.64 L370.96 931.71 L372.18 931.78 L373.41 931.85 L374.63 931.92 L375.86 931.99 L377.09 932.06 L378.31 932.13 L379.54 932.19 L380.76 932.26 L381.99 932.32 L383.22 932.39 L384.44 932.45 L385.67 932.52 L386.89 932.58 L388.12 932.64 L389.35 932.7 L390.57 932.76 L391.8 932.82 L393.02 932.88 L394.25 932.94 L395.48 933 L396.7 933.06 L397.93 933.12 L399.15 933.17 L400.38 933.23 L401.61 933.29 L402.83 933.34 L404.06 933.4 L405.28 933.45 L406.51 933.5 L407.74 933.56 L408.96 933.61 L410.19 933.66 L411.42 933.71 L412.64 933.76 L413.87 933.82 L415.09 933.87 L416.32 933.92 L417.55 933.97 L418.77 934.01 L420 934.06 L421.22 934.11 L422.45 934.16 L423.68 934.21 L424.9 934.25 L426.13 934.3 L427.35 934.34 L428.58 934.39 L429.81 934.44 L431.03 934.48 L432.26 934.52 L433.48 934.57 L434.71 934.61 L435.94 934.66 L437.16 934.7 L438.39 934.74 L439.61 934.79 L440.84 934.83 L442.07 934.87 L443.29 934.91 L444.52 934.95 L445.75 934.99 L446.97 935.03 L448.2 935.07 L449.42 935.11 L450.65 935.15 L451.88 935.19 L453.1 935.23 L454.33 935.27 L455.55 935.31 L456.78 935.35 L458.01 935.39 L459.23 935.43 L460.46 935.47 L461.68 935.5 L462.91 935.54 L464.14 935.58 L465.36 935.62 L466.59 935.66 L467.81 935.69 L469.04 935.73 L470.27 935.77 L471.49 935.8 L472.72 935.84 L473.94 935.88 L475.17 935.91 L476.4 935.95 L477.62 935.99 L478.85 936.02 L480.07 936.06 L481.3 936.1 L482.53 936.13 L483.75 936.17 L484.98 936.2 L486.21 936.24 L487.43 936.28 L488.66 936.31 L489.88 936.35 L491.11 936.38 L492.34 936.42 L493.56 936.46 L494.79 936.49 L496.01 936.53 L497.24 936.56 L498.47 936.6 L499.69 936.64 L500.92 936.67 L502.14 936.71 L503.37 936.74 L504.6 936.78 L505.82 936.82 L507.05 936.85 L508.27 936.89 L509.5 936.93 L510.73 936.96 L511.95 937 L513.18 937.04 L514.4 937.08 L515.63 937.11 L516.86 937.15 L518.08 937.19 L519.31 937.23 L520.54 937.26 L521.76 937.3 L522.99 937.34 L524.21 937.38 L525.44 937.42 L526.67 937.46 L527.89 937.5 L529.12 937.54 L530.34 937.58 L531.57 937.62 L532.8 937.66 L534.02 937.7 L535.25 937.74 L536.47 937.78 L537.7 937.82" fill="none" stroke="#000" stroke-width="2.5" stroke-linejoin="round" stroke-linecap="butt" />
<path d="M48.5 685.06 L49.73 689.59 L50.95 694.05 L52.18 698.45 L53.4 702.79 L54.63 707.08 L55.86 711.31 L57.08 715.5 L58.31 719.65 L59.53 723.76 L60.76 727.83 L61.99 731.87 L63.21 735.89 L64.44 739.89 L65.66 743.87 L66.89 747.83 L68.12 751.78 L69.34 755.71 L70.57 759.63 L71.8 763.52 L73.02 767.4 L74.25 771.25 L75.47 775.07 L76.7 778.86 L77.93 782.62 L79.15 786.33 L80.38 790.01 L81.6 793.63 L82.83 797.21 L84.06 800.73 L85.28 804.2 L86.51 807.61 L87.73 810.96 L88.96 814.25 L90.19 817.49 L91.41 820.66 L92.64 823.77 L93.86 826.83 L95.09 829.82 L96.32 832.76 L97.54 835.63 L98.77 838.44 L99.99 841.18 L101.22 843.87 L102.45 846.49 L103.67 849.04 L104.9 851.53 L106.13 853.96 L107.35 856.32 L108.58 858.62 L109.8 860.85 L111.03 863.02 L112.26 865.12 L113.48 867.15 L114.71 869.13 L115.93 871.06 L117.16 872.93 L118.39 874.76 L119.61 876.55 L120.84 878.31 L122.06 880.03 L123.29 881.73 L124.52 883.41 L125.74 885.06 L126.97 886.71 L128.19 888.34 L129.42 889.97 L130.65 891.6 L131.87 893.24 L133.1 894.86 L134.32 896.48 L135.55 898.08 L136.78 899.65 L138 901.18 L139.23 902.68 L140.45 904.13 L141.68 905.52 L142.91 906.86 L144.13 908.13 L145.36 909.35 L146.59 910.51 L147.81 911.62 L149.04 912.69 L150.26 913.71 L151.49 914.7 L152.72 915.64 L153.94 916.55 L155.17 917.43 L156.39 918.29 L157.62 919.12 L158.85 919.93 L160.07 920.72 L161.3 921.5 L162.52 922.27 L163.75 923.03 L164.98 923.78 L166.2 924.53 L167.43 925.28 L168.65 926.01 L169.88 926.74 L171.11 927.46 L172.33 928.18 L173.56 928.88 L174.78 929.58 L176.01 930.26 L177.24 930.93 L178.46 931.6 L179.69 932.24 L180.92 932.88 L182.14 933.5 L183.37 934.11 L184.59 934.71 L185.82 935.28 L187.05 935.85 L188.27 936.39 L189.5 936.92 L190.72 937.43 L191.95 937.92 L193.18 938.39 L194.4 938.84 L195.63 939.27 L196.85 939.68 L198.08 940.07 L199.31 940.44 L200.53 940.78 L201.76 941.1 L202.98 941.39 L204.21 941.66 L205.44 941.91 L206.66 942.12 L207.89 942.31 L209.11 942.48 L210.34 942.61 L211.57 942.72 L212.79 942.79 L214.02 942.84 L215.24 942.86 L216.47 942.84 L217.7 942.79 L218.92 942.72 L220.15 942.62 L221.38 942.51 L222.6 942.37 L223.83 942.21 L225.05 942.05 L226.28 941.87 L227.51 941.69 L228.73 941.5 L229.96 941.3 L231.18 941.11 L232.41 940.92 L233.64 940.74 L234.86 940.57 L236.09 940.41 L237.31 940.26 L238.54 940.13 L239.77 940.02 L240.99 939.93 L242.22 939.87 L243.44 939.82 L244.67 939.79 L245.9 939.77 L247.12 939.77 L248.35 939.76 L249.57 939.76 L250.8 939.75 L252.03 939.75 L253.25 939.74 L254.48 939.73 L255.71 939.72 L256.93 939.72 L258.16 939.73 L259.38 939.74 L260.61 939.76 L261.84 939.79 L263.06 939.83 L264.29 939.89 L265.51 939.96 L266.74 940.04 L267.97 940.15 L269.19 940.26 L270.42 940.4 L271.64 940.54 L272.87 940.7 L274.1 940.88 L275.32 941.07 L276.55 941.27 L277.77 941.48 L279 941.71 L280.23 941.95 L281.45 942.19 L282.68 942.44 L283.9 942.7 L285.13 942.97 L286.36 943.24 L287.58 943.52 L288.81 943.8 L290.03 944.08 L291.26 944.36 L292.49 944.65 L293.71 944.93 L294.94 945.21 L296.17 945.48 L297.39 945.75 L298.62 946.02 L299.84 946.28 L301.07 946.54 L302.3 946.78 L303.52 947.02 L304.75 947.25 L305.97 947.48 L307.2 947.7 L308.43 947.91 L309.65 948.12 L310.88 948.32 L312.1 948.52 L313.33 948.72 L314.56 948.91 L315.78 949.1 L317.01 949.29 L318.23 949.48 L319.46 949.67 L320.69 949.85 L321.91 950.04 L323.14 950.22 L324.36 950.41 L325.59 950.6 L326.82 950.79 L328.04 950.98 L329.27 951.18 L330.49 951.37 L331.72 951.58 L332.95 951.78 L334.17 951.99 L335.4 952.2 L336.63 952.41 L337.85 952.62 L339.08 952.83 L340.3 953.05 L341.53 953.26 L342.76 953.47 L343.98 953.68 L345.21 953.89 L346.43 954.09 L347.66 954.29 L348.89 954.49 L350.11 954.68 L351.34 954.87 L352.56 955.06 L353.79 955.24 L355.02 955.41 L356.24 955.57 L357.47 955.73 L358.69 955.88 L359.92 956.03 L361.15 956.16 L362.37 956.29 L363.6 956.41 L364.82 956.53 L366.05 956.63 L367.28 956.74 L368.5 956.83 L369.73 956.92 L370.96 957.01 L372.18 957.09 L373.41 957.16 L374.63 957.23 L375.86 957.3 L377.09 957.36 L378.31 957.42 L379.54 957.48 L380.76 957.53 L381.99 957.58 L383.22 957.62 L384.44 957.67 L385.67 957.71 L386.89 957.75 L388.12 957.79 L389.35 957.82 L390.57 957.86 L391.8 957.89 L393.02 957.93 L394.25 957.96 L395.48 957.99 L396.7 958.03 L397.93 958.06 L399.15 958.1 L400.38 958.13 L401.61 958.16 L402.83 958.2 L404.06 958.23 L405.28 958.27 L406.51 958.3 L407.74 958.34 L408.96 958.37 L410.19 958.4 L411.42 958.44 L412.64 958.47 L413.87 958.51 L415.09 958.54 L416.32 958.58 L417.55 958.61 L418.77 958.64 L420 958.68 L421.22 958.71 L422.45 958.75 L423.68 958.78 L424.9 958.82 L426.13 958.85 L427.35 958.89 L428.58 958.92 L429.81 958.96 L431.03 958.99 L432.26 959.03 L433.48 959.06 L434.71 959.09 L435.94 959.13 L437.16 959.16 L438.39 959.2 L439.61 959.23 L440.84 959.27 L442.07 959.3 L443.29 959.34 L444.52 959.37 L445.75 959.41 L446.97 959.44 L448.2 959.47 L449.42 959.51 L450.65 959.54 L451.88 959.58 L453.1 959.61 L454.33 959.65 L455.55 959.68 L456.78 959.71 L458.01 959.75 L459.23 959.78 L460.46 959.82 L461.68 959.85 L462.91 959.89 L464.14 959.92 L465.36 959.95 L466.59 959.99 L467.81 960.02 L469.04 960.05 L470.27 960.09 L471.49 960.12 L472.72 960.16 L473.94 960.19 L475.17 960.22 L476.4 960.26 L477.62 960.29 L478.85 960.32 L480.07 960.36 L481.3 960.39 L482.53 960.42 L483.75 960.46 L484.98 960.49 L486.21 960.52 L487.43 960.56 L488.66 960.59 L489.88 960.62 L491.11 960.65 L492.34 960.69 L493.56 960.72 L494.79 960.75 L496.01 960.78 L497.24 960.82 L498.47 960.85 L499.69 960.88 L500.92 960.91 L502.14 960.94 L503.37 960.98 L504.6 961.01 L505.82 961.04 L507.05 961.07 L508.27 961.1 L509.5 961.13 L510.73 961.16 L511.95 961.2 L513.18 961.23 L514.4 961.26 L515.63 961.29 L516.86 961.32 L518.08 961.35 L519.31 961.38 L520.54 961.41 L521.76 961.44 L522.99 961.47 L524.21 961.5 L525.44 961.53 L526.67 961.56 L527.89 961.59 L529.12 961.62 L530.34 961.65 L531.57 961.68 L532.8 961.71 L534.02 961.73 L535.25 961.76 L536.47 961.79 L537.7 961.82" fill="none" stroke="#f00" stroke-width="2.2" stroke-linejoin="round" stroke-linecap="butt" />
<path d="M48.5 685.27 L49.73 689.48 L50.95 693.71 L52.18 697.94 L53.4 702.18 L54.63 706.42 L55.86 710.66 L57.08 714.9 L58.31 719.14 L59.53 723.37 L60.76 727.59 L61.99 731.8 L63.21 735.99 L64.44 740.17 L65.66 744.33 L66.89 748.47 L68.12 752.58 L69.34 756.67 L70.57 760.72 L71.8 764.75 L73.02 768.74 L74.25 772.69 L75.47 776.61 L76.7 780.48 L77.93 784.31 L79.15 788.09 L80.38 791.82 L81.6 795.5 L82.83 799.13 L84.06 802.71 L85.28 806.24 L86.51 809.7 L87.73 813.11 L88.96 816.46 L90.19 819.75 L91.41 822.97 L92.64 826.13 L93.86 829.22 L95.09 832.25 L96.32 835.2 L97.54 838.08 L98.77 840.89 L99.99 843.62 L101.22 846.27 L102.45 848.85 L103.67 851.34 L104.9 853.76 L106.13 856.1 L107.35 858.38 L108.58 860.59 L109.8 862.74 L111.03 864.84 L112.26 866.89 L113.48 868.89 L114.71 870.86 L115.93 872.78 L117.16 874.68 L118.39 876.55 L119.61 878.39 L120.84 880.22 L122.06 882.03 L123.29 883.81 L124.52 885.57 L125.74 887.3 L126.97 889.01 L128.19 890.69 L129.42 892.35 L130.65 893.97 L131.87 895.57 L133.1 897.13 L134.32 898.66 L135.55 900.15 L136.78 901.61 L138 903.04 L139.23 904.43 L140.45 905.78 L141.68 907.09 L142.91 908.36 L144.13 909.59 L145.36 910.78 L146.59 911.93 L147.81 913.05 L149.04 914.14 L150.26 915.19 L151.49 916.22 L152.72 917.21 L153.94 918.17 L155.17 919.11 L156.39 920.03 L157.62 920.92 L158.85 921.78 L160.07 922.63 L161.3 923.45 L162.52 924.26 L163.75 925.05 L164.98 925.83 L166.2 926.59 L167.43 927.34 L168.65 928.08 L169.88 928.81 L171.11 929.53 L172.33 930.24 L173.56 930.95 L174.78 931.65 L176.01 932.35 L177.24 933.05 L178.46 933.74 L179.69 934.43 L180.92 935.11 L182.14 935.78 L183.37 936.44 L184.59 937.09 L185.82 937.73 L187.05 938.36 L188.27 938.97 L189.5 939.56 L190.72 940.14 L191.95 940.7 L193.18 941.24 L194.4 941.75 L195.63 942.25 L196.85 942.72 L198.08 943.17 L199.31 943.59 L200.53 943.98 L201.76 944.35 L202.98 944.68 L204.21 944.99 L205.44 945.26 L206.66 945.5 L207.89 945.71 L209.11 945.9 L210.34 946.06 L211.57 946.19 L212.79 946.31 L214.02 946.4 L215.24 946.47 L216.47 946.53 L217.7 946.57 L218.92 946.59 L220.15 946.61 L221.38 946.61 L222.6 946.6 L223.83 946.58 L225.05 946.56 L226.28 946.53 L227.51 946.5 L228.73 946.47 L229.96 946.44 L231.18 946.41 L232.41 946.38 L233.64 946.36 L234.86 946.35 L236.09 946.34 L237.31 946.33 L238.54 946.34 L239.77 946.34 L240.99 946.36 L242.22 946.38 L243.44 946.4 L244.67 946.43 L245.9 946.46 L247.12 946.5 L248.35 946.54 L249.57 946.59 L250.8 946.64 L252.03 946.7 L253.25 946.76 L254.48 946.83 L255.71 946.9 L256.93 946.97 L258.16 947.05 L259.38 947.13 L260.61 947.22 L261.84 947.31 L263.06 947.4 L264.29 947.5 L265.51 947.6 L266.74 947.7 L267.97 947.81 L269.19 947.91 L270.42 948.03 L271.64 948.14 L272.87 948.26 L274.1 948.38 L275.32 948.5 L276.55 948.62 L277.77 948.75 L279 948.88 L280.23 949.01 L281.45 949.14 L282.68 949.27 L283.9 949.41 L285.13 949.55 L286.36 949.68 L287.58 949.82 L288.81 949.97 L290.03 950.11 L291.26 950.25 L292.49 950.4 L293.71 950.54 L294.94 950.69 L296.17 950.83 L297.39 950.98 L298.62 951.13 L299.84 951.27 L301.07 951.42 L302.3 951.57 L303.52 951.72 L304.75 951.87 L305.97 952.02 L307.2 952.17 L308.43 952.32 L309.65 952.47 L310.88 952.62 L312.1 952.77 L313.33 952.92 L314.56 953.07 L315.78 953.22 L317.01 953.37 L318.23 953.52 L319.46 953.67 L320.69 953.82 L321.91 953.96 L323.14 954.11 L324.36 954.26 L325.59 954.41 L326.82 954.55 L328.04 954.7 L329.27 954.84 L330.49 954.99 L331.72 955.13 L332.95 955.27 L334.17 955.41 L335.4 955.55 L336.63 955.69 L337.85 955.83 L339.08 955.97 L340.3 956.1 L341.53 956.24 L342.76 956.37 L343.98 956.51 L345.21 956.64 L346.43 956.77 L347.66 956.9 L348.89 957.02 L350.11 957.15 L351.34 957.27 L352.56 957.39 L353.79 957.51 L355.02 957.63 L356.24 957.75 L357.47 957.86 L358.69 957.98 L359.92 958.09 L361.15 958.2 L362.37 958.31 L363.6 958.41 L364.82 958.51 L366.05 958.61 L367.28 958.71 L368.5 958.81 L369.73 958.9 L370.96 959 L372.18 959.08 L373.41 959.17 L374.63 959.26 L375.86 959.34 L377.09 959.42 L378.31 959.49 L379.54 959.57 L380.76 959.64 L381.99 959.71 L383.22 959.77 L384.44 959.84 L385.67 959.9 L386.89 959.96 L388.12 960.01 L389.35 960.07 L390.57 960.12 L391.8 960.17 L393.02 960.22 L394.25 960.26 L395.48 960.31 L396.7 960.35 L397.93 960.39 L399.15 960.43 L400.38 960.46 L401.61 960.5 L402.83 960.53 L404.06 960.56 L405.28 960.59 L406.51 960.62 L407.74 960.64 L408.96 960.66 L410.19 960.69 L411.42 960.71 L412.64 960.72 L413.87 960.74 L415.09 960.76 L416.32 960.77 L417.55 960.78 L418.77 960.8 L420 960.81 L421.22 960.82 L422.45 960.82 L423.68 960.83 L424.9 960.84 L426.13 960.84 L427.35 960.84 L428.58 960.85 L429.81 960.85 L431.03 960.85 L432.26 960.85 L433.48 960.85 L434.71 960.84 L435.94 960.84 L437.16 960.84 L438.39 960.83 L439.61 960.83 L440.84 960.82 L442.07 960.82 L443.29 960.81 L444.52 960.8 L445.75 960.79 L446.97 960.78 L448.2 960.78 L449.42 960.77 L450.65 960.76 L451.88 960.75 L453.1 960.74 L454.33 960.73 L455.55 960.72 L456.78 960.71 L458.01 960.7 L459.23 960.68 L460.46 960.67 L461.68 960.66 L462.91 960.65 L464.14 960.64 L465.36 960.63 L466.59 960.62 L467.81 960.61 L469.04 960.6 L470.27 960.59 L471.49 960.58 L472.72 960.57 L473.94 960.57 L475.17 960.56 L476.4 960.55 L477.62 960.54 L478.85 960.54 L480.07 960.53 L481.3 960.53 L482.53 960.52 L483.75 960.52 L484.98 960.52 L486.21 960.51 L487.43 960.51 L488.66 960.51 L489.88 960.51 L491.11 960.52 L492.34 960.52 L493.56 960.52 L494.79 960.53 L496.01 960.53 L497.24 960.54 L498.47 960.55 L499.69 960.56 L500.92 960.57 L502.14 960.58 L503.37 960.59 L504.6 960.61 L505.82 960.62 L507.05 960.64 L508.27 960.66 L509.5 960.68 L510.73 960.7 L511.95 960.73 L513.18 960.75 L514.4 960.78 L515.63 960.81 L516.86 960.84 L518.08 960.87 L519.31 960.91 L520.54 960.94 L521.76 960.98 L522.99 961.02 L524.21 961.06 L525.44 961.11 L526.67 961.15 L527.89 961.2 L529.12 961.25 L530.34 961.31 L531.57 961.36 L532.8 961.42 L534.02 961.48 L535.25 961.54 L536.47 961.6 L537.7 961.67" fill="none" stroke="#0f0" stroke-width="2.2" stroke-linejoin="round" stroke-linecap="butt" />
<path d="M48.5 685.16 L49.73 689.59 L50.95 693.95 L52.18 698.26 L53.4 702.52 L54.63 706.74 L55.86 710.94 L57.08 715.11 L58.31 719.27 L59.53 723.42 L60.76 727.57 L61.99 731.72 L63.21 735.89 L64.44 740.09 L65.66 744.31 L66.89 748.55 L68.12 752.8 L69.34 757.05 L70.57 761.29 L71.8 765.51 L73.02 769.7 L74.25 773.84 L75.47 777.93 L76.7 781.96 L77.93 785.92 L79.15 789.81 L80.38 793.63 L81.6 797.38 L82.83 801.06 L84.06 804.68 L85.28 808.23 L86.51 811.72 L87.73 815.14 L88.96 818.49 L90.19 821.78 L91.41 825 L92.64 828.16 L93.86 831.25 L95.09 834.28 L96.32 837.24 L97.54 840.15 L98.77 842.98 L99.99 845.76 L101.22 848.47 L102.45 851.13 L103.67 853.72 L104.9 856.25 L106.13 858.72 L107.35 861.14 L108.58 863.49 L109.8 865.79 L111.03 868.04 L112.26 870.23 L113.48 872.37 L114.71 874.46 L115.93 876.49 L117.16 878.48 L118.39 880.41 L119.61 882.3 L120.84 884.14 L122.06 885.94 L123.29 887.69 L124.52 889.39 L125.74 891.06 L126.97 892.68 L128.19 894.26 L129.42 895.8 L130.65 897.3 L131.87 898.76 L133.1 900.19 L134.32 901.58 L135.55 902.93 L136.78 904.25 L138 905.54 L139.23 906.8 L140.45 908.02 L141.68 909.22 L142.91 910.38 L144.13 911.52 L145.36 912.63 L146.59 913.72 L147.81 914.78 L149.04 915.81 L150.26 916.82 L151.49 917.82 L152.72 918.79 L153.94 919.74 L155.17 920.67 L156.39 921.58 L157.62 922.48 L158.85 923.36 L160.07 924.22 L161.3 925.08 L162.52 925.91 L163.75 926.74 L164.98 927.56 L166.2 928.36 L167.43 929.15 L168.65 929.94 L169.88 930.71 L171.11 931.46 L172.33 932.21 L173.56 932.94 L174.78 933.66 L176.01 934.37 L177.24 935.07 L178.46 935.75 L179.69 936.42 L180.92 937.08 L182.14 937.72 L183.37 938.35 L184.59 938.97 L185.82 939.57 L187.05 940.16 L188.27 940.74 L189.5 941.3 L190.72 941.84 L191.95 942.37 L193.18 942.89 L194.4 943.39 L195.63 943.88 L196.85 944.35 L198.08 944.8 L199.31 945.24 L200.53 945.67 L201.76 946.08 L202.98 946.47 L204.21 946.84 L205.44 947.2 L206.66 947.55 L207.89 947.87 L209.11 948.18 L210.34 948.47 L211.57 948.75 L212.79 949 L214.02 949.24 L215.24 949.47 L216.47 949.67 L217.7 949.86 L218.92 950.02 L220.15 950.17 L221.38 950.31 L222.6 950.42 L223.83 950.53 L225.05 950.61 L226.28 950.69 L227.51 950.75 L228.73 950.81 L229.96 950.85 L231.18 950.89 L232.41 950.92 L233.64 950.94 L234.86 950.96 L236.09 950.98 L237.31 950.99 L238.54 951 L239.77 951.01 L240.99 951.02 L242.22 951.03 L243.44 951.05 L244.67 951.06 L245.9 951.09 L247.12 951.12 L248.35 951.16 L249.57 951.2 L250.8 951.25 L252.03 951.32 L253.25 951.39 L254.48 951.47 L255.71 951.56 L256.93 951.66 L258.16 951.76 L259.38 951.87 L260.61 951.99 L261.84 952.11 L263.06 952.24 L264.29 952.37 L265.51 952.5 L266.74 952.64 L267.97 952.78 L269.19 952.93 L270.42 953.08 L271.64 953.22 L272.87 953.37 L274.1 953.52 L275.32 953.68 L276.55 953.83 L277.77 953.97 L279 954.12 L280.23 954.27 L281.45 954.42 L282.68 954.56 L283.9 954.7 L285.13 954.84 L286.36 954.98 L287.58 955.11 L288.81 955.25 L290.03 955.38 L291.26 955.51 L292.49 955.64 L293.71 955.77 L294.94 955.9 L296.17 956.02 L297.39 956.15 L298.62 956.27 L299.84 956.39 L301.07 956.51 L302.3 956.62 L303.52 956.74 L304.75 956.85 L305.97 956.96 L307.2 957.07 L308.43 957.18 L309.65 957.29 L310.88 957.4 L312.1 957.5 L313.33 957.6 L314.56 957.71 L315.78 957.81 L317.01 957.91 L318.23 958 L319.46 958.1 L320.69 958.19 L321.91 958.29 L323.14 958.38 L324.36 958.47 L325.59 958.56 L326.82 958.64 L328.04 958.73 L329.27 958.82 L330.49 958.9 L331.72 958.98 L332.95 959.06 L334.17 959.14 L335.4 959.22 L336.63 959.3 L337.85 959.37 L339.08 959.45 L340.3 959.52 L341.53 959.59 L342.76 959.66 L343.98 959.73 L345.21 959.8 L346.43 959.87 L347.66 959.94 L348.89 960 L350.11 960.06 L351.34 960.13 L352.56 960.19 L353.79 960.25 L355.02 960.31 L356.24 960.37 L357.47 960.42 L358.69 960.48 L359.92 960.53 L361.15 960.59 L362.37 960.64 L363.6 960.69 L364.82 960.74 L366.05 960.79 L367.28 960.84 L368.5 960.89 L369.73 960.93 L370.96 960.98 L372.18 961.02 L373.41 961.07 L374.63 961.11 L375.86 961.15 L377.09 961.19 L378.31 961.23 L379.54 961.27 L380.76 961.31 L381.99 961.35 L383.22 961.38 L384.44 961.42 L385.67 961.45 L386.89 961.49 L388.12 961.52 L389.35 961.55 L390.57 961.58 L391.8 961.61 L393.02 961.64 L394.25 961.67 L395.48 961.7 L396.7 961.73 L397.93 961.75 L399.15 961.78 L400.38 961.81 L401.61 961.83 L402.83 961.85 L404.06 961.88 L405.28 961.9 L406.51 961.92 L407.74 961.94 L408.96 961.96 L410.19 961.98 L411.42 962 L412.64 962.02 L413.87 962.04 L415.09 962.05 L416.32 962.07 L417.55 962.09 L418.77 962.1 L420 962.12 L421.22 962.13 L422.45 962.14 L423.68 962.16 L424.9 962.17 L426.13 962.18 L427.35 962.19 L428.58 962.2 L429.81 962.21 L431.03 962.22 L432.26 962.23 L433.48 962.24 L434.71 962.25 L435.94 962.26 L437.16 962.27 L438.39 962.28 L439.61 962.28 L440.84 962.29 L442.07 962.3 L443.29 962.3 L444.52 962.31 L445.75 962.31 L446.97 962.32 L448.2 962.32 L449.42 962.33 L450.65 962.33 L451.88 962.33 L453.1 962.34 L454.33 962.34 L455.55 962.34 L456.78 962.35 L458.01 962.35 L459.23 962.35 L460.46 962.35 L461.68 962.35 L462.91 962.36 L464.14 962.36 L465.36 962.36 L466.59 962.36 L467.81 962.36 L469.04 962.36 L470.27 962.36 L471.49 962.36 L472.72 962.36 L473.94 962.36 L475.17 962.36 L476.4 962.36 L477.62 962.36 L478.85 962.36 L480.07 962.36 L481.3 962.36 L482.53 962.36 L483.75 962.36 L484.98 962.36 L486.21 962.36 L487.43 962.36 L488.66 962.36 L489.88 962.36 L491.11 962.36 L492.34 962.36 L493.56 962.36 L494.79 962.36 L496.01 962.36 L497.24 962.36 L498.47 962.36 L499.69 962.36 L500.92 962.36 L502.14 962.36 L503.37 962.36 L504.6 962.36 L505.82 962.37 L507.05 962.37 L508.27 962.37 L509.5 962.37 L510.73 962.37 L511.95 962.37 L513.18 962.38 L514.4 962.38 L515.63 962.38 L516.86 962.39 L518.08 962.39 L519.31 962.39 L520.54 962.4 L521.76 962.4 L522.99 962.41 L524.21 962.41 L525.44 962.42 L526.67 962.42 L527.89 962.43 L529.12 962.43 L530.34 962.44 L531.57 962.45 L532.8 962.46 L534.02 962.46 L535.25 962.47 L536.47 962.48 L537.7 962.49" fill="none" stroke="#00f" stroke-width="2.2" stroke-linejoin="round" stroke-linecap="butt" />
<text x="52.3" y="641" text-anchor="middle">0</text>
<text x="100.95" y="641" text-anchor="middle">5</text>
<text x="149.6" y="641" text-anchor="middle">10</text>
<text x="198.25" y="641" text-anchor="middle">15</text>
<text x="246.9" y="641" text-anchor="middle">20</text>
<text x="295.55" y="641" text-anchor="middle">25</text>
<text x="344.2" y="641" text-anchor="middle">30</text>
<text x="392.85" y="641" text-anchor="middle">35</text>
<text x="441.5" y="641" text-anchor="middle">40</text>
<text x="490.15" y="641" text-anchor="middle">45</text>
<text x="538.8" y="641" text-anchor="middle">50</text>
<text x="48.5" y="629.8" text-anchor="end">0</text>
<text x="48.5" y="536.73" text-anchor="end">0.05</text>
<text x="48.5" y="443.67" text-anchor="end">0.1</text>
<text x="48.5" y="350.6" text-anchor="end">0.15</text>
<text transform="translate(19.8 486) rotate(-90)" text-anchor="middle" font-size="16.8">I(t)</text>
<rect x="412.3" y="355.4" width="117.8" height="73.2" fill="#fff" stroke="#262626" stroke-width="1"/>
<path d="M415.9 365.3 h34.7" stroke="#000" stroke-width="2"/>
<text x="452.6" y="370.6" font-size="13.3" fill="#000">deterministic</text>
<path d="M415.9 383 h34.7" stroke="#f00" stroke-width="2"/>
<text x="452.6" y="388.3" font-size="13.3" fill="#000">Q=0.25</text>
<path d="M415.9 400.7 h34.7" stroke="#0f0" stroke-width="2"/>
<text x="452.6" y="406" font-size="13.3" fill="#000">Q=0.35</text>
<path d="M415.9 418.4 h34.7" stroke="#00f" stroke-width="2"/>
<text x="452.6" y="423.7" font-size="13.3" fill="#000">Q=0.45</text>
<text x="48.5" y="978" text-anchor="middle">0</text>
<text x="97.42" y="978" text-anchor="middle">5</text>
<text x="146.34" y="978" text-anchor="middle">10</text>
<text x="195.26" y="978" text-anchor="middle">15</text>
<text x="244.18" y="978" text-anchor="middle">20</text>
<text x="293.1" y="978" text-anchor="middle">25</text>
<text x="342.02" y="978" text-anchor="middle">30</text>
<text x="390.94" y="978" text-anchor="middle">35</text>
<text x="439.86" y="978" text-anchor="middle">40</text>
<text x="488.78" y="978" text-anchor="middle">45</text>
<text x="537.7" y="978" text-anchor="middle">50</text>
<text x="44.8" y="966.9" text-anchor="end">0</text>
<text x="44.8" y="939.13" text-anchor="end">0.01</text>
<text x="44.8" y="911.36" text-anchor="end">0.02</text>
<text x="44.8" y="883.59" text-anchor="end">0.03</text>
<text x="44.8" y="855.82" text-anchor="end">0.04</text>
<text x="44.8" y="828.05" text-anchor="end">0.05</text>
<text x="44.8" y="800.28" text-anchor="end">0.06</text>
<text x="44.8" y="772.51" text-anchor="end">0.07</text>
<text x="44.8" y="744.74" text-anchor="end">0.08</text>
<text x="44.8" y="716.97" text-anchor="end">0.09</text>
<text x="44.8" y="689.2" text-anchor="end">0.1</text>
<text transform="translate(15.9 824) rotate(-90)" text-anchor="middle" font-size="16.8">R(t)</text>
<text x="293" y="998.7" text-anchor="middle" font-size="16.8">Time t</text>
<rect x="410.6" y="694.1" width="117.8" height="73.2" fill="#fff" stroke="#262626" stroke-width="1"/>
<path d="M414.2 704 h34.7" stroke="#000" stroke-width="2"/>
<text x="450.9" y="709.3" font-size="13.3" fill="#000">deterministic</text>
<path d="M414.2 721.7 h34.7" stroke="#f00" stroke-width="2"/>
<text x="450.9" y="727" font-size="13.3" fill="#000">Q=0.25</text>
<path d="M414.2 739.4 h34.7" stroke="#0f0" stroke-width="2"/>
<text x="450.9" y="744.7" font-size="13.3" fill="#000">Q=0.35</text>
<path d="M414.2 757.1 h34.7" stroke="#00f" stroke-width="2"/>
<text x="450.9" y="762.4" font-size="13.3" fill="#000">Q=0.45</text>
</svg>
<div class="cap" style="top:316.9px;left:70px;">(<b>a</b>) The trajectory of susceptible individuals <i>S</i>(<i>t</i>) in Example 1.</div>
<div class="cap" style="top:654.8px;left:80.4px;">(<b>b</b>) The trajectory of infected individuals <i>I</i>(<i>t</i>) in Example 1.</div>
<div class="cap" style="top:1009.6px;left:77.3px;">(<b>c</b>) The trajectory of removed individuals <i>R</i>(<i>t</i>) in Example 1.</div>

</body></html>
